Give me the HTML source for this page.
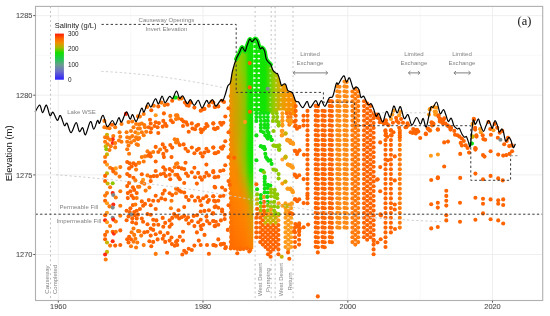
<!DOCTYPE html><html><head><meta charset="utf-8"><style>html,body{margin:0;padding:0;background:#fff;width:550px;height:316px;overflow:hidden}svg{display:block}text{font-family:"Liberation Sans",sans-serif}</style></head><body>
<svg width="550" height="316" viewBox="0 0 550 316">
<defs><linearGradient id="cb" x1="0" y1="1" x2="0" y2="0"><stop offset="0" stop-color="#2a1fff"/><stop offset="0.18" stop-color="#6c6cc8"/><stop offset="0.32" stop-color="#6a9c90"/><stop offset="0.45" stop-color="#20c850"/><stop offset="0.58" stop-color="#10e000"/><stop offset="0.70" stop-color="#a8b800"/><stop offset="0.80" stop-color="#f09000"/><stop offset="0.90" stop-color="#ff6000"/><stop offset="1" stop-color="#ff1a00"/></linearGradient><linearGradient id="bg0" x1="229.5" x2="253.5" y1="0" y2="0" gradientUnits="userSpaceOnUse"><stop offset="0.000" stop-color="#d8b400"/><stop offset="0.146" stop-color="#c0c000"/><stop offset="0.312" stop-color="#a0c800"/><stop offset="0.479" stop-color="#88d000"/><stop offset="0.646" stop-color="#60d800"/><stop offset="0.771" stop-color="#20e000"/><stop offset="0.854" stop-color="#10e400"/><stop offset="1.000" stop-color="#10e400"/></linearGradient><linearGradient id="bg1" x1="229.5" x2="253.5" y1="0" y2="0" gradientUnits="userSpaceOnUse"><stop offset="0.000" stop-color="#d8b400"/><stop offset="0.146" stop-color="#c0c000"/><stop offset="0.312" stop-color="#a0c800"/><stop offset="0.479" stop-color="#88d000"/><stop offset="0.646" stop-color="#60d800"/><stop offset="0.771" stop-color="#20e000"/><stop offset="0.854" stop-color="#10e400"/><stop offset="1.000" stop-color="#10e400"/></linearGradient><linearGradient id="bg2" x1="229.5" x2="253.5" y1="0" y2="0" gradientUnits="userSpaceOnUse"><stop offset="0.000" stop-color="#d9b300"/><stop offset="0.146" stop-color="#c1bf00"/><stop offset="0.312" stop-color="#a1c800"/><stop offset="0.479" stop-color="#89d000"/><stop offset="0.646" stop-color="#62d800"/><stop offset="0.771" stop-color="#21e000"/><stop offset="0.854" stop-color="#10e400"/><stop offset="1.000" stop-color="#10e400"/></linearGradient><linearGradient id="bg3" x1="229.5" x2="253.5" y1="0" y2="0" gradientUnits="userSpaceOnUse"><stop offset="0.000" stop-color="#dab100"/><stop offset="0.146" stop-color="#c2be00"/><stop offset="0.312" stop-color="#a2c700"/><stop offset="0.479" stop-color="#8acf00"/><stop offset="0.646" stop-color="#63d700"/><stop offset="0.771" stop-color="#22e000"/><stop offset="0.854" stop-color="#10e400"/><stop offset="1.000" stop-color="#10e400"/></linearGradient><linearGradient id="bg4" x1="229.5" x2="253.5" y1="0" y2="0" gradientUnits="userSpaceOnUse"><stop offset="0.000" stop-color="#dbb000"/><stop offset="0.146" stop-color="#c3bd00"/><stop offset="0.312" stop-color="#a3c700"/><stop offset="0.479" stop-color="#8bcf00"/><stop offset="0.646" stop-color="#65d700"/><stop offset="0.771" stop-color="#23e000"/><stop offset="0.854" stop-color="#10e400"/><stop offset="1.000" stop-color="#10e400"/></linearGradient><linearGradient id="bg5" x1="229.5" x2="253.5" y1="0" y2="0" gradientUnits="userSpaceOnUse"><stop offset="0.000" stop-color="#dbaf00"/><stop offset="0.146" stop-color="#c3bd00"/><stop offset="0.312" stop-color="#a3c600"/><stop offset="0.479" stop-color="#8bce00"/><stop offset="0.646" stop-color="#67d600"/><stop offset="0.771" stop-color="#23e000"/><stop offset="0.854" stop-color="#10e400"/><stop offset="1.000" stop-color="#10e400"/></linearGradient><linearGradient id="bg6" x1="229.5" x2="253.5" y1="0" y2="0" gradientUnits="userSpaceOnUse"><stop offset="0.000" stop-color="#dcae00"/><stop offset="0.146" stop-color="#c4bc00"/><stop offset="0.312" stop-color="#a4c600"/><stop offset="0.479" stop-color="#8cce00"/><stop offset="0.646" stop-color="#68d600"/><stop offset="0.771" stop-color="#24e000"/><stop offset="0.854" stop-color="#10e400"/><stop offset="1.000" stop-color="#10e400"/></linearGradient><linearGradient id="bg7" x1="229.5" x2="253.5" y1="0" y2="0" gradientUnits="userSpaceOnUse"><stop offset="0.000" stop-color="#ddad00"/><stop offset="0.146" stop-color="#c5bb00"/><stop offset="0.312" stop-color="#a5c600"/><stop offset="0.479" stop-color="#8dce00"/><stop offset="0.646" stop-color="#6ad600"/><stop offset="0.771" stop-color="#25e000"/><stop offset="0.854" stop-color="#10e400"/><stop offset="1.000" stop-color="#10e400"/></linearGradient><linearGradient id="bg8" x1="229.5" x2="253.5" y1="0" y2="0" gradientUnits="userSpaceOnUse"><stop offset="0.000" stop-color="#deab00"/><stop offset="0.146" stop-color="#c6ba00"/><stop offset="0.312" stop-color="#a6c500"/><stop offset="0.479" stop-color="#8ecd00"/><stop offset="0.646" stop-color="#6bd500"/><stop offset="0.771" stop-color="#26e000"/><stop offset="0.854" stop-color="#10e400"/><stop offset="1.000" stop-color="#10e400"/></linearGradient><linearGradient id="bg9" x1="229.5" x2="253.5" y1="0" y2="0" gradientUnits="userSpaceOnUse"><stop offset="0.000" stop-color="#dfaa00"/><stop offset="0.146" stop-color="#c7b900"/><stop offset="0.312" stop-color="#a7c500"/><stop offset="0.479" stop-color="#8fcd00"/><stop offset="0.646" stop-color="#6dd500"/><stop offset="0.771" stop-color="#27e000"/><stop offset="0.854" stop-color="#10e400"/><stop offset="1.000" stop-color="#10e400"/></linearGradient><linearGradient id="bg10" x1="229.5" x2="253.5" y1="0" y2="0" gradientUnits="userSpaceOnUse"><stop offset="0.000" stop-color="#dfa900"/><stop offset="0.146" stop-color="#c7b900"/><stop offset="0.312" stop-color="#a7c400"/><stop offset="0.479" stop-color="#8fcc00"/><stop offset="0.646" stop-color="#6fd400"/><stop offset="0.771" stop-color="#27e000"/><stop offset="0.854" stop-color="#10e400"/><stop offset="1.000" stop-color="#10e400"/></linearGradient><linearGradient id="bg11" x1="229.5" x2="253.5" y1="0" y2="0" gradientUnits="userSpaceOnUse"><stop offset="0.000" stop-color="#e0a800"/><stop offset="0.146" stop-color="#c8b700"/><stop offset="0.312" stop-color="#a9c300"/><stop offset="0.479" stop-color="#91cc00"/><stop offset="0.646" stop-color="#71d400"/><stop offset="0.771" stop-color="#28e000"/><stop offset="0.854" stop-color="#10e400"/><stop offset="1.000" stop-color="#10e400"/></linearGradient><linearGradient id="bg12" x1="229.5" x2="253.5" y1="0" y2="0" gradientUnits="userSpaceOnUse"><stop offset="0.000" stop-color="#e1a500"/><stop offset="0.146" stop-color="#cbb400"/><stop offset="0.312" stop-color="#aebf00"/><stop offset="0.479" stop-color="#95c800"/><stop offset="0.646" stop-color="#74d200"/><stop offset="0.771" stop-color="#29df00"/><stop offset="0.854" stop-color="#10e400"/><stop offset="1.000" stop-color="#10e400"/></linearGradient><linearGradient id="bg13" x1="229.5" x2="253.5" y1="0" y2="0" gradientUnits="userSpaceOnUse"><stop offset="0.000" stop-color="#e3a300"/><stop offset="0.146" stop-color="#cdb000"/><stop offset="0.312" stop-color="#b2bb00"/><stop offset="0.479" stop-color="#99c600"/><stop offset="0.646" stop-color="#78d000"/><stop offset="0.771" stop-color="#2bdf00"/><stop offset="0.854" stop-color="#10e400"/><stop offset="1.000" stop-color="#10e400"/></linearGradient><linearGradient id="bg14" x1="229.5" x2="253.5" y1="0" y2="0" gradientUnits="userSpaceOnUse"><stop offset="0.000" stop-color="#e4a000"/><stop offset="0.146" stop-color="#d0ad00"/><stop offset="0.312" stop-color="#b7b700"/><stop offset="0.479" stop-color="#9dc200"/><stop offset="0.646" stop-color="#7bce00"/><stop offset="0.771" stop-color="#2cde00"/><stop offset="0.854" stop-color="#10e400"/><stop offset="1.000" stop-color="#10e400"/></linearGradient><linearGradient id="bg15" x1="229.5" x2="253.5" y1="0" y2="0" gradientUnits="userSpaceOnUse"><stop offset="0.000" stop-color="#e59e00"/><stop offset="0.146" stop-color="#d2a900"/><stop offset="0.312" stop-color="#bcb200"/><stop offset="0.479" stop-color="#a2c000"/><stop offset="0.646" stop-color="#7fcc00"/><stop offset="0.771" stop-color="#2dde00"/><stop offset="0.854" stop-color="#10e400"/><stop offset="1.000" stop-color="#10e400"/></linearGradient><linearGradient id="bg16" x1="229.5" x2="253.5" y1="0" y2="0" gradientUnits="userSpaceOnUse"><stop offset="0.000" stop-color="#e69c00"/><stop offset="0.146" stop-color="#d4a500"/><stop offset="0.312" stop-color="#c1ae00"/><stop offset="0.479" stop-color="#a6bc00"/><stop offset="0.646" stop-color="#83cb00"/><stop offset="0.771" stop-color="#2edd00"/><stop offset="0.854" stop-color="#10e400"/><stop offset="1.000" stop-color="#10e400"/></linearGradient><linearGradient id="bg17" x1="229.5" x2="253.5" y1="0" y2="0" gradientUnits="userSpaceOnUse"><stop offset="0.000" stop-color="#e79900"/><stop offset="0.146" stop-color="#d7a200"/><stop offset="0.312" stop-color="#c6aa00"/><stop offset="0.479" stop-color="#aaba00"/><stop offset="0.646" stop-color="#86c900"/><stop offset="0.771" stop-color="#2fdc00"/><stop offset="0.854" stop-color="#10e400"/><stop offset="1.000" stop-color="#10e400"/></linearGradient><linearGradient id="bg18" x1="229.5" x2="253.5" y1="0" y2="0" gradientUnits="userSpaceOnUse"><stop offset="0.000" stop-color="#e89800"/><stop offset="0.146" stop-color="#d8a000"/><stop offset="0.312" stop-color="#c8a800"/><stop offset="0.479" stop-color="#acb800"/><stop offset="0.646" stop-color="#88c800"/><stop offset="0.771" stop-color="#30dc00"/><stop offset="0.854" stop-color="#10e400"/><stop offset="1.000" stop-color="#10e400"/></linearGradient><linearGradient id="bg19" x1="229.5" x2="253.5" y1="0" y2="0" gradientUnits="userSpaceOnUse"><stop offset="0.000" stop-color="#e99700"/><stop offset="0.146" stop-color="#d99f00"/><stop offset="0.312" stop-color="#c8a700"/><stop offset="0.479" stop-color="#adb700"/><stop offset="0.646" stop-color="#88c700"/><stop offset="0.771" stop-color="#30dc00"/><stop offset="0.854" stop-color="#10e400"/><stop offset="1.000" stop-color="#10e400"/></linearGradient><linearGradient id="bg20" x1="229.5" x2="253.5" y1="0" y2="0" gradientUnits="userSpaceOnUse"><stop offset="0.000" stop-color="#ea9600"/><stop offset="0.146" stop-color="#d99f00"/><stop offset="0.312" stop-color="#c8a700"/><stop offset="0.479" stop-color="#adb700"/><stop offset="0.646" stop-color="#88c700"/><stop offset="0.771" stop-color="#30dc00"/><stop offset="0.854" stop-color="#10e400"/><stop offset="1.000" stop-color="#10e400"/></linearGradient><linearGradient id="bg21" x1="229.5" x2="253.5" y1="0" y2="0" gradientUnits="userSpaceOnUse"><stop offset="0.000" stop-color="#ea9600"/><stop offset="0.146" stop-color="#d99f00"/><stop offset="0.312" stop-color="#c8a700"/><stop offset="0.479" stop-color="#adb700"/><stop offset="0.646" stop-color="#88c700"/><stop offset="0.771" stop-color="#30dc00"/><stop offset="0.854" stop-color="#10e400"/><stop offset="1.000" stop-color="#10e400"/></linearGradient><linearGradient id="bg22" x1="229.5" x2="253.5" y1="0" y2="0" gradientUnits="userSpaceOnUse"><stop offset="0.000" stop-color="#eb9500"/><stop offset="0.146" stop-color="#da9e00"/><stop offset="0.312" stop-color="#c8a600"/><stop offset="0.479" stop-color="#aeb600"/><stop offset="0.646" stop-color="#88c600"/><stop offset="0.771" stop-color="#30dc00"/><stop offset="0.854" stop-color="#10e400"/><stop offset="1.000" stop-color="#10e400"/></linearGradient><linearGradient id="bg23" x1="229.5" x2="253.5" y1="0" y2="0" gradientUnits="userSpaceOnUse"><stop offset="0.000" stop-color="#eb9500"/><stop offset="0.146" stop-color="#da9e00"/><stop offset="0.312" stop-color="#c8a600"/><stop offset="0.479" stop-color="#aeb600"/><stop offset="0.646" stop-color="#88c600"/><stop offset="0.771" stop-color="#30dc00"/><stop offset="0.854" stop-color="#10e400"/><stop offset="1.000" stop-color="#10e400"/></linearGradient><linearGradient id="bg24" x1="229.5" x2="253.5" y1="0" y2="0" gradientUnits="userSpaceOnUse"><stop offset="0.000" stop-color="#ec9400"/><stop offset="0.146" stop-color="#db9d00"/><stop offset="0.312" stop-color="#c8a500"/><stop offset="0.479" stop-color="#afb500"/><stop offset="0.646" stop-color="#88c500"/><stop offset="0.771" stop-color="#30dc00"/><stop offset="0.854" stop-color="#10e400"/><stop offset="1.000" stop-color="#10e400"/></linearGradient><linearGradient id="bg25" x1="229.5" x2="253.5" y1="0" y2="0" gradientUnits="userSpaceOnUse"><stop offset="0.000" stop-color="#ec9400"/><stop offset="0.146" stop-color="#db9d00"/><stop offset="0.312" stop-color="#c8a500"/><stop offset="0.479" stop-color="#afb500"/><stop offset="0.646" stop-color="#88c500"/><stop offset="0.771" stop-color="#30dc00"/><stop offset="0.854" stop-color="#10e400"/><stop offset="1.000" stop-color="#10e400"/></linearGradient><linearGradient id="bg26" x1="229.5" x2="253.5" y1="0" y2="0" gradientUnits="userSpaceOnUse"><stop offset="0.000" stop-color="#ed9300"/><stop offset="0.146" stop-color="#db9d00"/><stop offset="0.312" stop-color="#c8a500"/><stop offset="0.479" stop-color="#afb500"/><stop offset="0.646" stop-color="#88c500"/><stop offset="0.771" stop-color="#30dc00"/><stop offset="0.854" stop-color="#10e400"/><stop offset="1.000" stop-color="#10e400"/></linearGradient><linearGradient id="bg27" x1="229.5" x2="253.5" y1="0" y2="0" gradientUnits="userSpaceOnUse"><stop offset="0.000" stop-color="#ee9200"/><stop offset="0.146" stop-color="#dc9c00"/><stop offset="0.312" stop-color="#c8a400"/><stop offset="0.479" stop-color="#b0b400"/><stop offset="0.646" stop-color="#88c400"/><stop offset="0.771" stop-color="#30dc00"/><stop offset="0.854" stop-color="#10e400"/><stop offset="1.000" stop-color="#10e400"/></linearGradient><linearGradient id="bg28" x1="229.5" x2="253.5" y1="0" y2="0" gradientUnits="userSpaceOnUse"><stop offset="0.000" stop-color="#ee9200"/><stop offset="0.146" stop-color="#dd9b00"/><stop offset="0.312" stop-color="#c9a400"/><stop offset="0.479" stop-color="#b0b400"/><stop offset="0.646" stop-color="#88c400"/><stop offset="0.771" stop-color="#30dc00"/><stop offset="0.854" stop-color="#10e400"/><stop offset="1.000" stop-color="#10e400"/></linearGradient><linearGradient id="bg29" x1="229.5" x2="253.5" y1="0" y2="0" gradientUnits="userSpaceOnUse"><stop offset="0.000" stop-color="#ef9100"/><stop offset="0.146" stop-color="#df9a00"/><stop offset="0.312" stop-color="#cba300"/><stop offset="0.479" stop-color="#b0b500"/><stop offset="0.646" stop-color="#87c500"/><stop offset="0.771" stop-color="#30dc00"/><stop offset="0.854" stop-color="#10e400"/><stop offset="1.000" stop-color="#10e400"/></linearGradient><linearGradient id="bg30" x1="229.5" x2="253.5" y1="0" y2="0" gradientUnits="userSpaceOnUse"><stop offset="0.000" stop-color="#f09000"/><stop offset="0.146" stop-color="#e09900"/><stop offset="0.312" stop-color="#cca300"/><stop offset="0.479" stop-color="#b0b500"/><stop offset="0.646" stop-color="#87c500"/><stop offset="0.771" stop-color="#30dc00"/><stop offset="0.854" stop-color="#10e400"/><stop offset="1.000" stop-color="#10e400"/></linearGradient><linearGradient id="bg31" x1="229.5" x2="253.5" y1="0" y2="0" gradientUnits="userSpaceOnUse"><stop offset="0.000" stop-color="#f18f00"/><stop offset="0.146" stop-color="#e29700"/><stop offset="0.312" stop-color="#cea300"/><stop offset="0.479" stop-color="#b0b500"/><stop offset="0.646" stop-color="#87c500"/><stop offset="0.771" stop-color="#30dc00"/><stop offset="0.854" stop-color="#10e400"/><stop offset="1.000" stop-color="#10e400"/></linearGradient><linearGradient id="bg32" x1="229.5" x2="253.5" y1="0" y2="0" gradientUnits="userSpaceOnUse"><stop offset="0.000" stop-color="#f28e00"/><stop offset="0.146" stop-color="#e49600"/><stop offset="0.312" stop-color="#d0a200"/><stop offset="0.479" stop-color="#b0b600"/><stop offset="0.646" stop-color="#86c600"/><stop offset="0.771" stop-color="#30dc00"/><stop offset="0.854" stop-color="#10e400"/><stop offset="1.000" stop-color="#10e400"/></linearGradient><linearGradient id="bg33" x1="229.5" x2="253.5" y1="0" y2="0" gradientUnits="userSpaceOnUse"><stop offset="0.000" stop-color="#f38d00"/><stop offset="0.146" stop-color="#e59400"/><stop offset="0.312" stop-color="#d1a200"/><stop offset="0.479" stop-color="#b0b600"/><stop offset="0.646" stop-color="#86c600"/><stop offset="0.771" stop-color="#30dc00"/><stop offset="0.854" stop-color="#10e400"/><stop offset="1.000" stop-color="#10e400"/></linearGradient><linearGradient id="bg34" x1="229.5" x2="253.5" y1="0" y2="0" gradientUnits="userSpaceOnUse"><stop offset="0.000" stop-color="#f48c00"/><stop offset="0.146" stop-color="#e79300"/><stop offset="0.312" stop-color="#d3a200"/><stop offset="0.479" stop-color="#b0b600"/><stop offset="0.646" stop-color="#86c600"/><stop offset="0.771" stop-color="#30dc00"/><stop offset="0.854" stop-color="#10e400"/><stop offset="1.000" stop-color="#10e400"/></linearGradient><linearGradient id="bg35" x1="229.5" x2="253.5" y1="0" y2="0" gradientUnits="userSpaceOnUse"><stop offset="0.000" stop-color="#f48c00"/><stop offset="0.146" stop-color="#e99200"/><stop offset="0.312" stop-color="#d5a100"/><stop offset="0.479" stop-color="#b0b700"/><stop offset="0.646" stop-color="#85c700"/><stop offset="0.771" stop-color="#30dc00"/><stop offset="0.854" stop-color="#10e400"/><stop offset="1.000" stop-color="#10e400"/></linearGradient><linearGradient id="bg36" x1="229.5" x2="253.5" y1="0" y2="0" gradientUnits="userSpaceOnUse"><stop offset="0.000" stop-color="#f58b00"/><stop offset="0.146" stop-color="#eb9000"/><stop offset="0.312" stop-color="#d7a100"/><stop offset="0.479" stop-color="#b0b700"/><stop offset="0.646" stop-color="#85c700"/><stop offset="0.771" stop-color="#30dc00"/><stop offset="0.854" stop-color="#10e400"/><stop offset="1.000" stop-color="#10e400"/></linearGradient><linearGradient id="bg37" x1="229.5" x2="253.5" y1="0" y2="0" gradientUnits="userSpaceOnUse"><stop offset="0.000" stop-color="#f68a00"/><stop offset="0.146" stop-color="#ec8f00"/><stop offset="0.312" stop-color="#d8a100"/><stop offset="0.479" stop-color="#b0b700"/><stop offset="0.646" stop-color="#85c700"/><stop offset="0.771" stop-color="#30dc00"/><stop offset="0.854" stop-color="#10e400"/><stop offset="1.000" stop-color="#10e400"/></linearGradient><linearGradient id="bg38" x1="229.5" x2="253.5" y1="0" y2="0" gradientUnits="userSpaceOnUse"><stop offset="0.000" stop-color="#f78900"/><stop offset="0.146" stop-color="#ee8e00"/><stop offset="0.312" stop-color="#daa000"/><stop offset="0.479" stop-color="#b0b800"/><stop offset="0.646" stop-color="#84c800"/><stop offset="0.771" stop-color="#30dc00"/><stop offset="0.854" stop-color="#10e400"/><stop offset="1.000" stop-color="#10e400"/></linearGradient><linearGradient id="bg39" x1="229.5" x2="253.5" y1="0" y2="0" gradientUnits="userSpaceOnUse"><stop offset="0.000" stop-color="#f88800"/><stop offset="0.146" stop-color="#f08c00"/><stop offset="0.312" stop-color="#dca000"/><stop offset="0.479" stop-color="#b0b800"/><stop offset="0.646" stop-color="#84c800"/><stop offset="0.771" stop-color="#30dc00"/><stop offset="0.854" stop-color="#10e400"/><stop offset="1.000" stop-color="#10e400"/></linearGradient><linearGradient id="bg40" x1="229.5" x2="253.5" y1="0" y2="0" gradientUnits="userSpaceOnUse"><stop offset="0.000" stop-color="#f98800"/><stop offset="0.146" stop-color="#f28b00"/><stop offset="0.312" stop-color="#df9d00"/><stop offset="0.479" stop-color="#b4b600"/><stop offset="0.646" stop-color="#87c700"/><stop offset="0.771" stop-color="#35db00"/><stop offset="0.854" stop-color="#12e300"/><stop offset="1.000" stop-color="#12e300"/></linearGradient><linearGradient id="bg41" x1="229.5" x2="253.5" y1="0" y2="0" gradientUnits="userSpaceOnUse"><stop offset="0.000" stop-color="#fa8800"/><stop offset="0.146" stop-color="#f48b00"/><stop offset="0.312" stop-color="#e29a00"/><stop offset="0.479" stop-color="#b8b300"/><stop offset="0.646" stop-color="#8ac700"/><stop offset="0.771" stop-color="#3ad900"/><stop offset="0.854" stop-color="#15e300"/><stop offset="1.000" stop-color="#15e300"/></linearGradient><linearGradient id="bg42" x1="229.5" x2="253.5" y1="0" y2="0" gradientUnits="userSpaceOnUse"><stop offset="0.000" stop-color="#fc8800"/><stop offset="0.146" stop-color="#f68a00"/><stop offset="0.312" stop-color="#e69600"/><stop offset="0.479" stop-color="#bcb000"/><stop offset="0.646" stop-color="#8ec600"/><stop offset="0.771" stop-color="#40d800"/><stop offset="0.854" stop-color="#18e200"/><stop offset="1.000" stop-color="#18e200"/></linearGradient><linearGradient id="bg43" x1="229.5" x2="253.5" y1="0" y2="0" gradientUnits="userSpaceOnUse"><stop offset="0.000" stop-color="#fd8800"/><stop offset="0.146" stop-color="#f88900"/><stop offset="0.312" stop-color="#ea9200"/><stop offset="0.479" stop-color="#c0ad00"/><stop offset="0.646" stop-color="#92c500"/><stop offset="0.771" stop-color="#46d700"/><stop offset="0.854" stop-color="#1be100"/><stop offset="1.000" stop-color="#1be100"/></linearGradient><linearGradient id="bg44" x1="229.5" x2="253.5" y1="0" y2="0" gradientUnits="userSpaceOnUse"><stop offset="0.000" stop-color="#fe8800"/><stop offset="0.146" stop-color="#fa8900"/><stop offset="0.312" stop-color="#ed8f00"/><stop offset="0.479" stop-color="#c4aa00"/><stop offset="0.646" stop-color="#95c500"/><stop offset="0.771" stop-color="#4bd500"/><stop offset="0.854" stop-color="#1ee100"/><stop offset="1.000" stop-color="#1ee100"/></linearGradient><linearGradient id="bg45" x1="229.5" x2="253.5" y1="0" y2="0" gradientUnits="userSpaceOnUse"><stop offset="0.000" stop-color="#ff8800"/><stop offset="0.146" stop-color="#fc8800"/><stop offset="0.312" stop-color="#f08c00"/><stop offset="0.479" stop-color="#c9a700"/><stop offset="0.646" stop-color="#9ac300"/><stop offset="0.771" stop-color="#52d300"/><stop offset="0.854" stop-color="#22df00"/><stop offset="1.000" stop-color="#22e000"/></linearGradient><linearGradient id="bg46" x1="229.5" x2="253.5" y1="0" y2="0" gradientUnits="userSpaceOnUse"><stop offset="0.000" stop-color="#ff8600"/><stop offset="0.146" stop-color="#fd8700"/><stop offset="0.312" stop-color="#f28b00"/><stop offset="0.479" stop-color="#d0a300"/><stop offset="0.646" stop-color="#a4bd00"/><stop offset="0.771" stop-color="#60cf00"/><stop offset="0.854" stop-color="#30dc00"/><stop offset="1.000" stop-color="#2cdd00"/></linearGradient><linearGradient id="bg47" x1="229.5" x2="253.5" y1="0" y2="0" gradientUnits="userSpaceOnUse"><stop offset="0.000" stop-color="#ff8500"/><stop offset="0.146" stop-color="#fd8700"/><stop offset="0.312" stop-color="#f48b00"/><stop offset="0.479" stop-color="#d69e00"/><stop offset="0.646" stop-color="#afb700"/><stop offset="0.771" stop-color="#6dca00"/><stop offset="0.854" stop-color="#3dd900"/><stop offset="1.000" stop-color="#37da00"/></linearGradient><linearGradient id="bg48" x1="229.5" x2="253.5" y1="0" y2="0" gradientUnits="userSpaceOnUse"><stop offset="0.000" stop-color="#ff8400"/><stop offset="0.146" stop-color="#fe8600"/><stop offset="0.312" stop-color="#f68a00"/><stop offset="0.479" stop-color="#dd9900"/><stop offset="0.646" stop-color="#bab100"/><stop offset="0.771" stop-color="#7ac500"/><stop offset="0.854" stop-color="#4ad500"/><stop offset="1.000" stop-color="#42d800"/></linearGradient><linearGradient id="bg49" x1="229.5" x2="253.5" y1="0" y2="0" gradientUnits="userSpaceOnUse"><stop offset="0.000" stop-color="#ff8200"/><stop offset="0.146" stop-color="#fe8500"/><stop offset="0.312" stop-color="#f88900"/><stop offset="0.479" stop-color="#e49500"/><stop offset="0.646" stop-color="#c4ab00"/><stop offset="0.771" stop-color="#88c100"/><stop offset="0.854" stop-color="#58d200"/><stop offset="1.000" stop-color="#4cd500"/></linearGradient><linearGradient id="bg50" x1="229.5" x2="253.5" y1="0" y2="0" gradientUnits="userSpaceOnUse"><stop offset="0.000" stop-color="#ff8100"/><stop offset="0.146" stop-color="#ff8500"/><stop offset="0.312" stop-color="#fa8900"/><stop offset="0.479" stop-color="#ea9000"/><stop offset="0.646" stop-color="#cfa500"/><stop offset="0.771" stop-color="#95bc00"/><stop offset="0.854" stop-color="#65cf00"/><stop offset="1.000" stop-color="#57d200"/></linearGradient><linearGradient id="bg51" x1="229.5" x2="253.5" y1="0" y2="0" gradientUnits="userSpaceOnUse"><stop offset="0.000" stop-color="#ff8000"/><stop offset="0.146" stop-color="#ff8400"/><stop offset="0.312" stop-color="#fc8800"/><stop offset="0.479" stop-color="#f08c00"/><stop offset="0.646" stop-color="#d99f00"/><stop offset="0.771" stop-color="#a2b700"/><stop offset="0.854" stop-color="#73cb00"/><stop offset="1.000" stop-color="#62cf00"/></linearGradient><linearGradient id="bg52" x1="229.5" x2="253.5" y1="0" y2="0" gradientUnits="userSpaceOnUse"><stop offset="0.000" stop-color="#ff7e00"/><stop offset="0.146" stop-color="#ff8200"/><stop offset="0.312" stop-color="#fd8600"/><stop offset="0.479" stop-color="#f38a00"/><stop offset="0.646" stop-color="#df9b00"/><stop offset="0.771" stop-color="#afb100"/><stop offset="0.854" stop-color="#83c500"/><stop offset="1.000" stop-color="#71c900"/></linearGradient><linearGradient id="bg53" x1="229.5" x2="253.5" y1="0" y2="0" gradientUnits="userSpaceOnUse"><stop offset="0.000" stop-color="#ff7d00"/><stop offset="0.146" stop-color="#ff8100"/><stop offset="0.312" stop-color="#fd8500"/><stop offset="0.479" stop-color="#f58900"/><stop offset="0.646" stop-color="#e49700"/><stop offset="0.771" stop-color="#bcaa00"/><stop offset="0.854" stop-color="#93be00"/><stop offset="1.000" stop-color="#7fc400"/></linearGradient><linearGradient id="bg54" x1="229.5" x2="253.5" y1="0" y2="0" gradientUnits="userSpaceOnUse"><stop offset="0.000" stop-color="#ff7b00"/><stop offset="0.146" stop-color="#ff7f00"/><stop offset="0.312" stop-color="#fe8300"/><stop offset="0.479" stop-color="#f88700"/><stop offset="0.646" stop-color="#ea9300"/><stop offset="0.771" stop-color="#c9a400"/><stop offset="0.854" stop-color="#a3b800"/><stop offset="1.000" stop-color="#8ebe00"/></linearGradient><linearGradient id="bg55" x1="229.5" x2="253.5" y1="0" y2="0" gradientUnits="userSpaceOnUse"><stop offset="0.000" stop-color="#ff7900"/><stop offset="0.146" stop-color="#ff7d00"/><stop offset="0.312" stop-color="#fe8100"/><stop offset="0.479" stop-color="#fa8500"/><stop offset="0.646" stop-color="#ef8f00"/><stop offset="0.771" stop-color="#d59d00"/><stop offset="0.854" stop-color="#b3b100"/><stop offset="1.000" stop-color="#9cb900"/></linearGradient><linearGradient id="bg56" x1="229.5" x2="253.5" y1="0" y2="0" gradientUnits="userSpaceOnUse"><stop offset="0.000" stop-color="#ff7800"/><stop offset="0.146" stop-color="#ff7c00"/><stop offset="0.312" stop-color="#ff8000"/><stop offset="0.479" stop-color="#fc8400"/><stop offset="0.646" stop-color="#f48c00"/><stop offset="0.771" stop-color="#e19800"/><stop offset="0.854" stop-color="#c1ab00"/><stop offset="1.000" stop-color="#aab300"/></linearGradient><linearGradient id="bg57" x1="229.5" x2="253.5" y1="0" y2="0" gradientUnits="userSpaceOnUse"><stop offset="0.000" stop-color="#ff7700"/><stop offset="0.146" stop-color="#ff7b00"/><stop offset="0.312" stop-color="#ff7f00"/><stop offset="0.479" stop-color="#fd8300"/><stop offset="0.646" stop-color="#f68a00"/><stop offset="0.771" stop-color="#e59500"/><stop offset="0.854" stop-color="#c9a600"/><stop offset="1.000" stop-color="#b3af00"/></linearGradient><linearGradient id="bg58" x1="229.5" x2="253.5" y1="0" y2="0" gradientUnits="userSpaceOnUse"><stop offset="0.000" stop-color="#ff7600"/><stop offset="0.146" stop-color="#ff7a00"/><stop offset="0.312" stop-color="#ff7e00"/><stop offset="0.479" stop-color="#fd8200"/><stop offset="0.646" stop-color="#f78900"/><stop offset="0.771" stop-color="#e99300"/><stop offset="0.854" stop-color="#d1a200"/><stop offset="1.000" stop-color="#bdab00"/></linearGradient><linearGradient id="bg59" x1="229.5" x2="253.5" y1="0" y2="0" gradientUnits="userSpaceOnUse"><stop offset="0.000" stop-color="#ff7500"/><stop offset="0.146" stop-color="#ff7900"/><stop offset="0.312" stop-color="#ff7d00"/><stop offset="0.479" stop-color="#fe8100"/><stop offset="0.646" stop-color="#f98700"/><stop offset="0.771" stop-color="#ed9000"/><stop offset="0.854" stop-color="#d99d00"/><stop offset="1.000" stop-color="#c6a700"/></linearGradient><linearGradient id="bg60" x1="229.5" x2="253.5" y1="0" y2="0" gradientUnits="userSpaceOnUse"><stop offset="0.000" stop-color="#ff7500"/><stop offset="0.146" stop-color="#ff7900"/><stop offset="0.312" stop-color="#ff7d00"/><stop offset="0.479" stop-color="#fe8100"/><stop offset="0.646" stop-color="#fb8500"/><stop offset="0.771" stop-color="#f18e00"/><stop offset="0.854" stop-color="#e19800"/><stop offset="1.000" stop-color="#d0a300"/></linearGradient><linearGradient id="bg61" x1="229.5" x2="253.5" y1="0" y2="0" gradientUnits="userSpaceOnUse"><stop offset="0.000" stop-color="#ff7400"/><stop offset="0.146" stop-color="#ff7800"/><stop offset="0.312" stop-color="#ff7c00"/><stop offset="0.479" stop-color="#ff8000"/><stop offset="0.646" stop-color="#fc8400"/><stop offset="0.771" stop-color="#f48c00"/><stop offset="0.854" stop-color="#e89400"/><stop offset="1.000" stop-color="#d99f00"/></linearGradient><linearGradient id="bg62" x1="229.5" x2="253.5" y1="0" y2="0" gradientUnits="userSpaceOnUse"><stop offset="0.000" stop-color="#ff7300"/><stop offset="0.146" stop-color="#ff7700"/><stop offset="0.312" stop-color="#ff7b00"/><stop offset="0.479" stop-color="#ff7e00"/><stop offset="0.646" stop-color="#fc8200"/><stop offset="0.771" stop-color="#f58a00"/><stop offset="0.854" stop-color="#eb9100"/><stop offset="1.000" stop-color="#dd9c00"/></linearGradient><linearGradient id="bg63" x1="229.5" x2="253.5" y1="0" y2="0" gradientUnits="userSpaceOnUse"><stop offset="0.000" stop-color="#ff7200"/><stop offset="0.146" stop-color="#ff7500"/><stop offset="0.312" stop-color="#ff7900"/><stop offset="0.479" stop-color="#ff7d00"/><stop offset="0.646" stop-color="#fd8100"/><stop offset="0.771" stop-color="#f68800"/><stop offset="0.854" stop-color="#ed8f00"/><stop offset="1.000" stop-color="#e09900"/></linearGradient><linearGradient id="bg64" x1="229.5" x2="253.5" y1="0" y2="0" gradientUnits="userSpaceOnUse"><stop offset="0.000" stop-color="#ff7100"/><stop offset="0.146" stop-color="#ff7400"/><stop offset="0.312" stop-color="#ff7800"/><stop offset="0.479" stop-color="#ff7b00"/><stop offset="0.646" stop-color="#fd7f00"/><stop offset="0.771" stop-color="#f78600"/><stop offset="0.854" stop-color="#ef8c00"/><stop offset="1.000" stop-color="#e49600"/></linearGradient><linearGradient id="bg65" x1="229.5" x2="253.5" y1="0" y2="0" gradientUnits="userSpaceOnUse"><stop offset="0.000" stop-color="#ff7100"/><stop offset="0.146" stop-color="#ff7300"/><stop offset="0.312" stop-color="#ff7700"/><stop offset="0.479" stop-color="#ff7900"/><stop offset="0.646" stop-color="#fd7d00"/><stop offset="0.771" stop-color="#f98400"/><stop offset="0.854" stop-color="#f28a00"/><stop offset="1.000" stop-color="#e89300"/></linearGradient><linearGradient id="bg66" x1="229.5" x2="253.5" y1="0" y2="0" gradientUnits="userSpaceOnUse"><stop offset="0.000" stop-color="#ff7000"/><stop offset="0.146" stop-color="#ff7200"/><stop offset="0.312" stop-color="#ff7600"/><stop offset="0.479" stop-color="#ff7800"/><stop offset="0.646" stop-color="#fe7c00"/><stop offset="0.771" stop-color="#fa8200"/><stop offset="0.854" stop-color="#f48800"/><stop offset="1.000" stop-color="#ec8f00"/></linearGradient><linearGradient id="bg67" x1="229.5" x2="253.5" y1="0" y2="0" gradientUnits="userSpaceOnUse"><stop offset="0.000" stop-color="#ff6f00"/><stop offset="0.146" stop-color="#ff7100"/><stop offset="0.312" stop-color="#ff7500"/><stop offset="0.479" stop-color="#ff7600"/><stop offset="0.646" stop-color="#fe7a00"/><stop offset="0.771" stop-color="#fb8000"/><stop offset="0.854" stop-color="#f68500"/><stop offset="1.000" stop-color="#f08c00"/></linearGradient><linearGradient id="bg68" x1="229.5" x2="253.5" y1="0" y2="0" gradientUnits="userSpaceOnUse"><stop offset="0.000" stop-color="#ff6e00"/><stop offset="0.146" stop-color="#ff6f00"/><stop offset="0.312" stop-color="#ff7300"/><stop offset="0.479" stop-color="#ff7500"/><stop offset="0.646" stop-color="#fe7900"/><stop offset="0.771" stop-color="#fc7e00"/><stop offset="0.854" stop-color="#f88300"/><stop offset="1.000" stop-color="#f48900"/></linearGradient><linearGradient id="bg69" x1="229.5" x2="253.5" y1="0" y2="0" gradientUnits="userSpaceOnUse"><stop offset="0.000" stop-color="#ff6d00"/><stop offset="0.146" stop-color="#ff6e00"/><stop offset="0.312" stop-color="#ff7200"/><stop offset="0.479" stop-color="#ff7300"/><stop offset="0.646" stop-color="#fe7700"/><stop offset="0.771" stop-color="#fd7c00"/><stop offset="0.854" stop-color="#fb8000"/><stop offset="1.000" stop-color="#f88600"/></linearGradient><linearGradient id="bg70" x1="229.5" x2="253.5" y1="0" y2="0" gradientUnits="userSpaceOnUse"><stop offset="0.000" stop-color="#ff6d00"/><stop offset="0.146" stop-color="#ff6d00"/><stop offset="0.312" stop-color="#ff7100"/><stop offset="0.479" stop-color="#ff7100"/><stop offset="0.646" stop-color="#ff7500"/><stop offset="0.771" stop-color="#fe7a00"/><stop offset="0.854" stop-color="#fd7e00"/><stop offset="1.000" stop-color="#fc8300"/></linearGradient><linearGradient id="bg71" x1="229.5" x2="253.5" y1="0" y2="0" gradientUnits="userSpaceOnUse"><stop offset="0.000" stop-color="#ff6c00"/><stop offset="0.146" stop-color="#ff6c00"/><stop offset="0.312" stop-color="#ff7000"/><stop offset="0.479" stop-color="#ff7000"/><stop offset="0.646" stop-color="#ff7400"/><stop offset="0.771" stop-color="#ff7800"/><stop offset="0.854" stop-color="#ff7c00"/><stop offset="1.000" stop-color="#ff8000"/></linearGradient><clipPath id="clipB"><polygon points="229.6,83.7 230.4,82.7 232.5,71.0 236.2,59.0 239.4,52.7 242.2,47.0 245.1,51.4 247.0,45.7 249.8,39.1 252.0,41.9 253.5,40.3 253.5,249.0 229.6,249.0"/></clipPath><linearGradient id="cgr" x1="253" x2="296.2" y1="0" y2="0" gradientUnits="userSpaceOnUse"><stop offset="0" stop-color="#10e400"/><stop offset="0.28" stop-color="#10e400"/><stop offset="0.46" stop-color="#90cc00"/><stop offset="0.56" stop-color="#b8bc00"/><stop offset="0.66" stop-color="#e6a200"/><stop offset="0.8" stop-color="#f89400"/><stop offset="1" stop-color="#ff8a00"/></linearGradient><clipPath id="pc"><rect x="35.5" y="6.4" width="507.20000000000005" height="294.1"/></clipPath></defs>
<line x1="130.7" y1="6.4" x2="130.7" y2="300.5" stroke="#f5f5f5" stroke-width="0.6"/><line x1="275.4" y1="6.4" x2="275.4" y2="300.5" stroke="#f5f5f5" stroke-width="0.6"/><line x1="420.2" y1="6.4" x2="420.2" y2="300.5" stroke="#f5f5f5" stroke-width="0.6"/><line x1="35.5" y1="214.7" x2="542.7" y2="214.7" stroke="#f5f5f5" stroke-width="0.6"/><line x1="35.5" y1="135.1" x2="542.7" y2="135.1" stroke="#f5f5f5" stroke-width="0.6"/><line x1="35.5" y1="55.4" x2="542.7" y2="55.4" stroke="#f5f5f5" stroke-width="0.6"/><line x1="58.3" y1="6.4" x2="58.3" y2="300.5" stroke="#ededed" stroke-width="0.9"/><line x1="203" y1="6.4" x2="203" y2="300.5" stroke="#ededed" stroke-width="0.9"/><line x1="347.8" y1="6.4" x2="347.8" y2="300.5" stroke="#ededed" stroke-width="0.9"/><line x1="492.5" y1="6.4" x2="492.5" y2="300.5" stroke="#ededed" stroke-width="0.9"/><line x1="35.5" y1="254.5" x2="542.7" y2="254.5" stroke="#ededed" stroke-width="0.9"/><line x1="35.5" y1="174.9" x2="542.7" y2="174.9" stroke="#ededed" stroke-width="0.9"/><line x1="35.5" y1="95.2" x2="542.7" y2="95.2" stroke="#ededed" stroke-width="0.9"/><line x1="35.5" y1="15.6" x2="542.7" y2="15.6" stroke="#ededed" stroke-width="0.9"/>
<line x1="50.5" y1="6.4" x2="50.5" y2="300.5" stroke="#b8b8b8" stroke-width="0.9" stroke-dasharray="1.8 2.8"/>
<line x1="255.1" y1="6.4" x2="255.1" y2="300.5" stroke="#b8b8b8" stroke-width="0.9" stroke-dasharray="1.8 2.8"/>
<line x1="271.2" y1="6.4" x2="271.2" y2="300.5" stroke="#b8b8b8" stroke-width="0.9" stroke-dasharray="1.8 2.8"/>
<line x1="275.1" y1="6.4" x2="275.1" y2="300.5" stroke="#b8b8b8" stroke-width="0.9" stroke-dasharray="1.8 2.8"/>
<line x1="293.0" y1="6.4" x2="293.0" y2="300.5" stroke="#b8b8b8" stroke-width="0.9" stroke-dasharray="1.8 2.8"/>
<path d="M101.4 71.4 Q160 74 224 87.8" fill="none" stroke="#c8c8c8" stroke-width="0.9" stroke-dasharray="2.2 2.4"/>
<g clip-path="url(#pc)"><g clip-path="url(#clipB)"><rect x="229.5" y="36.0" width="24.0" height="3.3" fill="url(#bg0)"/><rect x="229.5" y="39.0" width="24.0" height="3.3" fill="url(#bg1)"/><rect x="229.5" y="42.0" width="24.0" height="3.3" fill="url(#bg2)"/><rect x="229.5" y="45.0" width="24.0" height="3.3" fill="url(#bg3)"/><rect x="229.5" y="48.0" width="24.0" height="3.3" fill="url(#bg4)"/><rect x="229.5" y="51.0" width="24.0" height="3.3" fill="url(#bg5)"/><rect x="229.5" y="54.0" width="24.0" height="3.3" fill="url(#bg6)"/><rect x="229.5" y="57.0" width="24.0" height="3.3" fill="url(#bg7)"/><rect x="229.5" y="60.0" width="24.0" height="3.3" fill="url(#bg8)"/><rect x="229.5" y="63.0" width="24.0" height="3.3" fill="url(#bg9)"/><rect x="229.5" y="66.0" width="24.0" height="3.3" fill="url(#bg10)"/><rect x="229.5" y="69.0" width="24.0" height="3.3" fill="url(#bg11)"/><rect x="229.5" y="72.0" width="24.0" height="3.3" fill="url(#bg12)"/><rect x="229.5" y="75.0" width="24.0" height="3.3" fill="url(#bg13)"/><rect x="229.5" y="78.0" width="24.0" height="3.3" fill="url(#bg14)"/><rect x="229.5" y="81.0" width="24.0" height="3.3" fill="url(#bg15)"/><rect x="229.5" y="84.0" width="24.0" height="3.3" fill="url(#bg16)"/><rect x="229.5" y="87.0" width="24.0" height="3.3" fill="url(#bg17)"/><rect x="229.5" y="90.0" width="24.0" height="3.3" fill="url(#bg18)"/><rect x="229.5" y="93.0" width="24.0" height="3.3" fill="url(#bg19)"/><rect x="229.5" y="96.0" width="24.0" height="3.3" fill="url(#bg20)"/><rect x="229.5" y="99.0" width="24.0" height="3.3" fill="url(#bg21)"/><rect x="229.5" y="102.0" width="24.0" height="3.3" fill="url(#bg22)"/><rect x="229.5" y="105.0" width="24.0" height="3.3" fill="url(#bg23)"/><rect x="229.5" y="108.0" width="24.0" height="3.3" fill="url(#bg24)"/><rect x="229.5" y="111.0" width="24.0" height="3.3" fill="url(#bg25)"/><rect x="229.5" y="114.0" width="24.0" height="3.3" fill="url(#bg26)"/><rect x="229.5" y="117.0" width="24.0" height="3.3" fill="url(#bg27)"/><rect x="229.5" y="120.0" width="24.0" height="3.3" fill="url(#bg28)"/><rect x="229.5" y="123.0" width="24.0" height="3.3" fill="url(#bg29)"/><rect x="229.5" y="126.0" width="24.0" height="3.3" fill="url(#bg30)"/><rect x="229.5" y="129.0" width="24.0" height="3.3" fill="url(#bg31)"/><rect x="229.5" y="132.0" width="24.0" height="3.3" fill="url(#bg32)"/><rect x="229.5" y="135.0" width="24.0" height="3.3" fill="url(#bg33)"/><rect x="229.5" y="138.0" width="24.0" height="3.3" fill="url(#bg34)"/><rect x="229.5" y="141.0" width="24.0" height="3.3" fill="url(#bg35)"/><rect x="229.5" y="144.0" width="24.0" height="3.3" fill="url(#bg36)"/><rect x="229.5" y="147.0" width="24.0" height="3.3" fill="url(#bg37)"/><rect x="229.5" y="150.0" width="24.0" height="3.3" fill="url(#bg38)"/><rect x="229.5" y="153.0" width="24.0" height="3.3" fill="url(#bg39)"/><rect x="229.5" y="156.0" width="24.0" height="3.3" fill="url(#bg40)"/><rect x="229.5" y="159.0" width="24.0" height="3.3" fill="url(#bg41)"/><rect x="229.5" y="162.0" width="24.0" height="3.3" fill="url(#bg42)"/><rect x="229.5" y="165.0" width="24.0" height="3.3" fill="url(#bg43)"/><rect x="229.5" y="168.0" width="24.0" height="3.3" fill="url(#bg44)"/><rect x="229.5" y="171.0" width="24.0" height="3.3" fill="url(#bg45)"/><rect x="229.5" y="174.0" width="24.0" height="3.3" fill="url(#bg46)"/><rect x="229.5" y="177.0" width="24.0" height="3.3" fill="url(#bg47)"/><rect x="229.5" y="180.0" width="24.0" height="3.3" fill="url(#bg48)"/><rect x="229.5" y="183.0" width="24.0" height="3.3" fill="url(#bg49)"/><rect x="229.5" y="186.0" width="24.0" height="3.3" fill="url(#bg50)"/><rect x="229.5" y="189.0" width="24.0" height="3.3" fill="url(#bg51)"/><rect x="229.5" y="192.0" width="24.0" height="3.3" fill="url(#bg52)"/><rect x="229.5" y="195.0" width="24.0" height="3.3" fill="url(#bg53)"/><rect x="229.5" y="198.0" width="24.0" height="3.3" fill="url(#bg54)"/><rect x="229.5" y="201.0" width="24.0" height="3.3" fill="url(#bg55)"/><rect x="229.5" y="204.0" width="24.0" height="3.3" fill="url(#bg56)"/><rect x="229.5" y="207.0" width="24.0" height="3.3" fill="url(#bg57)"/><rect x="229.5" y="210.0" width="24.0" height="3.3" fill="url(#bg58)"/><rect x="229.5" y="213.0" width="24.0" height="3.3" fill="url(#bg59)"/><rect x="229.5" y="216.0" width="24.0" height="3.3" fill="url(#bg60)"/><rect x="229.5" y="219.0" width="24.0" height="3.3" fill="url(#bg61)"/><rect x="229.5" y="222.0" width="24.0" height="3.3" fill="url(#bg62)"/><rect x="229.5" y="225.0" width="24.0" height="3.3" fill="url(#bg63)"/><rect x="229.5" y="228.0" width="24.0" height="3.3" fill="url(#bg64)"/><rect x="229.5" y="231.0" width="24.0" height="3.3" fill="url(#bg65)"/><rect x="229.5" y="234.0" width="24.0" height="3.3" fill="url(#bg66)"/><rect x="229.5" y="237.0" width="24.0" height="3.3" fill="url(#bg67)"/><rect x="229.5" y="240.0" width="24.0" height="3.3" fill="url(#bg68)"/><rect x="229.5" y="243.0" width="24.0" height="3.3" fill="url(#bg69)"/><rect x="229.5" y="246.0" width="24.0" height="3.3" fill="url(#bg70)"/><rect x="229.5" y="249.0" width="24.0" height="3.3" fill="url(#bg71)"/></g><polygon points="253.3,40.5 255.2,38.5 257.4,40.7 259.0,45.7 260.3,48.9 262.2,47.6 264.7,51.4 266.0,58.4 267.5,61.0 268.9,62.7 270.8,64.6 272.7,69.7 274.6,72.2 276.5,73.5 277.6,73.9 279.5,78.9 281.4,85.3 283.9,84.0 285.8,84.6 287.7,90.3 290.3,91.6 292.8,93.5 295.3,100.4 296.2,101.0 296.2,115.5 291.2,115.5 290.5,112.5 285.2,112.5 284.5,110.5 278.5,110.5 277.8,112.5 271.0,112.5 270.2,113.5 253.3,113.5" fill="url(#cgr)"/><circle cx="230.7" cy="248.6" r="1.95" fill="#ff6c00"/><circle cx="234.2" cy="248.4" r="1.95" fill="#ff6c00"/><circle cx="237.4" cy="249.0" r="1.95" fill="#ff6c00"/><circle cx="240.3" cy="249.3" r="1.95" fill="#ff6c00"/><circle cx="243.6" cy="249.1" r="1.95" fill="#ff6c00"/><circle cx="247.0" cy="248.5" r="1.95" fill="#ff6c00"/><circle cx="250.5" cy="249.9" r="1.95" fill="#ff6c00"/><circle cx="230.6" cy="96.0" r="1.9" fill="#e99700"/><circle cx="230.7" cy="100.9" r="1.9" fill="#ea9600"/><circle cx="230.9" cy="105.7" r="1.9" fill="#eb9500"/><circle cx="231.2" cy="110.6" r="1.9" fill="#ec9400"/><circle cx="230.9" cy="115.4" r="1.9" fill="#ed9300"/><circle cx="230.8" cy="120.3" r="1.9" fill="#ee9200"/><circle cx="231.2" cy="125.2" r="1.9" fill="#ef9100"/><circle cx="230.5" cy="130.0" r="1.9" fill="#f18f00"/><circle cx="231.1" cy="134.9" r="1.9" fill="#f28e00"/><circle cx="230.7" cy="139.7" r="1.9" fill="#f48c00"/><circle cx="230.6" cy="144.6" r="1.9" fill="#f58b00"/><circle cx="230.6" cy="149.5" r="1.9" fill="#f68a00"/><circle cx="230.7" cy="154.3" r="1.9" fill="#f88800"/><circle cx="231.1" cy="159.2" r="1.9" fill="#fa8800"/><circle cx="230.6" cy="164.0" r="1.9" fill="#fc8800"/><circle cx="230.9" cy="168.9" r="1.9" fill="#fe8800"/><circle cx="230.9" cy="173.8" r="1.9" fill="#ff8700"/><circle cx="230.8" cy="178.6" r="1.9" fill="#ff8500"/><circle cx="230.9" cy="183.5" r="1.9" fill="#ff8300"/><circle cx="230.5" cy="188.3" r="1.9" fill="#ff8100"/><circle cx="230.5" cy="193.2" r="1.9" fill="#ff7e00"/><circle cx="230.6" cy="198.1" r="1.9" fill="#ff7c00"/><circle cx="231.0" cy="202.9" r="1.9" fill="#ff7900"/><circle cx="230.8" cy="207.8" r="1.9" fill="#ff7700"/><circle cx="230.7" cy="212.6" r="1.9" fill="#ff7600"/><circle cx="230.9" cy="217.5" r="1.9" fill="#ff7500"/><circle cx="230.8" cy="222.4" r="1.9" fill="#ff7300"/><circle cx="230.7" cy="227.2" r="1.9" fill="#ff7200"/><circle cx="231.1" cy="232.1" r="1.9" fill="#ff7100"/><circle cx="231.0" cy="236.9" r="1.9" fill="#ff6f00"/><circle cx="230.7" cy="241.8" r="1.9" fill="#ff6e00"/><circle cx="230.9" cy="246.7" r="1.9" fill="#ff6d00"/><ellipse cx="254.4" cy="44.0" rx="1.35" ry="0.85" fill="#fff" fill-opacity="1"/><ellipse cx="254.4" cy="48.9" rx="1.35" ry="0.85" fill="#fff" fill-opacity="1"/><ellipse cx="254.4" cy="53.7" rx="1.35" ry="0.85" fill="#fff" fill-opacity="1"/><ellipse cx="254.4" cy="58.6" rx="1.35" ry="0.85" fill="#fff" fill-opacity="1"/><ellipse cx="254.4" cy="63.4" rx="1.35" ry="0.85" fill="#fff" fill-opacity="1"/><ellipse cx="254.4" cy="68.3" rx="1.35" ry="0.85" fill="#fff" fill-opacity="1"/><ellipse cx="254.4" cy="73.2" rx="1.35" ry="0.85" fill="#fff" fill-opacity="1"/><ellipse cx="254.4" cy="78.0" rx="1.35" ry="0.85" fill="#fff" fill-opacity="1"/><ellipse cx="254.4" cy="82.9" rx="1.35" ry="0.85" fill="#fff" fill-opacity="1"/><ellipse cx="254.4" cy="87.7" rx="1.35" ry="0.85" fill="#fff" fill-opacity="1"/><ellipse cx="254.4" cy="92.6" rx="1.35" ry="0.85" fill="#fff" fill-opacity="1"/><ellipse cx="254.4" cy="97.5" rx="1.35" ry="0.85" fill="#fff" fill-opacity="1"/><ellipse cx="254.4" cy="102.3" rx="1.35" ry="0.85" fill="#fff" fill-opacity="1"/><ellipse cx="254.4" cy="107.2" rx="1.35" ry="0.85" fill="#fff" fill-opacity="1"/><ellipse cx="254.4" cy="112.0" rx="1.35" ry="0.85" fill="#fff" fill-opacity="1"/><ellipse cx="254.4" cy="116.9" rx="1.35" ry="0.85" fill="#fff" fill-opacity="1"/><ellipse cx="258.8" cy="48.9" rx="1.35" ry="0.85" fill="#fff" fill-opacity="1"/><ellipse cx="258.8" cy="53.7" rx="1.35" ry="0.85" fill="#fff" fill-opacity="1"/><ellipse cx="258.8" cy="58.6" rx="1.35" ry="0.85" fill="#fff" fill-opacity="1"/><ellipse cx="258.8" cy="63.4" rx="1.35" ry="0.85" fill="#fff" fill-opacity="1"/><ellipse cx="258.8" cy="68.3" rx="1.35" ry="0.85" fill="#fff" fill-opacity="1"/><ellipse cx="258.8" cy="73.2" rx="1.35" ry="0.85" fill="#fff" fill-opacity="1"/><ellipse cx="258.8" cy="78.0" rx="1.35" ry="0.85" fill="#fff" fill-opacity="1"/><ellipse cx="258.8" cy="82.9" rx="1.35" ry="0.85" fill="#fff" fill-opacity="1"/><ellipse cx="258.8" cy="87.7" rx="1.35" ry="0.85" fill="#fff" fill-opacity="1"/><ellipse cx="258.8" cy="92.6" rx="1.35" ry="0.85" fill="#fff" fill-opacity="1"/><ellipse cx="258.8" cy="97.5" rx="1.35" ry="0.85" fill="#fff" fill-opacity="1"/><ellipse cx="258.8" cy="102.3" rx="1.35" ry="0.85" fill="#fff" fill-opacity="1"/><ellipse cx="258.8" cy="107.2" rx="1.35" ry="0.85" fill="#fff" fill-opacity="1"/><ellipse cx="258.8" cy="112.0" rx="1.35" ry="0.85" fill="#fff" fill-opacity="1"/><ellipse cx="258.8" cy="116.9" rx="1.35" ry="0.85" fill="#fff" fill-opacity="1"/><ellipse cx="270.3" cy="68.3" rx="1.1" ry="0.75" fill="#fff" fill-opacity="0.5"/><ellipse cx="270.3" cy="73.2" rx="1.1" ry="0.75" fill="#fff" fill-opacity="0.5"/><ellipse cx="270.3" cy="78.0" rx="1.1" ry="0.75" fill="#fff" fill-opacity="0.5"/><ellipse cx="270.3" cy="82.9" rx="1.1" ry="0.75" fill="#fff" fill-opacity="0.5"/><ellipse cx="270.3" cy="87.7" rx="1.1" ry="0.75" fill="#fff" fill-opacity="0.5"/><ellipse cx="270.3" cy="92.6" rx="1.1" ry="0.75" fill="#fff" fill-opacity="0.5"/><ellipse cx="270.3" cy="97.5" rx="1.1" ry="0.75" fill="#fff" fill-opacity="0.5"/><ellipse cx="270.3" cy="102.3" rx="1.1" ry="0.75" fill="#fff" fill-opacity="0.5"/><ellipse cx="270.3" cy="107.2" rx="1.1" ry="0.75" fill="#fff" fill-opacity="0.5"/><ellipse cx="276.0" cy="78.0" rx="1.1" ry="0.75" fill="#fff" fill-opacity="0.5"/><ellipse cx="276.0" cy="82.9" rx="1.1" ry="0.75" fill="#fff" fill-opacity="0.5"/><ellipse cx="276.0" cy="87.7" rx="1.1" ry="0.75" fill="#fff" fill-opacity="0.5"/><ellipse cx="276.0" cy="92.6" rx="1.1" ry="0.75" fill="#fff" fill-opacity="0.5"/><ellipse cx="276.0" cy="97.5" rx="1.1" ry="0.75" fill="#fff" fill-opacity="0.5"/><ellipse cx="276.0" cy="102.3" rx="1.1" ry="0.75" fill="#fff" fill-opacity="0.5"/><ellipse cx="276.0" cy="107.2" rx="1.1" ry="0.75" fill="#fff" fill-opacity="0.5"/><ellipse cx="280.8" cy="87.7" rx="1.1" ry="0.75" fill="#fff" fill-opacity="0.6"/><ellipse cx="280.8" cy="92.6" rx="1.1" ry="0.75" fill="#fff" fill-opacity="0.6"/><ellipse cx="280.8" cy="97.5" rx="1.1" ry="0.75" fill="#fff" fill-opacity="0.6"/><ellipse cx="280.8" cy="102.3" rx="1.1" ry="0.75" fill="#fff" fill-opacity="0.6"/><ellipse cx="280.8" cy="107.2" rx="1.1" ry="0.75" fill="#fff" fill-opacity="0.6"/><ellipse cx="286.5" cy="92.6" rx="1.1" ry="0.75" fill="#fff" fill-opacity="0.6"/><ellipse cx="286.5" cy="97.5" rx="1.1" ry="0.75" fill="#fff" fill-opacity="0.6"/><ellipse cx="286.5" cy="102.3" rx="1.1" ry="0.75" fill="#fff" fill-opacity="0.6"/><ellipse cx="286.5" cy="107.2" rx="1.1" ry="0.75" fill="#fff" fill-opacity="0.6"/><ellipse cx="291.0" cy="97.5" rx="1.1" ry="0.75" fill="#fff" fill-opacity="0.5"/><ellipse cx="291.0" cy="102.3" rx="1.1" ry="0.75" fill="#fff" fill-opacity="0.5"/><ellipse cx="291.0" cy="107.2" rx="1.1" ry="0.75" fill="#fff" fill-opacity="0.5"/><ellipse cx="291.0" cy="112.0" rx="1.1" ry="0.75" fill="#fff" fill-opacity="0.5"/><circle cx="256.4" cy="217.8" r="2.05" fill="#ff6400"/><circle cx="256.4" cy="222.7" r="2.05" fill="#ff6400"/><circle cx="256.4" cy="227.6" r="2.05" fill="#ff6400"/><circle cx="256.4" cy="232.4" r="2.05" fill="#ff6400"/><circle cx="256.4" cy="237.3" r="2.05" fill="#ff6400"/><circle cx="260.2" cy="213.0" r="2.05" fill="#ff6400"/><circle cx="260.2" cy="217.8" r="2.05" fill="#ff6400"/><circle cx="260.2" cy="222.7" r="2.05" fill="#ff6400"/><circle cx="260.2" cy="227.6" r="2.05" fill="#ff6400"/><circle cx="260.2" cy="232.4" r="2.05" fill="#ff6400"/><circle cx="260.2" cy="237.3" r="2.05" fill="#ff6400"/><circle cx="260.2" cy="242.1" r="2.05" fill="#ff6400"/><circle cx="262.8" cy="215.4" r="2.05" fill="#ff6400"/><circle cx="262.8" cy="220.3" r="2.05" fill="#ff6400"/><circle cx="262.8" cy="225.1" r="2.05" fill="#ff6400"/><circle cx="262.8" cy="230.0" r="2.05" fill="#ff6400"/><circle cx="262.8" cy="234.9" r="2.05" fill="#ff6400"/><circle cx="262.8" cy="239.7" r="2.05" fill="#ff6400"/><circle cx="262.8" cy="244.6" r="2.05" fill="#ff6400"/><circle cx="265.4" cy="213.0" r="2.05" fill="#c8b400"/><circle cx="265.4" cy="217.8" r="2.05" fill="#c8b400"/><circle cx="265.4" cy="222.7" r="2.05" fill="#c8b400"/><circle cx="265.4" cy="227.6" r="2.05" fill="#ff6400"/><circle cx="265.4" cy="232.4" r="2.05" fill="#ff6400"/><circle cx="265.4" cy="237.3" r="2.05" fill="#ff6400"/><circle cx="265.4" cy="242.1" r="2.05" fill="#ff6400"/><circle cx="265.4" cy="247.0" r="2.05" fill="#ff6400"/><circle cx="268.0" cy="215.4" r="2.05" fill="#c8b400"/><circle cx="268.0" cy="220.3" r="2.05" fill="#c8b400"/><circle cx="268.0" cy="225.1" r="2.05" fill="#ff6400"/><circle cx="268.0" cy="230.0" r="2.05" fill="#ff6400"/><circle cx="268.0" cy="234.9" r="2.05" fill="#ff6400"/><circle cx="268.0" cy="239.7" r="2.05" fill="#ff6400"/><circle cx="268.0" cy="244.6" r="2.05" fill="#ff6400"/><circle cx="268.0" cy="249.4" r="2.05" fill="#ff6400"/><circle cx="268.0" cy="254.3" r="2.05" fill="#ff6400"/><circle cx="270.6" cy="213.0" r="2.05" fill="#c8b400"/><circle cx="270.6" cy="217.8" r="2.05" fill="#c8b400"/><circle cx="270.6" cy="222.7" r="2.05" fill="#c8b400"/><circle cx="270.6" cy="227.6" r="2.05" fill="#ff6400"/><circle cx="270.6" cy="232.4" r="2.05" fill="#ff6400"/><circle cx="270.6" cy="237.3" r="2.05" fill="#ff6400"/><circle cx="270.6" cy="242.1" r="2.05" fill="#ff6400"/><circle cx="270.6" cy="247.0" r="2.05" fill="#ff6400"/><circle cx="270.6" cy="251.9" r="2.05" fill="#ff6400"/><circle cx="270.6" cy="256.7" r="2.05" fill="#ff6400"/><circle cx="273.2" cy="215.4" r="2.05" fill="#c8b400"/><circle cx="273.2" cy="220.3" r="2.05" fill="#c8b400"/><circle cx="273.2" cy="225.1" r="2.05" fill="#ff6400"/><circle cx="273.2" cy="230.0" r="2.05" fill="#ff6400"/><circle cx="273.2" cy="234.9" r="2.05" fill="#ff6400"/><circle cx="273.2" cy="239.7" r="2.05" fill="#ff6400"/><circle cx="273.2" cy="244.6" r="2.05" fill="#ff6400"/><circle cx="273.2" cy="249.4" r="2.05" fill="#ff6400"/><circle cx="275.8" cy="213.0" r="2.05" fill="#c8b400"/><circle cx="275.8" cy="217.8" r="2.05" fill="#c8b400"/><circle cx="275.8" cy="222.7" r="2.05" fill="#c8b400"/><circle cx="275.8" cy="227.6" r="2.05" fill="#ff6400"/><circle cx="275.8" cy="232.4" r="2.05" fill="#ff6400"/><circle cx="275.8" cy="237.3" r="2.05" fill="#ff6400"/><circle cx="275.8" cy="242.1" r="2.05" fill="#ff6400"/><circle cx="275.8" cy="247.0" r="2.05" fill="#ff6400"/><circle cx="278.4" cy="215.4" r="2.05" fill="#ff9a1a"/><circle cx="278.4" cy="220.3" r="2.05" fill="#ff9a1a"/><circle cx="278.4" cy="225.1" r="2.05" fill="#ff6400"/><circle cx="278.4" cy="230.0" r="2.05" fill="#ff6400"/><circle cx="278.4" cy="234.9" r="2.05" fill="#ff6400"/><circle cx="278.4" cy="239.7" r="2.05" fill="#ff6400"/><circle cx="278.4" cy="244.6" r="2.05" fill="#ff6400"/><circle cx="278.4" cy="249.4" r="2.05" fill="#ff6400"/><circle cx="278.4" cy="254.3" r="2.05" fill="#ff6400"/><circle cx="285.5" cy="203.3" r="2.05" fill="#ff9a1a"/><circle cx="285.5" cy="208.1" r="2.05" fill="#ff9a1a"/><circle cx="285.5" cy="213.0" r="2.05" fill="#ff9a1a"/><circle cx="285.5" cy="217.8" r="2.05" fill="#ff9a1a"/><circle cx="285.5" cy="222.7" r="2.05" fill="#ff9a1a"/><circle cx="285.5" cy="227.6" r="2.05" fill="#ff9a1a"/><circle cx="285.5" cy="232.4" r="2.05" fill="#ff9a1a"/><circle cx="285.5" cy="237.3" r="2.05" fill="#ff9a1a"/><circle cx="285.5" cy="242.1" r="2.05" fill="#ff9a1a"/><circle cx="285.5" cy="247.0" r="2.05" fill="#ff9a1a"/><circle cx="288.3" cy="205.7" r="2.05" fill="#ff9a1a"/><circle cx="288.3" cy="210.6" r="2.05" fill="#ff9a1a"/><circle cx="288.3" cy="215.4" r="2.05" fill="#ff9a1a"/><circle cx="288.3" cy="220.3" r="2.05" fill="#ff9a1a"/><circle cx="288.3" cy="225.1" r="2.05" fill="#ff9a1a"/><circle cx="288.3" cy="230.0" r="2.05" fill="#ff9a1a"/><circle cx="288.3" cy="234.9" r="2.05" fill="#ff9a1a"/><circle cx="288.3" cy="239.7" r="2.05" fill="#ff9a1a"/><circle cx="288.3" cy="244.6" r="2.05" fill="#ff9a1a"/><circle cx="288.3" cy="249.4" r="2.05" fill="#ff9a1a"/><circle cx="291.1" cy="208.1" r="2.05" fill="#ff9a1a"/><circle cx="291.1" cy="213.0" r="2.05" fill="#ff9a1a"/><circle cx="291.1" cy="217.8" r="2.05" fill="#ff9a1a"/><circle cx="291.1" cy="222.7" r="2.05" fill="#ff9a1a"/><circle cx="291.1" cy="227.6" r="2.05" fill="#ff9a1a"/><circle cx="291.1" cy="232.4" r="2.05" fill="#ff9a1a"/><circle cx="291.1" cy="237.3" r="2.05" fill="#ff9a1a"/><circle cx="291.1" cy="242.1" r="2.05" fill="#ff9a1a"/><circle cx="291.1" cy="247.0" r="2.05" fill="#ff9a1a"/><circle cx="295.0" cy="227.6" r="2.05" fill="#ff6400"/><circle cx="295.0" cy="232.4" r="2.05" fill="#ff6400"/><circle cx="295.0" cy="237.3" r="2.05" fill="#ff6400"/><circle cx="295.0" cy="242.1" r="2.05" fill="#ff6400"/><circle cx="295.0" cy="247.0" r="2.05" fill="#ff6400"/><circle cx="299.1" cy="225.1" r="2.05" fill="#ff6400"/><circle cx="299.1" cy="230.0" r="2.05" fill="#ff6400"/><circle cx="299.1" cy="234.9" r="2.05" fill="#ff6400"/><circle cx="299.1" cy="239.7" r="2.05" fill="#ff6400"/><circle cx="299.1" cy="244.6" r="2.05" fill="#ff6400"/><circle cx="295.7" cy="106.1" r="2.05" fill="#ff6400"/><circle cx="295.7" cy="110.9" r="2.05" fill="#ff6400"/><circle cx="295.7" cy="115.8" r="2.05" fill="#ff6400"/><circle cx="295.7" cy="120.6" r="2.05" fill="#ff6400"/><circle cx="295.7" cy="125.5" r="2.05" fill="#ff6400"/><circle cx="303.5" cy="115.8" r="2.05" fill="#ff6400"/><circle cx="303.5" cy="120.6" r="2.05" fill="#ff6400"/><circle cx="303.5" cy="125.5" r="2.05" fill="#ff6400"/><circle cx="307.5" cy="110.9" r="2.05" fill="#ff6400"/><circle cx="307.5" cy="115.8" r="2.05" fill="#ff6400"/><circle cx="307.5" cy="120.6" r="2.05" fill="#ff6400"/><circle cx="307.5" cy="125.5" r="2.05" fill="#ff6400"/><circle cx="307.5" cy="130.4" r="2.05" fill="#ff6400"/><circle cx="307.5" cy="135.2" r="2.05" fill="#ff6400"/><circle cx="307.5" cy="140.1" r="2.05" fill="#ff6400"/><circle cx="307.5" cy="144.9" r="2.05" fill="#ff6400"/><circle cx="307.5" cy="149.8" r="2.05" fill="#ff6400"/><circle cx="307.5" cy="154.7" r="2.05" fill="#ff6400"/><circle cx="307.5" cy="159.5" r="2.05" fill="#ff6400"/><circle cx="307.5" cy="164.4" r="2.05" fill="#ff6400"/><circle cx="307.5" cy="169.2" r="2.05" fill="#ff6400"/><circle cx="307.5" cy="174.1" r="2.05" fill="#ff6400"/><circle cx="307.5" cy="179.0" r="2.05" fill="#ff6400"/><circle cx="307.5" cy="183.8" r="2.05" fill="#ff6400"/><circle cx="307.5" cy="188.7" r="2.05" fill="#ff6400"/><circle cx="307.5" cy="193.5" r="2.05" fill="#ff6400"/><circle cx="307.5" cy="198.4" r="2.05" fill="#ff6400"/><circle cx="307.5" cy="203.3" r="2.05" fill="#ff6400"/><circle cx="315.7" cy="105.9" r="2.05" fill="#ff6400"/><circle cx="317.9" cy="106.3" r="2.05" fill="#ff6400"/><circle cx="315.7" cy="110.7" r="2.05" fill="#ff6400"/><circle cx="317.9" cy="111.1" r="2.05" fill="#ff6400"/><circle cx="315.7" cy="115.6" r="2.05" fill="#ff6400"/><circle cx="317.9" cy="116.0" r="2.05" fill="#ff6400"/><circle cx="315.7" cy="120.4" r="2.05" fill="#ff6400"/><circle cx="317.9" cy="120.8" r="2.05" fill="#ff6400"/><circle cx="315.7" cy="125.3" r="2.05" fill="#ff6400"/><circle cx="317.9" cy="125.7" r="2.05" fill="#ff6400"/><circle cx="315.7" cy="130.2" r="2.05" fill="#ff6400"/><circle cx="317.9" cy="130.6" r="2.05" fill="#ff6400"/><circle cx="315.7" cy="135.0" r="2.05" fill="#ff6400"/><circle cx="317.9" cy="135.4" r="2.05" fill="#ff6400"/><circle cx="315.7" cy="139.9" r="2.05" fill="#ff6400"/><circle cx="317.9" cy="140.3" r="2.05" fill="#ff6400"/><circle cx="315.7" cy="144.7" r="2.05" fill="#ff6400"/><circle cx="317.9" cy="145.1" r="2.05" fill="#ff6400"/><circle cx="315.7" cy="149.6" r="2.05" fill="#ff6400"/><circle cx="317.9" cy="150.0" r="2.05" fill="#ff6400"/><circle cx="315.7" cy="154.5" r="2.05" fill="#ff6400"/><circle cx="317.9" cy="154.9" r="2.05" fill="#ff6400"/><circle cx="315.7" cy="159.3" r="2.05" fill="#ff6400"/><circle cx="317.9" cy="159.7" r="2.05" fill="#ff6400"/><circle cx="315.7" cy="164.2" r="2.05" fill="#ff6400"/><circle cx="317.9" cy="164.6" r="2.05" fill="#ff6400"/><circle cx="315.7" cy="169.0" r="2.05" fill="#ff6400"/><circle cx="317.9" cy="169.4" r="2.05" fill="#ff6400"/><circle cx="315.7" cy="173.9" r="2.05" fill="#ff6400"/><circle cx="317.9" cy="174.3" r="2.05" fill="#ff6400"/><circle cx="315.7" cy="178.8" r="2.05" fill="#ff6400"/><circle cx="317.9" cy="179.2" r="2.05" fill="#ff6400"/><circle cx="315.7" cy="183.6" r="2.05" fill="#ff6400"/><circle cx="317.9" cy="184.0" r="2.05" fill="#ff6400"/><circle cx="315.7" cy="188.5" r="2.05" fill="#ff6400"/><circle cx="317.9" cy="188.9" r="2.05" fill="#ff6400"/><circle cx="315.7" cy="193.3" r="2.05" fill="#ff6400"/><circle cx="317.9" cy="193.7" r="2.05" fill="#ff6400"/><circle cx="315.7" cy="198.2" r="2.05" fill="#ff6400"/><circle cx="317.9" cy="198.6" r="2.05" fill="#ff6400"/><circle cx="315.7" cy="203.1" r="2.05" fill="#ff6400"/><circle cx="317.9" cy="203.5" r="2.05" fill="#ff6400"/><circle cx="315.7" cy="207.9" r="2.05" fill="#ff6400"/><circle cx="317.9" cy="208.3" r="2.05" fill="#ff6400"/><circle cx="315.7" cy="212.8" r="2.05" fill="#ff6400"/><circle cx="317.9" cy="213.2" r="2.05" fill="#ff6400"/><circle cx="315.7" cy="217.6" r="2.05" fill="#ff6400"/><circle cx="317.9" cy="218.0" r="2.05" fill="#ff6400"/><circle cx="315.7" cy="222.5" r="2.05" fill="#ff6400"/><circle cx="317.9" cy="222.9" r="2.05" fill="#ff6400"/><circle cx="315.7" cy="227.4" r="2.05" fill="#ff6400"/><circle cx="317.9" cy="227.8" r="2.05" fill="#ff6400"/><circle cx="315.7" cy="232.2" r="2.05" fill="#ff6400"/><circle cx="317.9" cy="232.6" r="2.05" fill="#ff6400"/><circle cx="315.7" cy="237.1" r="2.05" fill="#ff6400"/><circle cx="317.9" cy="237.5" r="2.05" fill="#ff6400"/><circle cx="315.7" cy="241.9" r="2.05" fill="#ff6400"/><circle cx="317.9" cy="242.3" r="2.05" fill="#ff6400"/><circle cx="315.7" cy="246.8" r="2.05" fill="#ff6400"/><circle cx="317.9" cy="247.2" r="2.05" fill="#ff6400"/><circle cx="322.5" cy="110.7" r="2.05" fill="#ff6400"/><circle cx="324.7" cy="111.1" r="2.05" fill="#ff6400"/><circle cx="322.5" cy="115.6" r="2.05" fill="#ff6400"/><circle cx="324.7" cy="116.0" r="2.05" fill="#ff6400"/><circle cx="322.5" cy="120.4" r="2.05" fill="#ff6400"/><circle cx="324.7" cy="120.8" r="2.05" fill="#ff6400"/><circle cx="322.5" cy="125.3" r="2.05" fill="#ff6400"/><circle cx="324.7" cy="125.7" r="2.05" fill="#ff6400"/><circle cx="322.5" cy="130.2" r="2.05" fill="#ff6400"/><circle cx="324.7" cy="130.6" r="2.05" fill="#ff6400"/><circle cx="322.5" cy="135.0" r="2.05" fill="#ff6400"/><circle cx="324.7" cy="135.4" r="2.05" fill="#ff6400"/><circle cx="322.5" cy="139.9" r="2.05" fill="#ff6400"/><circle cx="324.7" cy="140.3" r="2.05" fill="#ff6400"/><circle cx="322.5" cy="144.7" r="2.05" fill="#ff6400"/><circle cx="324.7" cy="145.1" r="2.05" fill="#ff6400"/><circle cx="322.5" cy="149.6" r="2.05" fill="#ff6400"/><circle cx="324.7" cy="150.0" r="2.05" fill="#ff6400"/><circle cx="322.5" cy="154.5" r="2.05" fill="#ff6400"/><circle cx="324.7" cy="154.9" r="2.05" fill="#ff6400"/><circle cx="322.5" cy="159.3" r="2.05" fill="#ff6400"/><circle cx="324.7" cy="159.7" r="2.05" fill="#ff6400"/><circle cx="322.5" cy="164.2" r="2.05" fill="#ff6400"/><circle cx="324.7" cy="164.6" r="2.05" fill="#ff6400"/><circle cx="322.5" cy="169.0" r="2.05" fill="#ff6400"/><circle cx="324.7" cy="169.4" r="2.05" fill="#ff6400"/><circle cx="322.5" cy="173.9" r="2.05" fill="#ff6400"/><circle cx="324.7" cy="174.3" r="2.05" fill="#ff6400"/><circle cx="322.5" cy="178.8" r="2.05" fill="#ff6400"/><circle cx="324.7" cy="179.2" r="2.05" fill="#ff6400"/><circle cx="322.5" cy="183.6" r="2.05" fill="#ff6400"/><circle cx="324.7" cy="184.0" r="2.05" fill="#ff6400"/><circle cx="322.5" cy="188.5" r="2.05" fill="#ff6400"/><circle cx="324.7" cy="188.9" r="2.05" fill="#ff6400"/><circle cx="322.5" cy="193.3" r="2.05" fill="#ff6400"/><circle cx="324.7" cy="193.7" r="2.05" fill="#ff6400"/><circle cx="322.5" cy="198.2" r="2.05" fill="#ff6400"/><circle cx="324.7" cy="198.6" r="2.05" fill="#ff6400"/><circle cx="322.5" cy="203.1" r="2.05" fill="#ff6400"/><circle cx="324.7" cy="203.5" r="2.05" fill="#ff6400"/><circle cx="322.5" cy="207.9" r="2.05" fill="#ff6400"/><circle cx="324.7" cy="208.3" r="2.05" fill="#ff6400"/><circle cx="322.5" cy="212.8" r="2.05" fill="#ff6400"/><circle cx="324.7" cy="213.2" r="2.05" fill="#ff6400"/><circle cx="322.5" cy="217.6" r="2.05" fill="#ff6400"/><circle cx="324.7" cy="218.0" r="2.05" fill="#ff6400"/><circle cx="322.5" cy="222.5" r="2.05" fill="#ff6400"/><circle cx="324.7" cy="222.9" r="2.05" fill="#ff6400"/><circle cx="322.5" cy="227.4" r="2.05" fill="#ff6400"/><circle cx="324.7" cy="227.8" r="2.05" fill="#ff6400"/><circle cx="322.5" cy="232.2" r="2.05" fill="#ff6400"/><circle cx="324.7" cy="232.6" r="2.05" fill="#ff6400"/><circle cx="322.5" cy="237.1" r="2.05" fill="#ff6400"/><circle cx="324.7" cy="237.5" r="2.05" fill="#ff6400"/><circle cx="322.5" cy="241.9" r="2.05" fill="#ff6400"/><circle cx="324.7" cy="242.3" r="2.05" fill="#ff6400"/><circle cx="322.5" cy="246.8" r="2.05" fill="#ff6400"/><circle cx="324.7" cy="247.2" r="2.05" fill="#ff6400"/><circle cx="329.7" cy="101.0" r="2.05" fill="#ff6400"/><circle cx="331.9" cy="101.4" r="2.05" fill="#ff6400"/><circle cx="329.7" cy="105.9" r="2.05" fill="#ff6400"/><circle cx="331.9" cy="106.3" r="2.05" fill="#ff6400"/><circle cx="329.7" cy="110.7" r="2.05" fill="#ff6400"/><circle cx="331.9" cy="111.1" r="2.05" fill="#ff6400"/><circle cx="329.7" cy="115.6" r="2.05" fill="#ff6400"/><circle cx="331.9" cy="116.0" r="2.05" fill="#ff6400"/><circle cx="329.7" cy="120.4" r="2.05" fill="#ff6400"/><circle cx="331.9" cy="120.8" r="2.05" fill="#ff6400"/><circle cx="329.7" cy="125.3" r="2.05" fill="#ff6400"/><circle cx="331.9" cy="125.7" r="2.05" fill="#ff6400"/><circle cx="329.7" cy="130.2" r="2.05" fill="#ff6400"/><circle cx="331.9" cy="130.6" r="2.05" fill="#ff6400"/><circle cx="329.7" cy="135.0" r="2.05" fill="#ff6400"/><circle cx="331.9" cy="135.4" r="2.05" fill="#ff6400"/><circle cx="329.7" cy="139.9" r="2.05" fill="#ff6400"/><circle cx="331.9" cy="140.3" r="2.05" fill="#ff6400"/><circle cx="329.7" cy="144.7" r="2.05" fill="#ff6400"/><circle cx="331.9" cy="145.1" r="2.05" fill="#ff6400"/><circle cx="329.7" cy="149.6" r="2.05" fill="#ff6400"/><circle cx="331.9" cy="150.0" r="2.05" fill="#ff6400"/><circle cx="329.7" cy="154.5" r="2.05" fill="#ff6400"/><circle cx="331.9" cy="154.9" r="2.05" fill="#ff6400"/><circle cx="329.7" cy="159.3" r="2.05" fill="#ff6400"/><circle cx="331.9" cy="159.7" r="2.05" fill="#ff6400"/><circle cx="329.7" cy="164.2" r="2.05" fill="#ff6400"/><circle cx="331.9" cy="164.6" r="2.05" fill="#ff6400"/><circle cx="329.7" cy="169.0" r="2.05" fill="#ff6400"/><circle cx="331.9" cy="169.4" r="2.05" fill="#ff6400"/><circle cx="329.7" cy="173.9" r="2.05" fill="#ff6400"/><circle cx="331.9" cy="174.3" r="2.05" fill="#ff6400"/><circle cx="329.7" cy="178.8" r="2.05" fill="#ff6400"/><circle cx="331.9" cy="179.2" r="2.05" fill="#ff6400"/><circle cx="329.7" cy="183.6" r="2.05" fill="#ff6400"/><circle cx="331.9" cy="184.0" r="2.05" fill="#ff6400"/><circle cx="329.7" cy="188.5" r="2.05" fill="#ff6400"/><circle cx="331.9" cy="188.9" r="2.05" fill="#ff6400"/><circle cx="329.7" cy="193.3" r="2.05" fill="#ff6400"/><circle cx="331.9" cy="193.7" r="2.05" fill="#ff6400"/><circle cx="329.7" cy="198.2" r="2.05" fill="#ff6400"/><circle cx="331.9" cy="198.6" r="2.05" fill="#ff6400"/><circle cx="329.7" cy="203.1" r="2.05" fill="#ff6400"/><circle cx="331.9" cy="203.5" r="2.05" fill="#ff6400"/><circle cx="329.7" cy="207.9" r="2.05" fill="#ff6400"/><circle cx="331.9" cy="208.3" r="2.05" fill="#ff6400"/><circle cx="329.7" cy="212.8" r="2.05" fill="#ff6400"/><circle cx="331.9" cy="213.2" r="2.05" fill="#ff6400"/><circle cx="329.7" cy="217.6" r="2.05" fill="#ff6400"/><circle cx="331.9" cy="218.0" r="2.05" fill="#ff6400"/><circle cx="329.7" cy="222.5" r="2.05" fill="#ff6400"/><circle cx="331.9" cy="222.9" r="2.05" fill="#ff6400"/><circle cx="329.7" cy="227.4" r="2.05" fill="#ff6400"/><circle cx="331.9" cy="227.8" r="2.05" fill="#ff6400"/><circle cx="329.7" cy="232.2" r="2.05" fill="#ff6400"/><circle cx="331.9" cy="232.6" r="2.05" fill="#ff6400"/><circle cx="329.7" cy="237.1" r="2.05" fill="#ff6400"/><circle cx="331.9" cy="237.5" r="2.05" fill="#ff6400"/><circle cx="329.7" cy="241.9" r="2.05" fill="#ff6400"/><circle cx="331.9" cy="242.3" r="2.05" fill="#ff6400"/><circle cx="337.3" cy="86.4" r="2.05" fill="#ff8a16"/><circle cx="339.5" cy="86.8" r="2.05" fill="#ff8a16"/><circle cx="337.3" cy="91.3" r="2.05" fill="#ff8a16"/><circle cx="339.5" cy="91.7" r="2.05" fill="#ff8a16"/><circle cx="337.3" cy="96.1" r="2.05" fill="#ff8a16"/><circle cx="339.5" cy="96.5" r="2.05" fill="#ff8a16"/><circle cx="337.3" cy="101.0" r="2.05" fill="#ff8a16"/><circle cx="339.5" cy="101.4" r="2.05" fill="#ff8a16"/><circle cx="337.3" cy="105.9" r="2.05" fill="#ff8a16"/><circle cx="339.5" cy="106.3" r="2.05" fill="#ff8a16"/><circle cx="337.3" cy="110.7" r="2.05" fill="#ff8a16"/><circle cx="339.5" cy="111.1" r="2.05" fill="#ff8a16"/><circle cx="337.3" cy="115.6" r="2.05" fill="#ff8a16"/><circle cx="339.5" cy="116.0" r="2.05" fill="#ff8a16"/><circle cx="337.3" cy="120.4" r="2.05" fill="#ff8a16"/><circle cx="339.5" cy="120.8" r="2.05" fill="#ff8a16"/><circle cx="337.3" cy="125.3" r="2.05" fill="#ff8a16"/><circle cx="339.5" cy="125.7" r="2.05" fill="#ff8a16"/><circle cx="337.3" cy="130.2" r="2.05" fill="#ff8a16"/><circle cx="339.5" cy="130.6" r="2.05" fill="#ff8a16"/><circle cx="337.3" cy="135.0" r="2.05" fill="#ff8a16"/><circle cx="339.5" cy="135.4" r="2.05" fill="#ff8a16"/><circle cx="337.3" cy="139.9" r="2.05" fill="#ff8a16"/><circle cx="339.5" cy="140.3" r="2.05" fill="#ff8a16"/><circle cx="337.3" cy="144.7" r="2.05" fill="#ff8a16"/><circle cx="339.5" cy="145.1" r="2.05" fill="#ff8a16"/><circle cx="337.3" cy="149.6" r="2.05" fill="#ff8a16"/><circle cx="339.5" cy="150.0" r="2.05" fill="#ff8a16"/><circle cx="337.3" cy="154.5" r="2.05" fill="#ff8a16"/><circle cx="339.5" cy="154.9" r="2.05" fill="#ff8a16"/><circle cx="337.3" cy="159.3" r="2.05" fill="#ff8a16"/><circle cx="339.5" cy="159.7" r="2.05" fill="#ff8a16"/><circle cx="337.3" cy="164.2" r="2.05" fill="#ff8a16"/><circle cx="339.5" cy="164.6" r="2.05" fill="#ff8a16"/><circle cx="337.3" cy="169.0" r="2.05" fill="#ff8a16"/><circle cx="339.5" cy="169.4" r="2.05" fill="#ff8a16"/><circle cx="337.3" cy="173.9" r="2.05" fill="#ff8a16"/><circle cx="339.5" cy="174.3" r="2.05" fill="#ff8a16"/><circle cx="337.3" cy="178.8" r="2.05" fill="#ff8a16"/><circle cx="339.5" cy="179.2" r="2.05" fill="#ff8a16"/><circle cx="337.3" cy="183.6" r="2.05" fill="#ff8a16"/><circle cx="339.5" cy="184.0" r="2.05" fill="#ff8a16"/><circle cx="337.3" cy="188.5" r="2.05" fill="#ff8a16"/><circle cx="339.5" cy="188.9" r="2.05" fill="#ff8a16"/><circle cx="337.3" cy="193.3" r="2.05" fill="#ff8a16"/><circle cx="339.5" cy="193.7" r="2.05" fill="#ff8a16"/><circle cx="337.3" cy="198.2" r="2.05" fill="#ff8a16"/><circle cx="339.5" cy="198.6" r="2.05" fill="#ff8a16"/><circle cx="337.3" cy="203.1" r="2.05" fill="#ff8a16"/><circle cx="339.5" cy="203.5" r="2.05" fill="#ff8a16"/><circle cx="337.3" cy="207.9" r="2.05" fill="#ff8a16"/><circle cx="339.5" cy="208.3" r="2.05" fill="#ff8a16"/><circle cx="337.3" cy="212.8" r="2.05" fill="#ff8a16"/><circle cx="339.5" cy="213.2" r="2.05" fill="#ff8a16"/><circle cx="337.3" cy="217.6" r="2.05" fill="#ff8a16"/><circle cx="339.5" cy="218.0" r="2.05" fill="#ff8a16"/><circle cx="337.3" cy="222.5" r="2.05" fill="#ff8a16"/><circle cx="339.5" cy="222.9" r="2.05" fill="#ff8a16"/><circle cx="337.3" cy="227.4" r="2.05" fill="#ff8a16"/><circle cx="339.5" cy="227.8" r="2.05" fill="#ff8a16"/><circle cx="344.5" cy="81.6" r="2.05" fill="#ff8a16"/><circle cx="346.7" cy="82.0" r="2.05" fill="#ff8a16"/><circle cx="344.5" cy="86.4" r="2.05" fill="#ff8a16"/><circle cx="346.7" cy="86.8" r="2.05" fill="#ff8a16"/><circle cx="344.5" cy="91.3" r="2.05" fill="#ff8a16"/><circle cx="346.7" cy="91.7" r="2.05" fill="#ff8a16"/><circle cx="344.5" cy="96.1" r="2.05" fill="#ff8a16"/><circle cx="346.7" cy="96.5" r="2.05" fill="#ff8a16"/><circle cx="344.5" cy="101.0" r="2.05" fill="#ff8a16"/><circle cx="346.7" cy="101.4" r="2.05" fill="#ff8a16"/><circle cx="344.5" cy="105.9" r="2.05" fill="#ff8a16"/><circle cx="346.7" cy="106.3" r="2.05" fill="#ff8a16"/><circle cx="344.5" cy="110.7" r="2.05" fill="#ff8a16"/><circle cx="346.7" cy="111.1" r="2.05" fill="#ff8a16"/><circle cx="344.5" cy="115.6" r="2.05" fill="#ff8a16"/><circle cx="346.7" cy="116.0" r="2.05" fill="#ff8a16"/><circle cx="344.5" cy="120.4" r="2.05" fill="#ff8a16"/><circle cx="346.7" cy="120.8" r="2.05" fill="#ff8a16"/><circle cx="344.5" cy="125.3" r="2.05" fill="#ff8a16"/><circle cx="346.7" cy="125.7" r="2.05" fill="#ff8a16"/><circle cx="344.5" cy="130.2" r="2.05" fill="#ff8a16"/><circle cx="346.7" cy="130.6" r="2.05" fill="#ff8a16"/><circle cx="344.5" cy="135.0" r="2.05" fill="#ff8a16"/><circle cx="346.7" cy="135.4" r="2.05" fill="#ff8a16"/><circle cx="344.5" cy="139.9" r="2.05" fill="#ff8a16"/><circle cx="346.7" cy="140.3" r="2.05" fill="#ff8a16"/><circle cx="344.5" cy="144.7" r="2.05" fill="#ff8a16"/><circle cx="346.7" cy="145.1" r="2.05" fill="#ff8a16"/><circle cx="344.5" cy="149.6" r="2.05" fill="#ff8a16"/><circle cx="346.7" cy="150.0" r="2.05" fill="#ff8a16"/><circle cx="344.5" cy="154.5" r="2.05" fill="#ff8a16"/><circle cx="346.7" cy="154.9" r="2.05" fill="#ff8a16"/><circle cx="344.5" cy="159.3" r="2.05" fill="#ff8a16"/><circle cx="346.7" cy="159.7" r="2.05" fill="#ff8a16"/><circle cx="344.5" cy="164.2" r="2.05" fill="#ff8a16"/><circle cx="346.7" cy="164.6" r="2.05" fill="#ff8a16"/><circle cx="344.5" cy="169.0" r="2.05" fill="#ff8a16"/><circle cx="346.7" cy="169.4" r="2.05" fill="#ff8a16"/><circle cx="344.5" cy="173.9" r="2.05" fill="#ff8a16"/><circle cx="346.7" cy="174.3" r="2.05" fill="#ff8a16"/><circle cx="344.5" cy="178.8" r="2.05" fill="#ff8a16"/><circle cx="346.7" cy="179.2" r="2.05" fill="#ff8a16"/><circle cx="344.5" cy="183.6" r="2.05" fill="#ff8a16"/><circle cx="346.7" cy="184.0" r="2.05" fill="#ff8a16"/><circle cx="344.5" cy="188.5" r="2.05" fill="#ff8a16"/><circle cx="346.7" cy="188.9" r="2.05" fill="#ff8a16"/><circle cx="344.5" cy="193.3" r="2.05" fill="#ff8a16"/><circle cx="346.7" cy="193.7" r="2.05" fill="#ff8a16"/><circle cx="344.5" cy="198.2" r="2.05" fill="#ff8a16"/><circle cx="346.7" cy="198.6" r="2.05" fill="#ff8a16"/><circle cx="344.5" cy="203.1" r="2.05" fill="#ff8a16"/><circle cx="346.7" cy="203.5" r="2.05" fill="#ff8a16"/><circle cx="344.5" cy="207.9" r="2.05" fill="#ff8a16"/><circle cx="346.7" cy="208.3" r="2.05" fill="#ff8a16"/><circle cx="344.5" cy="212.8" r="2.05" fill="#ff8a16"/><circle cx="346.7" cy="213.2" r="2.05" fill="#ff8a16"/><circle cx="344.5" cy="217.6" r="2.05" fill="#ff8a16"/><circle cx="346.7" cy="218.0" r="2.05" fill="#ff8a16"/><circle cx="344.5" cy="222.5" r="2.05" fill="#ff8a16"/><circle cx="346.7" cy="222.9" r="2.05" fill="#ff8a16"/><circle cx="344.5" cy="227.4" r="2.05" fill="#ff8a16"/><circle cx="346.7" cy="227.8" r="2.05" fill="#ff8a16"/><circle cx="352.4" cy="91.5" r="2.05" fill="#ff7a0a"/><circle cx="352.4" cy="96.3" r="2.05" fill="#ff7a0a"/><circle cx="352.4" cy="101.2" r="2.05" fill="#ff7a0a"/><circle cx="352.4" cy="106.1" r="2.05" fill="#ff7a0a"/><circle cx="352.4" cy="110.9" r="2.05" fill="#ff7a0a"/><circle cx="352.4" cy="115.8" r="2.05" fill="#ff7a0a"/><circle cx="352.4" cy="120.6" r="2.05" fill="#ff7a0a"/><circle cx="352.4" cy="125.5" r="2.05" fill="#ff7a0a"/><circle cx="352.4" cy="130.4" r="2.05" fill="#ff7a0a"/><circle cx="352.4" cy="135.2" r="2.05" fill="#ff7a0a"/><circle cx="352.4" cy="140.1" r="2.05" fill="#ff7a0a"/><circle cx="352.4" cy="144.9" r="2.05" fill="#ff7a0a"/><circle cx="352.4" cy="149.8" r="2.05" fill="#ff7a0a"/><circle cx="352.4" cy="154.7" r="2.05" fill="#ff7a0a"/><circle cx="352.4" cy="159.5" r="2.05" fill="#ff7a0a"/><circle cx="352.4" cy="164.4" r="2.05" fill="#ff7a0a"/><circle cx="352.4" cy="169.2" r="2.05" fill="#ff7a0a"/><circle cx="352.4" cy="174.1" r="2.05" fill="#ff7a0a"/><circle cx="352.4" cy="179.0" r="2.05" fill="#ff7a0a"/><circle cx="352.4" cy="183.8" r="2.05" fill="#ff7a0a"/><circle cx="352.4" cy="188.7" r="2.05" fill="#ff7a0a"/><circle cx="352.4" cy="193.5" r="2.05" fill="#ff7a0a"/><circle cx="352.4" cy="198.4" r="2.05" fill="#ff7a0a"/><circle cx="352.4" cy="203.3" r="2.05" fill="#ff7a0a"/><circle cx="352.4" cy="208.1" r="2.05" fill="#ff7a0a"/><circle cx="352.4" cy="213.0" r="2.05" fill="#ff7a0a"/><circle cx="352.4" cy="217.8" r="2.05" fill="#ff7a0a"/><circle cx="352.4" cy="222.7" r="2.05" fill="#ff7a0a"/><circle cx="352.4" cy="227.6" r="2.05" fill="#ff7a0a"/><circle cx="352.4" cy="232.4" r="2.05" fill="#ff7a0a"/><circle cx="352.4" cy="237.3" r="2.05" fill="#ff7a0a"/><circle cx="352.4" cy="242.1" r="2.05" fill="#ff7a0a"/><circle cx="355.3" cy="89.1" r="2.05" fill="#ff7a0a"/><circle cx="355.3" cy="93.9" r="2.05" fill="#ff7a0a"/><circle cx="355.3" cy="98.8" r="2.05" fill="#ff7a0a"/><circle cx="355.3" cy="103.6" r="2.05" fill="#ff7a0a"/><circle cx="355.3" cy="108.5" r="2.05" fill="#ff7a0a"/><circle cx="355.3" cy="113.4" r="2.05" fill="#ff7a0a"/><circle cx="355.3" cy="118.2" r="2.05" fill="#ff7a0a"/><circle cx="355.3" cy="123.1" r="2.05" fill="#ff7a0a"/><circle cx="355.3" cy="127.9" r="2.05" fill="#ff7a0a"/><circle cx="355.3" cy="132.8" r="2.05" fill="#ff7a0a"/><circle cx="355.3" cy="137.7" r="2.05" fill="#ff7a0a"/><circle cx="355.3" cy="142.5" r="2.05" fill="#ff7a0a"/><circle cx="355.3" cy="147.4" r="2.05" fill="#ff7a0a"/><circle cx="355.3" cy="152.2" r="2.05" fill="#ff7a0a"/><circle cx="355.3" cy="157.1" r="2.05" fill="#ff7a0a"/><circle cx="355.3" cy="162.0" r="2.05" fill="#ff7a0a"/><circle cx="355.3" cy="166.8" r="2.05" fill="#ff7a0a"/><circle cx="355.3" cy="171.7" r="2.05" fill="#ff7a0a"/><circle cx="355.3" cy="176.5" r="2.05" fill="#ff7a0a"/><circle cx="355.3" cy="181.4" r="2.05" fill="#ff7a0a"/><circle cx="355.3" cy="186.3" r="2.05" fill="#ff7a0a"/><circle cx="355.3" cy="191.1" r="2.05" fill="#ff7a0a"/><circle cx="355.3" cy="196.0" r="2.05" fill="#ff7a0a"/><circle cx="355.3" cy="200.8" r="2.05" fill="#ff7a0a"/><circle cx="355.3" cy="205.7" r="2.05" fill="#ff7a0a"/><circle cx="355.3" cy="210.6" r="2.05" fill="#ff7a0a"/><circle cx="355.3" cy="215.4" r="2.05" fill="#ff7a0a"/><circle cx="355.3" cy="220.3" r="2.05" fill="#ff7a0a"/><circle cx="355.3" cy="225.1" r="2.05" fill="#ff7a0a"/><circle cx="355.3" cy="230.0" r="2.05" fill="#ff7a0a"/><circle cx="355.3" cy="234.9" r="2.05" fill="#ff7a0a"/><circle cx="355.3" cy="239.7" r="2.05" fill="#ff7a0a"/><circle cx="355.3" cy="244.6" r="2.05" fill="#ff7a0a"/><circle cx="358.2" cy="91.5" r="2.05" fill="#ff7a0a"/><circle cx="358.2" cy="96.3" r="2.05" fill="#ff7a0a"/><circle cx="358.2" cy="101.2" r="2.05" fill="#ff7a0a"/><circle cx="358.2" cy="106.1" r="2.05" fill="#ff7a0a"/><circle cx="358.2" cy="110.9" r="2.05" fill="#ff7a0a"/><circle cx="358.2" cy="115.8" r="2.05" fill="#ff7a0a"/><circle cx="358.2" cy="120.6" r="2.05" fill="#ff7a0a"/><circle cx="358.2" cy="125.5" r="2.05" fill="#ff7a0a"/><circle cx="358.2" cy="130.4" r="2.05" fill="#ff7a0a"/><circle cx="358.2" cy="135.2" r="2.05" fill="#ff7a0a"/><circle cx="358.2" cy="140.1" r="2.05" fill="#ff7a0a"/><circle cx="358.2" cy="144.9" r="2.05" fill="#ff7a0a"/><circle cx="358.2" cy="149.8" r="2.05" fill="#ff7a0a"/><circle cx="358.2" cy="154.7" r="2.05" fill="#ff7a0a"/><circle cx="358.2" cy="159.5" r="2.05" fill="#ff7a0a"/><circle cx="358.2" cy="164.4" r="2.05" fill="#ff7a0a"/><circle cx="358.2" cy="169.2" r="2.05" fill="#ff7a0a"/><circle cx="358.2" cy="174.1" r="2.05" fill="#ff7a0a"/><circle cx="358.2" cy="179.0" r="2.05" fill="#ff7a0a"/><circle cx="358.2" cy="183.8" r="2.05" fill="#ff7a0a"/><circle cx="358.2" cy="188.7" r="2.05" fill="#ff7a0a"/><circle cx="358.2" cy="193.5" r="2.05" fill="#ff7a0a"/><circle cx="358.2" cy="198.4" r="2.05" fill="#ff7a0a"/><circle cx="358.2" cy="203.3" r="2.05" fill="#ff7a0a"/><circle cx="358.2" cy="208.1" r="2.05" fill="#ff7a0a"/><circle cx="358.2" cy="213.0" r="2.05" fill="#ff7a0a"/><circle cx="358.2" cy="217.8" r="2.05" fill="#ff7a0a"/><circle cx="358.2" cy="222.7" r="2.05" fill="#ff7a0a"/><circle cx="358.2" cy="227.6" r="2.05" fill="#ff7a0a"/><circle cx="358.2" cy="232.4" r="2.05" fill="#ff7a0a"/><circle cx="358.2" cy="237.3" r="2.05" fill="#ff7a0a"/><circle cx="358.2" cy="242.1" r="2.05" fill="#ff7a0a"/><circle cx="364.0" cy="101.2" r="2.05" fill="#ff6400"/><circle cx="364.0" cy="106.1" r="2.05" fill="#ff6400"/><circle cx="364.0" cy="110.9" r="2.05" fill="#ff6400"/><circle cx="364.0" cy="115.8" r="2.05" fill="#ff6400"/><circle cx="364.0" cy="120.6" r="2.05" fill="#ff6400"/><circle cx="364.0" cy="125.5" r="2.05" fill="#ff6400"/><circle cx="364.0" cy="130.4" r="2.05" fill="#ff6400"/><circle cx="364.0" cy="135.2" r="2.05" fill="#ff6400"/><circle cx="364.0" cy="140.1" r="2.05" fill="#ff6400"/><circle cx="364.0" cy="144.9" r="2.05" fill="#ff6400"/><circle cx="364.0" cy="149.8" r="2.05" fill="#ff6400"/><circle cx="364.0" cy="154.7" r="2.05" fill="#ff6400"/><circle cx="364.0" cy="159.5" r="2.05" fill="#ff6400"/><circle cx="364.0" cy="164.4" r="2.05" fill="#ff6400"/><circle cx="364.0" cy="169.2" r="2.05" fill="#ff6400"/><circle cx="364.0" cy="174.1" r="2.05" fill="#ff6400"/><circle cx="364.0" cy="179.0" r="2.05" fill="#ff6400"/><circle cx="364.0" cy="183.8" r="2.05" fill="#ff6400"/><circle cx="364.0" cy="188.7" r="2.05" fill="#ff6400"/><circle cx="364.0" cy="193.5" r="2.05" fill="#ff6400"/><circle cx="364.0" cy="198.4" r="2.05" fill="#ff6400"/><circle cx="364.0" cy="203.3" r="2.05" fill="#ff6400"/><circle cx="364.0" cy="208.1" r="2.05" fill="#ff6400"/><circle cx="364.0" cy="213.0" r="2.05" fill="#ff6400"/><circle cx="364.0" cy="217.8" r="2.05" fill="#ff6400"/><circle cx="364.0" cy="222.7" r="2.05" fill="#ff6400"/><circle cx="364.0" cy="227.6" r="2.05" fill="#ff6400"/><circle cx="364.0" cy="232.4" r="2.05" fill="#ff6400"/><circle cx="364.0" cy="237.3" r="2.05" fill="#ff6400"/><circle cx="367.2" cy="103.6" r="2.05" fill="#ff6400"/><circle cx="367.2" cy="108.5" r="2.05" fill="#ff6400"/><circle cx="367.2" cy="113.4" r="2.05" fill="#ff6400"/><circle cx="367.2" cy="118.2" r="2.05" fill="#ff6400"/><circle cx="367.2" cy="123.1" r="2.05" fill="#ff6400"/><circle cx="367.2" cy="127.9" r="2.05" fill="#ff6400"/><circle cx="367.2" cy="132.8" r="2.05" fill="#ff6400"/><circle cx="367.2" cy="137.7" r="2.05" fill="#ff6400"/><circle cx="367.2" cy="142.5" r="2.05" fill="#ff6400"/><circle cx="367.2" cy="147.4" r="2.05" fill="#ff6400"/><circle cx="367.2" cy="152.2" r="2.05" fill="#ff6400"/><circle cx="367.2" cy="157.1" r="2.05" fill="#ff6400"/><circle cx="367.2" cy="162.0" r="2.05" fill="#ff6400"/><circle cx="367.2" cy="166.8" r="2.05" fill="#ff6400"/><circle cx="367.2" cy="171.7" r="2.05" fill="#ff6400"/><circle cx="367.2" cy="176.5" r="2.05" fill="#ff6400"/><circle cx="367.2" cy="181.4" r="2.05" fill="#ff6400"/><circle cx="367.2" cy="186.3" r="2.05" fill="#ff6400"/><circle cx="367.2" cy="191.1" r="2.05" fill="#ff6400"/><circle cx="367.2" cy="196.0" r="2.05" fill="#ff6400"/><circle cx="367.2" cy="200.8" r="2.05" fill="#ff6400"/><circle cx="367.2" cy="205.7" r="2.05" fill="#ff6400"/><circle cx="367.2" cy="210.6" r="2.05" fill="#ff6400"/><circle cx="367.2" cy="215.4" r="2.05" fill="#ff6400"/><circle cx="367.2" cy="220.3" r="2.05" fill="#ff6400"/><circle cx="367.2" cy="225.1" r="2.05" fill="#ff6400"/><circle cx="367.2" cy="230.0" r="2.05" fill="#ff6400"/><circle cx="367.2" cy="234.9" r="2.05" fill="#ff6400"/><circle cx="367.2" cy="239.7" r="2.05" fill="#ff6400"/><circle cx="370.4" cy="106.1" r="2.05" fill="#ff6400"/><circle cx="370.4" cy="110.9" r="2.05" fill="#ff6400"/><circle cx="370.4" cy="115.8" r="2.05" fill="#ff6400"/><circle cx="370.4" cy="120.6" r="2.05" fill="#ff6400"/><circle cx="370.4" cy="125.5" r="2.05" fill="#ff6400"/><circle cx="370.4" cy="130.4" r="2.05" fill="#ff6400"/><circle cx="370.4" cy="135.2" r="2.05" fill="#ff6400"/><circle cx="370.4" cy="140.1" r="2.05" fill="#ff6400"/><circle cx="370.4" cy="144.9" r="2.05" fill="#ff6400"/><circle cx="370.4" cy="149.8" r="2.05" fill="#ff6400"/><circle cx="370.4" cy="154.7" r="2.05" fill="#ff6400"/><circle cx="370.4" cy="159.5" r="2.05" fill="#ff6400"/><circle cx="370.4" cy="164.4" r="2.05" fill="#ff6400"/><circle cx="370.4" cy="169.2" r="2.05" fill="#ff6400"/><circle cx="370.4" cy="174.1" r="2.05" fill="#ff6400"/><circle cx="370.4" cy="179.0" r="2.05" fill="#ff6400"/><circle cx="370.4" cy="183.8" r="2.05" fill="#ff6400"/><circle cx="370.4" cy="188.7" r="2.05" fill="#ff6400"/><circle cx="370.4" cy="193.5" r="2.05" fill="#ff6400"/><circle cx="370.4" cy="198.4" r="2.05" fill="#ff6400"/><circle cx="370.4" cy="203.3" r="2.05" fill="#ff6400"/><circle cx="370.4" cy="208.1" r="2.05" fill="#ff6400"/><circle cx="370.4" cy="213.0" r="2.05" fill="#ff6400"/><circle cx="370.4" cy="217.8" r="2.05" fill="#ff6400"/><circle cx="370.4" cy="222.7" r="2.05" fill="#ff6400"/><circle cx="370.4" cy="227.6" r="2.05" fill="#ff6400"/><circle cx="370.4" cy="232.4" r="2.05" fill="#ff6400"/><circle cx="370.4" cy="237.3" r="2.05" fill="#ff6400"/><circle cx="373.6" cy="113.4" r="2.05" fill="#ff6400"/><circle cx="373.6" cy="118.2" r="2.05" fill="#ff6400"/><circle cx="373.6" cy="123.1" r="2.05" fill="#ff6400"/><circle cx="373.6" cy="127.9" r="2.05" fill="#ff6400"/><circle cx="373.6" cy="132.8" r="2.05" fill="#ff6400"/><circle cx="373.6" cy="137.7" r="2.05" fill="#ff6400"/><circle cx="373.6" cy="142.5" r="2.05" fill="#ff6400"/><circle cx="373.6" cy="147.4" r="2.05" fill="#ff6400"/><circle cx="373.6" cy="152.2" r="2.05" fill="#ff6400"/><circle cx="373.6" cy="157.1" r="2.05" fill="#ff6400"/><circle cx="373.6" cy="162.0" r="2.05" fill="#ff6400"/><circle cx="373.6" cy="166.8" r="2.05" fill="#ff6400"/><circle cx="373.6" cy="171.7" r="2.05" fill="#ff6400"/><circle cx="373.6" cy="176.5" r="2.05" fill="#ff6400"/><circle cx="373.6" cy="181.4" r="2.05" fill="#ff6400"/><circle cx="373.6" cy="186.3" r="2.05" fill="#ff6400"/><circle cx="373.6" cy="191.1" r="2.05" fill="#ff6400"/><circle cx="373.6" cy="196.0" r="2.05" fill="#ff6400"/><circle cx="373.6" cy="200.8" r="2.05" fill="#ff6400"/><circle cx="373.6" cy="205.7" r="2.05" fill="#ff6400"/><circle cx="373.6" cy="210.6" r="2.05" fill="#ff6400"/><circle cx="373.6" cy="215.4" r="2.05" fill="#ff6400"/><circle cx="373.6" cy="220.3" r="2.05" fill="#ff6400"/><circle cx="373.6" cy="225.1" r="2.05" fill="#ff6400"/><circle cx="373.6" cy="230.0" r="2.05" fill="#ff6400"/><circle cx="373.6" cy="234.9" r="2.05" fill="#ff6400"/><circle cx="373.6" cy="239.7" r="2.05" fill="#ff6400"/><circle cx="373.6" cy="244.6" r="2.05" fill="#ff6400"/><circle cx="373.6" cy="249.4" r="2.05" fill="#ff6400"/><circle cx="373.6" cy="254.3" r="2.05" fill="#ff6400"/><circle cx="385.5" cy="130.4" r="2.05" fill="#ff6400"/><circle cx="385.5" cy="135.2" r="2.05" fill="#ff6400"/><circle cx="385.5" cy="140.1" r="2.05" fill="#ff6400"/><circle cx="385.5" cy="144.9" r="2.05" fill="#ff6400"/><circle cx="385.5" cy="149.8" r="2.05" fill="#ff6400"/><circle cx="385.5" cy="154.7" r="2.05" fill="#ff6400"/><circle cx="385.5" cy="159.5" r="2.05" fill="#ff6400"/><circle cx="385.5" cy="164.4" r="2.05" fill="#ff6400"/><circle cx="385.5" cy="169.2" r="2.05" fill="#ff6400"/><circle cx="385.5" cy="174.1" r="2.05" fill="#ff6400"/><circle cx="385.5" cy="179.0" r="2.05" fill="#ff6400"/><circle cx="385.5" cy="183.8" r="2.05" fill="#ff6400"/><circle cx="385.5" cy="188.7" r="2.05" fill="#ff6400"/><circle cx="385.5" cy="193.5" r="2.05" fill="#ff6400"/><circle cx="385.5" cy="198.4" r="2.05" fill="#ff6400"/><circle cx="385.5" cy="203.3" r="2.05" fill="#ff6400"/><circle cx="385.5" cy="208.1" r="2.05" fill="#ff6400"/><circle cx="385.5" cy="213.0" r="2.05" fill="#ff6400"/><circle cx="385.5" cy="217.8" r="2.05" fill="#ff6400"/><circle cx="385.5" cy="222.7" r="2.05" fill="#ff6400"/><circle cx="385.5" cy="227.6" r="2.05" fill="#ff6400"/><circle cx="385.5" cy="232.4" r="2.05" fill="#ff6400"/><circle cx="385.5" cy="237.3" r="2.05" fill="#ff6400"/><circle cx="385.5" cy="242.1" r="2.05" fill="#ff6400"/><circle cx="385.5" cy="247.0" r="2.05" fill="#ff6400"/><circle cx="390.9" cy="130.4" r="2.05" fill="#ff6400"/><circle cx="390.9" cy="135.2" r="2.05" fill="#ff6400"/><circle cx="390.9" cy="140.1" r="2.05" fill="#ff6400"/><circle cx="390.9" cy="144.9" r="2.05" fill="#ff6400"/><circle cx="390.9" cy="149.8" r="2.05" fill="#ff6400"/><circle cx="390.9" cy="154.7" r="2.05" fill="#ff6400"/><circle cx="390.9" cy="159.5" r="2.05" fill="#ff6400"/><circle cx="390.9" cy="164.4" r="2.05" fill="#ff6400"/><circle cx="390.9" cy="169.2" r="2.05" fill="#ff6400"/><circle cx="390.9" cy="174.1" r="2.05" fill="#ff6400"/><circle cx="390.9" cy="179.0" r="2.05" fill="#ff6400"/><circle cx="390.9" cy="183.8" r="2.05" fill="#ff6400"/><circle cx="390.9" cy="188.7" r="2.05" fill="#ff6400"/><circle cx="390.9" cy="193.5" r="2.05" fill="#ff6400"/><circle cx="390.9" cy="198.4" r="2.05" fill="#ff6400"/><circle cx="390.9" cy="203.3" r="2.05" fill="#ff6400"/><circle cx="390.9" cy="208.1" r="2.05" fill="#ff6400"/><circle cx="390.9" cy="213.0" r="2.05" fill="#ff6400"/><circle cx="390.9" cy="217.8" r="2.05" fill="#ff6400"/><circle cx="390.9" cy="222.7" r="2.05" fill="#ff6400"/><circle cx="390.9" cy="227.6" r="2.05" fill="#ff6400"/><circle cx="390.9" cy="232.4" r="2.05" fill="#ff6400"/><circle cx="399.8" cy="130.4" r="2.05" fill="#ff7a0a"/><circle cx="399.8" cy="135.2" r="2.05" fill="#ff7a0a"/><circle cx="399.8" cy="140.1" r="2.05" fill="#ff7a0a"/><circle cx="399.8" cy="144.9" r="2.05" fill="#ff7a0a"/><circle cx="399.8" cy="149.8" r="2.05" fill="#ff7a0a"/><circle cx="399.8" cy="154.7" r="2.05" fill="#ff7a0a"/><circle cx="399.8" cy="159.5" r="2.05" fill="#ff7a0a"/><circle cx="399.8" cy="164.4" r="2.05" fill="#ff7a0a"/><circle cx="399.8" cy="169.2" r="2.05" fill="#ff7a0a"/><circle cx="399.8" cy="174.1" r="2.05" fill="#ff7a0a"/><circle cx="399.8" cy="179.0" r="2.05" fill="#ff7a0a"/><circle cx="399.8" cy="183.8" r="2.05" fill="#ff7a0a"/><circle cx="399.8" cy="188.7" r="2.05" fill="#ff7a0a"/><circle cx="399.8" cy="193.5" r="2.05" fill="#ff7a0a"/><circle cx="399.8" cy="198.4" r="2.05" fill="#ff7a0a"/><circle cx="399.8" cy="203.3" r="2.05" fill="#ff7a0a"/><circle cx="399.8" cy="208.1" r="2.05" fill="#ff7a0a"/><circle cx="399.8" cy="213.0" r="2.05" fill="#ff7a0a"/><circle cx="399.8" cy="217.8" r="2.05" fill="#ff7a0a"/><circle cx="399.8" cy="222.7" r="2.05" fill="#ff7a0a"/><circle cx="399.8" cy="227.6" r="2.05" fill="#ff7a0a"/><circle cx="104.4" cy="120.9" r="2.05" fill="#ff7a0a"/><circle cx="104.4" cy="127.2" r="2.05" fill="#ff7a0a"/><circle cx="107.0" cy="127.8" r="2.05" fill="#ff7a0a"/><circle cx="109.5" cy="128.2" r="2.05" fill="#ff7a0a"/><circle cx="112.0" cy="124.7" r="2.05" fill="#ff6400"/><circle cx="115.2" cy="127.2" r="2.05" fill="#ff7a0a"/><circle cx="121.5" cy="124.0" r="2.05" fill="#ff7a0a"/><circle cx="125.9" cy="113.9" r="2.05" fill="#ff2a10"/><circle cx="128.5" cy="122.1" r="2.05" fill="#ff7a0a"/><circle cx="132.3" cy="121.5" r="2.05" fill="#ff7a0a"/><circle cx="136.1" cy="124.0" r="2.05" fill="#ff7a0a"/><circle cx="138.0" cy="116.4" r="2.05" fill="#ff7a0a"/><circle cx="138.0" cy="128.5" r="2.05" fill="#ff7a0a"/><circle cx="119.6" cy="132.3" r="2.05" fill="#ff7a0a"/><circle cx="126.6" cy="132.3" r="2.05" fill="#ff7a0a"/><circle cx="131.0" cy="131.0" r="2.05" fill="#ff7a0a"/><circle cx="133.5" cy="127.2" r="2.05" fill="#ff7a0a"/><circle cx="135.4" cy="132.3" r="2.05" fill="#ff7a0a"/><circle cx="138.0" cy="133.5" r="2.05" fill="#ff9a1a"/><circle cx="132.3" cy="136.1" r="2.05" fill="#ff7a0a"/><circle cx="129.7" cy="137.9" r="2.05" fill="#ff7a0a"/><circle cx="127.2" cy="137.3" r="2.05" fill="#ff7a0a"/><circle cx="136.1" cy="137.3" r="2.05" fill="#ff7a0a"/><circle cx="138.0" cy="139.2" r="2.05" fill="#ff7a0a"/><circle cx="120.3" cy="136.7" r="2.05" fill="#ff7a0a"/><circle cx="119.0" cy="140.5" r="2.05" fill="#ff7a0a"/><circle cx="121.5" cy="141.7" r="2.05" fill="#ff7a0a"/><circle cx="127.2" cy="141.7" r="2.05" fill="#ff7a0a"/><circle cx="131.0" cy="142.4" r="2.05" fill="#ff7a0a"/><circle cx="134.2" cy="140.5" r="2.05" fill="#ff7a0a"/><circle cx="136.7" cy="144.3" r="2.05" fill="#ff7a0a"/><circle cx="128.5" cy="145.5" r="2.05" fill="#ff7a0a"/><circle cx="127.2" cy="149.3" r="2.05" fill="#ff7a0a"/><circle cx="107.0" cy="134.8" r="2.05" fill="#c8b400"/><circle cx="105.1" cy="137.3" r="2.05" fill="#ff7a0a"/><circle cx="107.6" cy="137.9" r="2.05" fill="#ff7a0a"/><circle cx="113.3" cy="136.1" r="2.05" fill="#ff7a0a"/><circle cx="112.7" cy="139.2" r="2.05" fill="#ff2a10"/><circle cx="110.1" cy="139.8" r="2.05" fill="#ff7a0a"/><circle cx="105.1" cy="141.7" r="2.05" fill="#ff7a0a"/><circle cx="112.7" cy="143.0" r="2.05" fill="#ff2a10"/><circle cx="115.2" cy="143.0" r="2.05" fill="#ff7a0a"/><circle cx="107.6" cy="144.3" r="2.05" fill="#ff7a0a"/><circle cx="105.7" cy="146.2" r="2.05" fill="#c8b400"/><circle cx="110.8" cy="146.2" r="2.05" fill="#ff7a0a"/><circle cx="115.2" cy="147.4" r="2.05" fill="#ff7a0a"/><circle cx="106.3" cy="149.3" r="2.05" fill="#90c800"/><circle cx="109.5" cy="150.0" r="2.05" fill="#ff7a0a"/><circle cx="107.0" cy="154.4" r="2.05" fill="#c8b400"/><circle cx="105.1" cy="157.0" r="2.05" fill="#ff7a0a"/><circle cx="105.1" cy="162.0" r="2.05" fill="#ff6400"/><circle cx="107.0" cy="164.6" r="2.05" fill="#ff9a1a"/><circle cx="110.1" cy="167.7" r="2.05" fill="#ff7a0a"/><circle cx="112.7" cy="169.0" r="2.05" fill="#ff6400"/><circle cx="115.8" cy="168.4" r="2.05" fill="#ff9a1a"/><circle cx="120.3" cy="167.1" r="2.05" fill="#ff7a0a"/><circle cx="113.3" cy="171.5" r="2.05" fill="#ff6400"/><circle cx="115.8" cy="173.4" r="2.05" fill="#ff7a0a"/><circle cx="107.0" cy="173.4" r="2.05" fill="#c8b400"/><circle cx="105.1" cy="175.9" r="2.05" fill="#ff6400"/><circle cx="105.1" cy="181.0" r="2.05" fill="#ff6400"/><circle cx="107.6" cy="183.5" r="2.05" fill="#c8b400"/><circle cx="112.7" cy="183.2" r="2.05" fill="#90c800"/><circle cx="110.1" cy="187.3" r="2.05" fill="#ff7a0a"/><circle cx="119.6" cy="176.6" r="2.05" fill="#ff7a0a"/><circle cx="127.2" cy="162.0" r="2.05" fill="#ff6400"/><circle cx="129.7" cy="163.3" r="2.05" fill="#ff6400"/><circle cx="133.5" cy="163.3" r="2.05" fill="#ff6400"/><circle cx="135.7" cy="164.9" r="2.05" fill="#ff6400"/><circle cx="138.6" cy="162.7" r="2.05" fill="#ff7a0a"/><circle cx="129.1" cy="168.4" r="2.05" fill="#ff6400"/><circle cx="131.6" cy="166.5" r="2.05" fill="#ff6400"/><circle cx="136.1" cy="169.6" r="2.05" fill="#ff7a0a"/><circle cx="127.2" cy="174.1" r="2.05" fill="#ff6400"/><circle cx="129.7" cy="175.9" r="2.05" fill="#ff6400"/><circle cx="133.5" cy="177.8" r="2.05" fill="#ff6400"/><circle cx="135.4" cy="180.4" r="2.05" fill="#ff7a0a"/><circle cx="129.1" cy="182.9" r="2.05" fill="#ff6400"/><circle cx="127.2" cy="186.1" r="2.05" fill="#ff6400"/><circle cx="132.9" cy="187.3" r="2.05" fill="#ff6400"/><circle cx="138.0" cy="186.7" r="2.05" fill="#ff7a0a"/><circle cx="129.1" cy="153.8" r="2.05" fill="#ff7a0a"/><circle cx="120.3" cy="191.2" r="2.05" fill="#ff7a0a"/><circle cx="105.1" cy="195.6" r="2.05" fill="#ff7a0a"/><circle cx="107.0" cy="193.1" r="2.05" fill="#ff7a0a"/><circle cx="112.7" cy="193.1" r="2.05" fill="#ff2a10"/><circle cx="113.3" cy="195.0" r="2.05" fill="#808a8c"/><circle cx="115.8" cy="197.5" r="2.05" fill="#ff7a0a"/><circle cx="105.1" cy="200.7" r="2.05" fill="#ff6400"/><circle cx="107.0" cy="203.2" r="2.05" fill="#ff9a1a"/><circle cx="109.5" cy="206.4" r="2.05" fill="#ff7a0a"/><circle cx="113.3" cy="204.5" r="2.05" fill="#ff2a10"/><circle cx="112.7" cy="207.6" r="2.05" fill="#808a8c"/><circle cx="120.3" cy="205.7" r="2.05" fill="#ff7a0a"/><circle cx="107.0" cy="212.7" r="2.05" fill="#ff9a1a"/><circle cx="105.1" cy="215.2" r="2.05" fill="#ff6400"/><circle cx="105.1" cy="220.3" r="2.05" fill="#ff2a10"/><circle cx="107.0" cy="222.2" r="2.05" fill="#ff9a1a"/><circle cx="112.7" cy="217.7" r="2.05" fill="#808a8c"/><circle cx="113.3" cy="219.6" r="2.05" fill="#ff2a10"/><circle cx="115.8" cy="221.5" r="2.05" fill="#ff7a0a"/><circle cx="110.1" cy="226.0" r="2.05" fill="#ff7a0a"/><circle cx="120.3" cy="215.8" r="2.05" fill="#ff7a0a"/><circle cx="127.8" cy="193.1" r="2.05" fill="#ff6400"/><circle cx="130.4" cy="191.2" r="2.05" fill="#ff6400"/><circle cx="134.2" cy="189.9" r="2.05" fill="#ff6400"/><circle cx="136.7" cy="193.1" r="2.05" fill="#ff6400"/><circle cx="131.6" cy="195.6" r="2.05" fill="#ff6400"/><circle cx="127.8" cy="198.1" r="2.05" fill="#ff6400"/><circle cx="133.5" cy="198.1" r="2.05" fill="#ff6400"/><circle cx="136.7" cy="198.1" r="2.05" fill="#ff7a0a"/><circle cx="132.9" cy="205.1" r="2.05" fill="#ff6400"/><circle cx="135.4" cy="204.5" r="2.05" fill="#ff7a0a"/><circle cx="130.4" cy="208.3" r="2.05" fill="#ff6400"/><circle cx="126.6" cy="210.8" r="2.05" fill="#ff6400"/><circle cx="129.7" cy="212.1" r="2.05" fill="#ff6400"/><circle cx="134.2" cy="212.1" r="2.05" fill="#ff6400"/><circle cx="136.7" cy="210.8" r="2.05" fill="#ff6400"/><circle cx="131.0" cy="214.6" r="2.05" fill="#808a8c"/><circle cx="128.5" cy="216.5" r="2.05" fill="#ff6400"/><circle cx="134.8" cy="215.2" r="2.05" fill="#ff6400"/><circle cx="132.3" cy="218.4" r="2.05" fill="#ff6400"/><circle cx="136.7" cy="218.4" r="2.05" fill="#ff6400"/><circle cx="126.6" cy="220.3" r="2.05" fill="#ff6400"/><circle cx="132.3" cy="222.2" r="2.05" fill="#ff6400"/><circle cx="136.1" cy="223.4" r="2.05" fill="#ff6400"/><circle cx="138.0" cy="214.6" r="2.05" fill="#ff6400"/><circle cx="107.0" cy="231.7" r="2.05" fill="#ff7a0a"/><circle cx="105.1" cy="234.9" r="2.05" fill="#ff6400"/><circle cx="112.7" cy="231.7" r="2.05" fill="#ff6400"/><circle cx="113.9" cy="233.6" r="2.05" fill="#ff2a10"/><circle cx="115.8" cy="231.7" r="2.05" fill="#ff7a0a"/><circle cx="120.3" cy="230.4" r="2.05" fill="#ff6400"/><circle cx="105.1" cy="239.3" r="2.05" fill="#ff6400"/><circle cx="107.0" cy="242.5" r="2.05" fill="#c8b400"/><circle cx="112.7" cy="241.2" r="2.05" fill="#ff2a10"/><circle cx="110.1" cy="245.6" r="2.05" fill="#ff7a0a"/><circle cx="115.2" cy="245.6" r="2.05" fill="#ff6400"/><circle cx="120.3" cy="245.0" r="2.05" fill="#ff6400"/><circle cx="107.0" cy="251.9" r="2.05" fill="#c8b400"/><circle cx="105.1" cy="254.5" r="2.05" fill="#ff2a10"/><circle cx="105.7" cy="259.5" r="2.05" fill="#ff7a0a"/><circle cx="133.5" cy="228.5" r="2.05" fill="#ff7a0a"/><circle cx="131.6" cy="232.3" r="2.05" fill="#ff7a0a"/><circle cx="138.0" cy="231.1" r="2.05" fill="#ff7a0a"/><circle cx="134.2" cy="234.9" r="2.05" fill="#ff7a0a"/><circle cx="129.1" cy="236.8" r="2.05" fill="#ff6400"/><circle cx="127.2" cy="239.3" r="2.05" fill="#ff6400"/><circle cx="131.0" cy="239.3" r="2.05" fill="#ff6400"/><circle cx="135.4" cy="238.7" r="2.05" fill="#ff7a0a"/><circle cx="128.5" cy="242.5" r="2.05" fill="#ff6400"/><circle cx="133.5" cy="241.8" r="2.05" fill="#ff7a0a"/><circle cx="137.3" cy="242.5" r="2.05" fill="#ff7a0a"/><circle cx="131.0" cy="246.3" r="2.05" fill="#ff7a0a"/><circle cx="136.1" cy="247.5" r="2.05" fill="#ff7a0a"/><circle cx="139.9" cy="116.5" r="2.05" fill="#ff7a0a"/><circle cx="143.7" cy="114.0" r="2.05" fill="#ff7a0a"/><circle cx="147.1" cy="107.0" r="2.05" fill="#ff7a0a"/><circle cx="151.3" cy="110.2" r="2.05" fill="#ff6400"/><circle cx="153.8" cy="105.8" r="2.05" fill="#ff7a0a"/><circle cx="158.3" cy="106.4" r="2.05" fill="#ff6400"/><circle cx="161.4" cy="102.6" r="2.05" fill="#ff7a0a"/><circle cx="164.6" cy="105.1" r="2.05" fill="#ff7a0a"/><circle cx="167.7" cy="104.5" r="2.05" fill="#ff6400"/><circle cx="172.2" cy="100.7" r="2.05" fill="#ff6400"/><circle cx="174.7" cy="97.5" r="2.05" fill="#10e010"/><circle cx="155.7" cy="115.3" r="2.05" fill="#ff9a1a"/><circle cx="163.9" cy="113.4" r="2.05" fill="#ff6400"/><circle cx="170.3" cy="115.9" r="2.05" fill="#ff7a0a"/><circle cx="176.0" cy="115.3" r="2.05" fill="#ff7a0a"/><circle cx="150.0" cy="119.7" r="2.05" fill="#ff6400"/><circle cx="141.8" cy="123.5" r="2.05" fill="#ff7a0a"/><circle cx="139.3" cy="124.4" r="2.05" fill="#ff7a0a"/><circle cx="144.3" cy="125.0" r="2.05" fill="#ff7a0a"/><circle cx="150.7" cy="123.5" r="2.05" fill="#ff6400"/><circle cx="155.7" cy="122.2" r="2.05" fill="#ff6400"/><circle cx="158.9" cy="123.1" r="2.05" fill="#ff6400"/><circle cx="163.3" cy="120.9" r="2.05" fill="#ff6400"/><circle cx="165.2" cy="123.9" r="2.05" fill="#ff6400"/><circle cx="170.9" cy="120.3" r="2.05" fill="#ff6400"/><circle cx="172.8" cy="122.2" r="2.05" fill="#ff6400"/><circle cx="176.0" cy="119.1" r="2.05" fill="#ff7a0a"/><circle cx="139.9" cy="128.5" r="2.05" fill="#ff7a0a"/><circle cx="145.0" cy="127.3" r="2.05" fill="#ff7a0a"/><circle cx="148.8" cy="127.3" r="2.05" fill="#ff6400"/><circle cx="151.3" cy="128.5" r="2.05" fill="#ff6400"/><circle cx="154.5" cy="126.0" r="2.05" fill="#ff6400"/><circle cx="157.6" cy="127.3" r="2.05" fill="#ff6400"/><circle cx="162.7" cy="126.6" r="2.05" fill="#ff6400"/><circle cx="166.5" cy="126.0" r="2.05" fill="#ff6400"/><circle cx="141.8" cy="132.3" r="2.05" fill="#ff7a0a"/><circle cx="146.2" cy="131.7" r="2.05" fill="#ff7a0a"/><circle cx="150.7" cy="132.3" r="2.05" fill="#ff6400"/><circle cx="158.3" cy="133.0" r="2.05" fill="#ff6400"/><circle cx="139.3" cy="138.1" r="2.05" fill="#ff7a0a"/><circle cx="143.7" cy="135.3" r="2.05" fill="#ff7a0a"/><circle cx="138.0" cy="145.0" r="2.05" fill="#ff7a0a"/><circle cx="155.7" cy="146.9" r="2.05" fill="#ff6400"/><circle cx="162.7" cy="144.4" r="2.05" fill="#ff6400"/><circle cx="164.6" cy="147.6" r="2.05" fill="#ff6400"/><circle cx="170.3" cy="145.0" r="2.05" fill="#ff6400"/><circle cx="172.2" cy="147.6" r="2.05" fill="#ff6400"/><circle cx="176.0" cy="142.5" r="2.05" fill="#ff7a0a"/><circle cx="174.7" cy="139.3" r="2.05" fill="#ff7a0a"/><circle cx="147.5" cy="151.4" r="2.05" fill="#ff7a0a"/><circle cx="150.0" cy="153.3" r="2.05" fill="#ff6400"/><circle cx="153.2" cy="152.0" r="2.05" fill="#ff7a0a"/><circle cx="158.3" cy="152.0" r="2.05" fill="#ff6400"/><circle cx="160.2" cy="149.5" r="2.05" fill="#ff7a0a"/><circle cx="163.3" cy="153.9" r="2.05" fill="#ff6400"/><circle cx="166.5" cy="150.7" r="2.05" fill="#ff6400"/><circle cx="141.8" cy="157.1" r="2.05" fill="#ff7a0a"/><circle cx="145.0" cy="156.4" r="2.05" fill="#ff7a0a"/><circle cx="148.1" cy="155.8" r="2.05" fill="#ff6400"/><circle cx="150.7" cy="156.4" r="2.05" fill="#ff6400"/><circle cx="163.9" cy="157.1" r="2.05" fill="#ff6400"/><circle cx="171.5" cy="157.1" r="2.05" fill="#ff6400"/><circle cx="139.3" cy="162.7" r="2.05" fill="#ff7a0a"/><circle cx="143.7" cy="161.5" r="2.05" fill="#ff7a0a"/><circle cx="155.7" cy="161.5" r="2.05" fill="#ff6400"/><circle cx="163.3" cy="167.2" r="2.05" fill="#ff6400"/><circle cx="165.2" cy="169.7" r="2.05" fill="#ff6400"/><circle cx="155.7" cy="171.0" r="2.05" fill="#ff6400"/><circle cx="169.6" cy="169.1" r="2.05" fill="#ff6400"/><circle cx="172.2" cy="171.0" r="2.05" fill="#ff6400"/><circle cx="176.0" cy="164.0" r="2.05" fill="#ff7a0a"/><circle cx="174.7" cy="167.2" r="2.05" fill="#ff7a0a"/><circle cx="141.8" cy="174.2" r="2.05" fill="#ff6400"/><circle cx="147.5" cy="175.4" r="2.05" fill="#ff7a0a"/><circle cx="150.7" cy="176.7" r="2.05" fill="#ff6400"/><circle cx="153.8" cy="176.1" r="2.05" fill="#ff6400"/><circle cx="157.0" cy="176.1" r="2.05" fill="#ff6400"/><circle cx="160.8" cy="174.2" r="2.05" fill="#ff6400"/><circle cx="163.9" cy="173.5" r="2.05" fill="#ff6400"/><circle cx="165.8" cy="176.1" r="2.05" fill="#ff6400"/><circle cx="169.6" cy="174.8" r="2.05" fill="#ff6400"/><circle cx="175.3" cy="174.8" r="2.05" fill="#ff7a0a"/><circle cx="170.3" cy="179.2" r="2.05" fill="#ff6400"/><circle cx="143.1" cy="179.9" r="2.05" fill="#ff9a1a"/><circle cx="141.8" cy="182.4" r="2.05" fill="#ff7a0a"/><circle cx="144.3" cy="183.7" r="2.05" fill="#ff7a0a"/><circle cx="150.7" cy="181.1" r="2.05" fill="#ff6400"/><circle cx="139.3" cy="186.8" r="2.05" fill="#ff7a0a"/><circle cx="149.4" cy="187.5" r="2.05" fill="#ff7a0a"/><circle cx="145.6" cy="190.6" r="2.05" fill="#ff7a0a"/><circle cx="164.6" cy="190.6" r="2.05" fill="#ff6400"/><circle cx="162.7" cy="193.8" r="2.05" fill="#ff6400"/><circle cx="155.7" cy="195.7" r="2.05" fill="#ff6400"/><circle cx="169.6" cy="193.2" r="2.05" fill="#ff6400"/><circle cx="172.2" cy="195.1" r="2.05" fill="#ff6400"/><circle cx="176.0" cy="193.2" r="2.05" fill="#ff7a0a"/><circle cx="176.0" cy="188.7" r="2.05" fill="#ff7a0a"/><circle cx="161.4" cy="198.2" r="2.05" fill="#ff6400"/><circle cx="165.2" cy="199.5" r="2.05" fill="#ff6400"/><circle cx="171.5" cy="200.7" r="2.05" fill="#ff7a0a"/><circle cx="158.3" cy="200.7" r="2.05" fill="#ff6400"/><circle cx="153.2" cy="200.7" r="2.05" fill="#ff6400"/><circle cx="148.8" cy="200.1" r="2.05" fill="#ff6400"/><circle cx="141.8" cy="201.4" r="2.05" fill="#ff6400"/><circle cx="145.0" cy="203.9" r="2.05" fill="#ff6400"/><circle cx="143.1" cy="205.8" r="2.05" fill="#ff6400"/><circle cx="150.7" cy="205.2" r="2.05" fill="#ff6400"/><circle cx="155.7" cy="209.0" r="2.05" fill="#ff6400"/><circle cx="170.9" cy="208.3" r="2.05" fill="#ff7a0a"/><circle cx="139.9" cy="209.0" r="2.05" fill="#ff6400"/><circle cx="147.5" cy="214.1" r="2.05" fill="#ff6400"/><circle cx="150.7" cy="214.7" r="2.05" fill="#ff6400"/><circle cx="141.8" cy="218.5" r="2.05" fill="#ff6400"/><circle cx="143.1" cy="221.7" r="2.05" fill="#ff6400"/><circle cx="147.5" cy="224.2" r="2.05" fill="#ff6400"/><circle cx="153.2" cy="219.8" r="2.05" fill="#ff6400"/><circle cx="156.4" cy="220.4" r="2.05" fill="#ff6400"/><circle cx="158.3" cy="224.8" r="2.05" fill="#ff6400"/><circle cx="153.8" cy="224.8" r="2.05" fill="#ff6400"/><circle cx="162.7" cy="217.9" r="2.05" fill="#ff6400"/><circle cx="165.2" cy="222.9" r="2.05" fill="#ff6400"/><circle cx="169.6" cy="220.4" r="2.05" fill="#ff6400"/><circle cx="172.2" cy="217.9" r="2.05" fill="#ff6400"/><circle cx="174.1" cy="214.1" r="2.05" fill="#ff6400"/><circle cx="176.0" cy="216.6" r="2.05" fill="#ff7a0a"/><circle cx="171.5" cy="224.2" r="2.05" fill="#ff6400"/><circle cx="163.3" cy="226.7" r="2.05" fill="#ff6400"/><circle cx="169.6" cy="226.7" r="2.05" fill="#ff6400"/><circle cx="150.7" cy="228.6" r="2.05" fill="#ff6400"/><circle cx="153.2" cy="229.9" r="2.05" fill="#ff6400"/><circle cx="139.3" cy="231.2" r="2.05" fill="#ff7a0a"/><circle cx="144.3" cy="232.4" r="2.05" fill="#ff6400"/><circle cx="147.5" cy="231.8" r="2.05" fill="#ff6400"/><circle cx="150.7" cy="235.6" r="2.05" fill="#ff6400"/><circle cx="155.7" cy="234.3" r="2.05" fill="#ff6400"/><circle cx="160.2" cy="232.4" r="2.05" fill="#ff6400"/><circle cx="163.9" cy="235.6" r="2.05" fill="#ff6400"/><circle cx="167.7" cy="233.1" r="2.05" fill="#ff6400"/><circle cx="141.2" cy="235.6" r="2.05" fill="#ff7a0a"/><circle cx="157.6" cy="239.4" r="2.05" fill="#ff6400"/><circle cx="162.7" cy="238.7" r="2.05" fill="#ff6400"/><circle cx="165.2" cy="241.9" r="2.05" fill="#ff6400"/><circle cx="169.6" cy="240.6" r="2.05" fill="#ff6400"/><circle cx="171.5" cy="237.5" r="2.05" fill="#ff6400"/><circle cx="176.0" cy="241.9" r="2.05" fill="#ff6400"/><circle cx="149.4" cy="241.3" r="2.05" fill="#ff6400"/><circle cx="153.2" cy="241.9" r="2.05" fill="#ff6400"/><circle cx="143.7" cy="245.1" r="2.05" fill="#ff7a0a"/><circle cx="151.3" cy="246.3" r="2.05" fill="#ff6400"/><circle cx="174.7" cy="245.7" r="2.05" fill="#ff6400"/><circle cx="155.7" cy="253.9" r="2.05" fill="#ff7a0a"/><circle cx="167.1" cy="252.7" r="2.05" fill="#ff6400"/><circle cx="171.9" cy="244.1" r="2.05" fill="#ff6400"/><circle cx="176.0" cy="97.5" r="2.05" fill="#10e010"/><circle cx="179.2" cy="98.8" r="2.05" fill="#ff7a0a"/><circle cx="181.7" cy="98.4" r="2.05" fill="#ff7a0a"/><circle cx="184.9" cy="102.6" r="2.05" fill="#ff6400"/><circle cx="186.8" cy="105.1" r="2.05" fill="#ff6400"/><circle cx="188.7" cy="105.7" r="2.05" fill="#ff6400"/><circle cx="190.6" cy="102.6" r="2.05" fill="#ff6400"/><circle cx="194.4" cy="107.6" r="2.05" fill="#ff6400"/><circle cx="200.7" cy="110.8" r="2.05" fill="#ff6400"/><circle cx="202.6" cy="109.5" r="2.05" fill="#ff6400"/><circle cx="204.5" cy="108.9" r="2.05" fill="#ff6400"/><circle cx="208.9" cy="105.7" r="2.05" fill="#ff6400"/><circle cx="211.4" cy="101.9" r="2.05" fill="#ff7a0a"/><circle cx="214.6" cy="107.0" r="2.05" fill="#ff6400"/><circle cx="177.3" cy="115.2" r="2.05" fill="#ff7a0a"/><circle cx="178.5" cy="118.4" r="2.05" fill="#ff7a0a"/><circle cx="181.7" cy="119.6" r="2.05" fill="#ff6400"/><circle cx="183.6" cy="121.5" r="2.05" fill="#ff6400"/><circle cx="186.1" cy="122.2" r="2.05" fill="#ff6400"/><circle cx="187.4" cy="124.7" r="2.05" fill="#ff6400"/><circle cx="191.8" cy="123.4" r="2.05" fill="#ff6400"/><circle cx="196.3" cy="126.0" r="2.05" fill="#ff6400"/><circle cx="198.2" cy="124.7" r="2.05" fill="#ff6400"/><circle cx="206.4" cy="124.1" r="2.05" fill="#ff6400"/><circle cx="207.6" cy="126.0" r="2.05" fill="#ff6400"/><circle cx="213.3" cy="123.4" r="2.05" fill="#ff6400"/><circle cx="183.0" cy="126.0" r="2.05" fill="#ff6400"/><circle cx="192.5" cy="128.5" r="2.05" fill="#ff6400"/><circle cx="195.0" cy="129.2" r="2.05" fill="#ff6400"/><circle cx="200.7" cy="129.2" r="2.05" fill="#ff6400"/><circle cx="203.2" cy="129.8" r="2.05" fill="#ff6400"/><circle cx="205.1" cy="127.9" r="2.05" fill="#ff6400"/><circle cx="214.0" cy="128.5" r="2.05" fill="#ff6400"/><circle cx="188.7" cy="131.7" r="2.05" fill="#ff6400"/><circle cx="201.3" cy="132.3" r="2.05" fill="#ff6400"/><circle cx="177.3" cy="139.9" r="2.05" fill="#ff7a0a"/><circle cx="177.9" cy="142.5" r="2.05" fill="#ff7a0a"/><circle cx="179.8" cy="145.0" r="2.05" fill="#ff6400"/><circle cx="183.6" cy="144.4" r="2.05" fill="#ff6400"/><circle cx="185.5" cy="148.8" r="2.05" fill="#ff6400"/><circle cx="188.0" cy="151.3" r="2.05" fill="#ff6400"/><circle cx="191.8" cy="147.5" r="2.05" fill="#ff6400"/><circle cx="194.4" cy="153.2" r="2.05" fill="#ff6400"/><circle cx="196.9" cy="150.1" r="2.05" fill="#ff6400"/><circle cx="198.8" cy="148.8" r="2.05" fill="#ff6400"/><circle cx="200.7" cy="153.2" r="2.05" fill="#ff6400"/><circle cx="202.6" cy="156.4" r="2.05" fill="#ff6400"/><circle cx="204.5" cy="152.6" r="2.05" fill="#ff6400"/><circle cx="206.4" cy="148.8" r="2.05" fill="#ff6400"/><circle cx="208.3" cy="151.3" r="2.05" fill="#ff6400"/><circle cx="213.3" cy="147.5" r="2.05" fill="#ff6400"/><circle cx="214.6" cy="153.2" r="2.05" fill="#ff6400"/><circle cx="177.3" cy="163.3" r="2.05" fill="#ff7a0a"/><circle cx="185.5" cy="162.7" r="2.05" fill="#ff6400"/><circle cx="206.4" cy="164.6" r="2.05" fill="#ff6400"/><circle cx="178.5" cy="167.2" r="2.05" fill="#ff6400"/><circle cx="181.7" cy="168.4" r="2.05" fill="#ff6400"/><circle cx="184.2" cy="169.1" r="2.05" fill="#ff6400"/><circle cx="194.4" cy="167.8" r="2.05" fill="#ff6400"/><circle cx="191.8" cy="172.2" r="2.05" fill="#ff6400"/><circle cx="186.1" cy="173.5" r="2.05" fill="#ff6400"/><circle cx="188.0" cy="176.0" r="2.05" fill="#ff6400"/><circle cx="198.2" cy="172.9" r="2.05" fill="#ff6400"/><circle cx="195.0" cy="177.3" r="2.05" fill="#ff6400"/><circle cx="200.1" cy="177.3" r="2.05" fill="#ff6400"/><circle cx="201.9" cy="179.8" r="2.05" fill="#ff6400"/><circle cx="204.5" cy="176.7" r="2.05" fill="#ff6400"/><circle cx="206.4" cy="172.9" r="2.05" fill="#ff6400"/><circle cx="208.9" cy="175.4" r="2.05" fill="#ff6400"/><circle cx="213.3" cy="172.2" r="2.05" fill="#ff6400"/><circle cx="214.6" cy="177.3" r="2.05" fill="#ff6400"/><circle cx="177.3" cy="174.8" r="2.05" fill="#ff6400"/><circle cx="178.5" cy="177.3" r="2.05" fill="#ff6400"/><circle cx="179.8" cy="179.2" r="2.05" fill="#ff6400"/><circle cx="184.2" cy="183.0" r="2.05" fill="#ff6400"/><circle cx="196.9" cy="183.6" r="2.05" fill="#ff6400"/><circle cx="177.3" cy="188.7" r="2.05" fill="#ff6400"/><circle cx="179.2" cy="190.6" r="2.05" fill="#ff6400"/><circle cx="181.1" cy="191.8" r="2.05" fill="#ff6400"/><circle cx="184.2" cy="192.5" r="2.05" fill="#ff6400"/><circle cx="186.1" cy="196.9" r="2.05" fill="#ff6400"/><circle cx="188.7" cy="200.1" r="2.05" fill="#ff6400"/><circle cx="191.8" cy="196.3" r="2.05" fill="#ff6400"/><circle cx="195.0" cy="200.7" r="2.05" fill="#ff6400"/><circle cx="198.2" cy="197.5" r="2.05" fill="#ff6400"/><circle cx="200.1" cy="200.7" r="2.05" fill="#ff6400"/><circle cx="203.2" cy="198.2" r="2.05" fill="#ff6400"/><circle cx="206.4" cy="196.3" r="2.05" fill="#ff6400"/><circle cx="208.9" cy="200.1" r="2.05" fill="#ff6400"/><circle cx="207.6" cy="202.0" r="2.05" fill="#ff6400"/><circle cx="213.3" cy="196.3" r="2.05" fill="#ff6400"/><circle cx="214.6" cy="186.8" r="2.05" fill="#ff6400"/><circle cx="214.0" cy="200.7" r="2.05" fill="#ff6400"/><circle cx="184.2" cy="207.1" r="2.05" fill="#ff6400"/><circle cx="201.3" cy="205.2" r="2.05" fill="#ff6400"/><circle cx="214.6" cy="207.1" r="2.05" fill="#ff6400"/><circle cx="178.5" cy="210.2" r="2.05" fill="#ff6400"/><circle cx="200.7" cy="211.5" r="2.05" fill="#ff6400"/><circle cx="204.5" cy="210.9" r="2.05" fill="#ff6400"/><circle cx="208.9" cy="210.2" r="2.05" fill="#ff6400"/><circle cx="177.3" cy="215.9" r="2.05" fill="#ff6400"/><circle cx="179.2" cy="218.5" r="2.05" fill="#ff6400"/><circle cx="181.7" cy="217.2" r="2.05" fill="#ff6400"/><circle cx="184.2" cy="215.9" r="2.05" fill="#ff6400"/><circle cx="186.1" cy="219.7" r="2.05" fill="#ff6400"/><circle cx="188.0" cy="217.2" r="2.05" fill="#ff6400"/><circle cx="188.7" cy="223.5" r="2.05" fill="#ff6400"/><circle cx="191.8" cy="221.0" r="2.05" fill="#ff6400"/><circle cx="193.7" cy="215.9" r="2.05" fill="#ff6400"/><circle cx="196.9" cy="215.3" r="2.05" fill="#ff6400"/><circle cx="198.2" cy="222.3" r="2.05" fill="#ff6400"/><circle cx="200.7" cy="219.7" r="2.05" fill="#ff6400"/><circle cx="206.4" cy="216.6" r="2.05" fill="#ff6400"/><circle cx="207.0" cy="221.0" r="2.05" fill="#ff6400"/><circle cx="209.5" cy="223.5" r="2.05" fill="#ff6400"/><circle cx="212.7" cy="213.4" r="2.05" fill="#ff6400"/><circle cx="213.3" cy="221.0" r="2.05" fill="#ff6400"/><circle cx="214.6" cy="226.1" r="2.05" fill="#ff6400"/><circle cx="194.4" cy="226.1" r="2.05" fill="#ff6400"/><circle cx="200.7" cy="226.1" r="2.05" fill="#ff6400"/><circle cx="203.2" cy="224.8" r="2.05" fill="#ff6400"/><circle cx="201.3" cy="229.2" r="2.05" fill="#ff6400"/><circle cx="183.0" cy="231.7" r="2.05" fill="#ff6400"/><circle cx="196.9" cy="232.4" r="2.05" fill="#ff6400"/><circle cx="204.5" cy="234.9" r="2.05" fill="#ff6400"/><circle cx="179.8" cy="236.8" r="2.05" fill="#ff6400"/><circle cx="177.3" cy="240.6" r="2.05" fill="#ff6400"/><circle cx="183.0" cy="240.6" r="2.05" fill="#ff6400"/><circle cx="198.8" cy="240.6" r="2.05" fill="#ff6400"/><circle cx="177.3" cy="245.0" r="2.05" fill="#ff6400"/><circle cx="188.7" cy="248.8" r="2.05" fill="#ff6400"/><circle cx="191.8" cy="250.0" r="2.05" fill="#ff6400"/><circle cx="194.4" cy="245.6" r="2.05" fill="#ff6400"/><circle cx="200.7" cy="245.0" r="2.05" fill="#ff6400"/><circle cx="207.0" cy="245.0" r="2.05" fill="#ff6400"/><circle cx="214.0" cy="245.0" r="2.05" fill="#ff6400"/><circle cx="184.2" cy="250.7" r="2.05" fill="#ff6400"/><circle cx="186.1" cy="252.6" r="2.05" fill="#ff6400"/><circle cx="182.3" cy="254.5" r="2.05" fill="#ff6400"/><circle cx="208.9" cy="253.8" r="2.05" fill="#ff6400"/><circle cx="213.3" cy="102.6" r="2.05" fill="#ff6400"/><circle cx="215.2" cy="107.0" r="2.05" fill="#ff6400"/><circle cx="218.3" cy="106.4" r="2.05" fill="#ff6400"/><circle cx="222.1" cy="100.7" r="2.05" fill="#ff6400"/><circle cx="224.0" cy="102.0" r="2.05" fill="#ff6400"/><circle cx="228.5" cy="108.3" r="2.05" fill="#ff6400"/><circle cx="225.3" cy="116.5" r="2.05" fill="#ff6400"/><circle cx="213.3" cy="123.5" r="2.05" fill="#ff6400"/><circle cx="220.2" cy="122.8" r="2.05" fill="#ff6400"/><circle cx="223.4" cy="122.8" r="2.05" fill="#ff6400"/><circle cx="221.5" cy="124.7" r="2.05" fill="#ff6400"/><circle cx="217.7" cy="127.9" r="2.05" fill="#ff6400"/><circle cx="215.2" cy="129.2" r="2.05" fill="#ff6400"/><circle cx="228.5" cy="132.3" r="2.05" fill="#ff6400"/><circle cx="225.3" cy="141.2" r="2.05" fill="#ff6400"/><circle cx="213.3" cy="147.6" r="2.05" fill="#ff6400"/><circle cx="220.9" cy="147.6" r="2.05" fill="#ff6400"/><circle cx="223.4" cy="146.3" r="2.05" fill="#ff6400"/><circle cx="222.1" cy="148.8" r="2.05" fill="#ff6400"/><circle cx="215.8" cy="153.3" r="2.05" fill="#ff6400"/><circle cx="218.3" cy="152.0" r="2.05" fill="#ff6400"/><circle cx="228.5" cy="157.1" r="2.05" fill="#ff6400"/><circle cx="234.2" cy="157.7" r="2.05" fill="#ff6400"/><circle cx="225.3" cy="165.3" r="2.05" fill="#ff6400"/><circle cx="213.3" cy="171.0" r="2.05" fill="#ff6400"/><circle cx="220.2" cy="171.0" r="2.05" fill="#ff6400"/><circle cx="223.4" cy="170.3" r="2.05" fill="#ff6400"/><circle cx="215.2" cy="177.3" r="2.05" fill="#ff6400"/><circle cx="218.3" cy="176.7" r="2.05" fill="#ff6400"/><circle cx="228.5" cy="181.1" r="2.05" fill="#ff6400"/><circle cx="229.7" cy="184.9" r="2.05" fill="#ff6400"/><circle cx="215.2" cy="187.5" r="2.05" fill="#ff6400"/><circle cx="222.1" cy="187.5" r="2.05" fill="#ff6400"/><circle cx="225.3" cy="190.0" r="2.05" fill="#ff6400"/><circle cx="213.3" cy="196.3" r="2.05" fill="#ff6400"/><circle cx="220.2" cy="196.3" r="2.05" fill="#ff6400"/><circle cx="223.4" cy="195.7" r="2.05" fill="#ff6400"/><circle cx="215.2" cy="201.4" r="2.05" fill="#ff6400"/><circle cx="218.3" cy="200.7" r="2.05" fill="#ff6400"/><circle cx="215.8" cy="206.4" r="2.05" fill="#ff6400"/><circle cx="218.3" cy="207.7" r="2.05" fill="#ff6400"/><circle cx="228.5" cy="205.2" r="2.05" fill="#ff6400"/><circle cx="222.1" cy="209.6" r="2.05" fill="#ff6400"/><circle cx="213.3" cy="213.4" r="2.05" fill="#ff6400"/><circle cx="222.1" cy="211.5" r="2.05" fill="#ff6400"/><circle cx="224.7" cy="214.7" r="2.05" fill="#ff6400"/><circle cx="213.3" cy="221.0" r="2.05" fill="#ff6400"/><circle cx="215.8" cy="221.7" r="2.05" fill="#ff6400"/><circle cx="220.9" cy="220.4" r="2.05" fill="#ff6400"/><circle cx="224.7" cy="219.1" r="2.05" fill="#ff6400"/><circle cx="215.2" cy="226.1" r="2.05" fill="#ff6400"/><circle cx="218.3" cy="224.8" r="2.05" fill="#ff6400"/><circle cx="227.8" cy="229.9" r="2.05" fill="#ff6400"/><circle cx="218.3" cy="239.4" r="2.05" fill="#ff6400"/><circle cx="213.3" cy="245.1" r="2.05" fill="#ff6400"/><circle cx="220.9" cy="244.4" r="2.05" fill="#ff6400"/><circle cx="224.0" cy="243.8" r="2.05" fill="#ff6400"/><circle cx="225.9" cy="247.0" r="2.05" fill="#ff6400"/><circle cx="215.8" cy="245.7" r="2.05" fill="#ff6400"/><circle cx="220.9" cy="244.4" r="2.05" fill="#ff6400"/><circle cx="223.4" cy="243.8" r="2.05" fill="#ff6400"/><circle cx="225.3" cy="248.2" r="2.05" fill="#ff6400"/><circle cx="256.4" cy="113.3" r="2.05" fill="#10e010"/><circle cx="260.2" cy="113.3" r="2.05" fill="#10e010"/><circle cx="264.0" cy="113.3" r="2.05" fill="#10e010"/><circle cx="267.8" cy="113.3" r="2.05" fill="#10e010"/><circle cx="272.9" cy="113.3" r="2.05" fill="#90c800"/><circle cx="276.7" cy="113.3" r="2.05" fill="#90c800"/><circle cx="282.4" cy="113.3" r="2.05" fill="#ff9a1a"/><circle cx="286.8" cy="113.3" r="2.05" fill="#ff7a0a"/><circle cx="290.0" cy="113.3" r="2.05" fill="#ff7a0a"/><circle cx="256.4" cy="117.1" r="2.05" fill="#10e010"/><circle cx="260.2" cy="117.1" r="2.05" fill="#10e010"/><circle cx="264.0" cy="117.1" r="2.05" fill="#10e010"/><circle cx="267.8" cy="117.1" r="2.05" fill="#10e010"/><circle cx="273.5" cy="117.1" r="2.05" fill="#90c800"/><circle cx="277.3" cy="117.1" r="2.05" fill="#90c800"/><circle cx="282.4" cy="117.1" r="2.05" fill="#ff9a1a"/><circle cx="288.1" cy="117.1" r="2.05" fill="#ff7a0a"/><circle cx="290.6" cy="117.1" r="2.05" fill="#ff7a0a"/><circle cx="256.4" cy="120.9" r="2.05" fill="#10e010"/><circle cx="260.9" cy="120.9" r="2.05" fill="#10e010"/><circle cx="264.7" cy="120.9" r="2.05" fill="#10e010"/><circle cx="267.8" cy="120.9" r="2.05" fill="#10e010"/><circle cx="272.9" cy="120.9" r="2.05" fill="#90c800"/><circle cx="276.7" cy="120.9" r="2.05" fill="#90c800"/><circle cx="282.4" cy="120.9" r="2.05" fill="#ff9a1a"/><circle cx="288.7" cy="120.9" r="2.05" fill="#ff7a0a"/><circle cx="291.2" cy="120.9" r="2.05" fill="#ff7a0a"/><circle cx="260.9" cy="124.7" r="2.05" fill="#10e010"/><circle cx="264.7" cy="124.7" r="2.05" fill="#10e010"/><circle cx="267.8" cy="124.7" r="2.05" fill="#10e010"/><circle cx="278.6" cy="124.7" r="2.05" fill="#90c800"/><circle cx="282.4" cy="124.7" r="2.05" fill="#ff9a1a"/><circle cx="289.3" cy="124.7" r="2.05" fill="#ff7a0a"/><circle cx="260.9" cy="127.8" r="2.05" fill="#10e010"/><circle cx="264.7" cy="127.8" r="2.05" fill="#10e010"/><circle cx="267.8" cy="127.8" r="2.05" fill="#10e010"/><circle cx="260.9" cy="131.0" r="2.05" fill="#10e010"/><circle cx="267.2" cy="131.0" r="2.05" fill="#10e010"/><circle cx="273.5" cy="131.0" r="2.05" fill="#90c800"/><circle cx="281.7" cy="131.0" r="2.05" fill="#ff9a1a"/><circle cx="263.4" cy="132.3" r="2.05" fill="#10e010"/><circle cx="268.5" cy="132.9" r="2.05" fill="#10e010"/><circle cx="256.4" cy="135.4" r="2.05" fill="#10e010"/><circle cx="265.3" cy="135.4" r="2.05" fill="#10e010"/><circle cx="268.5" cy="135.4" r="2.05" fill="#10e010"/><circle cx="281.7" cy="135.4" r="2.05" fill="#ff9a1a"/><circle cx="285.5" cy="133.8" r="2.05" fill="#c8b400"/><circle cx="267.2" cy="137.3" r="2.05" fill="#10e010"/><circle cx="270.4" cy="136.7" r="2.05" fill="#10e010"/><circle cx="271.6" cy="139.8" r="2.05" fill="#10e010"/><circle cx="287.4" cy="139.8" r="2.05" fill="#ff7a0a"/><circle cx="290.0" cy="140.5" r="2.05" fill="#ff7a0a"/><circle cx="290.6" cy="143.0" r="2.05" fill="#ff7a0a"/><circle cx="260.9" cy="146.2" r="2.05" fill="#10e010"/><circle cx="264.0" cy="146.8" r="2.05" fill="#10e010"/><circle cx="274.2" cy="145.5" r="2.05" fill="#90c800"/><circle cx="277.3" cy="145.9" r="2.05" fill="#90c800"/><circle cx="264.7" cy="149.3" r="2.05" fill="#10e010"/><circle cx="279.2" cy="149.3" r="2.05" fill="#90c800"/><circle cx="267.8" cy="138.6" r="2.05" fill="#10e010"/><circle cx="271.6" cy="139.9" r="2.05" fill="#10e010"/><circle cx="260.9" cy="146.2" r="2.05" fill="#10e010"/><circle cx="262.8" cy="147.5" r="2.05" fill="#10e010"/><circle cx="264.7" cy="148.8" r="2.05" fill="#10e010"/><circle cx="265.3" cy="153.8" r="2.05" fill="#10e010"/><circle cx="265.9" cy="157.0" r="2.05" fill="#10e010"/><circle cx="267.2" cy="158.9" r="2.05" fill="#10e010"/><circle cx="268.5" cy="160.8" r="2.05" fill="#10e010"/><circle cx="270.4" cy="160.2" r="2.05" fill="#10e010"/><circle cx="271.6" cy="163.9" r="2.05" fill="#10e010"/><circle cx="256.4" cy="160.2" r="2.05" fill="#10e010"/><circle cx="260.9" cy="170.3" r="2.05" fill="#10e010"/><circle cx="262.8" cy="170.9" r="2.05" fill="#10e010"/><circle cx="264.7" cy="176.6" r="2.05" fill="#10e010"/><circle cx="273.5" cy="145.6" r="2.05" fill="#90c800"/><circle cx="276.1" cy="146.2" r="2.05" fill="#90c800"/><circle cx="279.2" cy="150.0" r="2.05" fill="#90c800"/><circle cx="264.0" cy="172.2" r="2.05" fill="#90c800"/><circle cx="273.5" cy="169.6" r="2.05" fill="#90c800"/><circle cx="276.1" cy="170.3" r="2.05" fill="#90c800"/><circle cx="278.6" cy="174.1" r="2.05" fill="#90c800"/><circle cx="282.4" cy="159.5" r="2.05" fill="#ffa030"/><circle cx="285.5" cy="157.6" r="2.05" fill="#c8b400"/><circle cx="288.1" cy="164.6" r="2.05" fill="#ff9a1a"/><circle cx="290.0" cy="165.8" r="2.05" fill="#ff9a1a"/><circle cx="291.9" cy="167.1" r="2.05" fill="#ff9a1a"/><circle cx="287.4" cy="140.5" r="2.05" fill="#ff9a1a"/><circle cx="290.0" cy="141.8" r="2.05" fill="#ff9a1a"/><circle cx="292.5" cy="143.1" r="2.05" fill="#ff9a1a"/><circle cx="295.0" cy="150.7" r="2.05" fill="#ff6400"/><circle cx="295.0" cy="175.3" r="2.05" fill="#ff6400"/><circle cx="264.7" cy="178.5" r="2.05" fill="#10e010"/><circle cx="278.6" cy="178.5" r="2.05" fill="#90c800"/><circle cx="264.7" cy="181.7" r="2.05" fill="#10e010"/><circle cx="282.4" cy="183.6" r="2.05" fill="#ff9a1a"/><circle cx="285.5" cy="181.7" r="2.05" fill="#ff9a1a"/><circle cx="256.4" cy="184.2" r="2.05" fill="#ff6400"/><circle cx="264.7" cy="184.9" r="2.05" fill="#10e010"/><circle cx="267.8" cy="184.9" r="2.05" fill="#10e010"/><circle cx="270.4" cy="185.5" r="2.05" fill="#10e010"/><circle cx="257.1" cy="189.3" r="2.05" fill="#10e010"/><circle cx="264.7" cy="188.7" r="2.05" fill="#10e010"/><circle cx="267.8" cy="188.0" r="2.05" fill="#10e010"/><circle cx="271.0" cy="189.3" r="2.05" fill="#90c800"/><circle cx="274.8" cy="189.9" r="2.05" fill="#90c800"/><circle cx="287.4" cy="188.7" r="2.05" fill="#ff9a1a"/><circle cx="290.0" cy="189.3" r="2.05" fill="#ff9a1a"/><circle cx="292.5" cy="191.8" r="2.05" fill="#ff9a1a"/><circle cx="257.1" cy="194.4" r="2.05" fill="#90c800"/><circle cx="260.9" cy="195.0" r="2.05" fill="#10e010"/><circle cx="264.7" cy="192.5" r="2.05" fill="#10e010"/><circle cx="267.8" cy="192.5" r="2.05" fill="#10e010"/><circle cx="271.0" cy="192.5" r="2.05" fill="#90c800"/><circle cx="274.2" cy="193.1" r="2.05" fill="#90c800"/><circle cx="277.3" cy="194.4" r="2.05" fill="#90c800"/><circle cx="257.1" cy="199.4" r="2.05" fill="#c8b400"/><circle cx="260.9" cy="198.2" r="2.05" fill="#10e010"/><circle cx="264.0" cy="196.9" r="2.05" fill="#ff9a1a"/><circle cx="267.2" cy="196.9" r="2.05" fill="#10e010"/><circle cx="271.0" cy="196.3" r="2.05" fill="#90c800"/><circle cx="274.8" cy="196.9" r="2.05" fill="#90c800"/><circle cx="277.3" cy="198.2" r="2.05" fill="#90c800"/><circle cx="295.0" cy="199.4" r="2.05" fill="#ff6400"/><circle cx="257.1" cy="203.8" r="2.05" fill="#c8b400"/><circle cx="260.9" cy="202.6" r="2.05" fill="#10e010"/><circle cx="264.0" cy="201.9" r="2.05" fill="#ff6400"/><circle cx="267.8" cy="201.9" r="2.05" fill="#10e010"/><circle cx="271.0" cy="202.6" r="2.05" fill="#90c800"/><circle cx="274.2" cy="201.9" r="2.05" fill="#90c800"/><circle cx="278.6" cy="203.2" r="2.05" fill="#ff9a1a"/><circle cx="282.4" cy="205.7" r="2.05" fill="#ff9a1a"/><circle cx="285.5" cy="206.4" r="2.05" fill="#ff9a1a"/><circle cx="289.3" cy="204.5" r="2.05" fill="#ff9a1a"/><circle cx="291.9" cy="203.2" r="2.05" fill="#ff9a1a"/><circle cx="257.1" cy="208.9" r="2.05" fill="#ff6400"/><circle cx="260.9" cy="206.4" r="2.05" fill="#90c800"/><circle cx="264.0" cy="206.4" r="2.05" fill="#ff6400"/><circle cx="267.8" cy="205.7" r="2.05" fill="#90c800"/><circle cx="271.0" cy="207.0" r="2.05" fill="#90c800"/><circle cx="274.2" cy="206.4" r="2.05" fill="#90c800"/><circle cx="277.9" cy="207.0" r="2.05" fill="#90c800"/><circle cx="260.9" cy="210.2" r="2.05" fill="#90c800"/><circle cx="264.0" cy="210.8" r="2.05" fill="#ff6400"/><circle cx="267.8" cy="210.2" r="2.05" fill="#90c800"/><circle cx="271.0" cy="209.5" r="2.05" fill="#ff9a1a"/><circle cx="274.2" cy="210.8" r="2.05" fill="#90c800"/><circle cx="286.2" cy="210.8" r="2.05" fill="#ff9a1a"/><circle cx="257.1" cy="214.0" r="2.05" fill="#ff6400"/><circle cx="260.9" cy="214.0" r="2.05" fill="#ff9a1a"/><circle cx="264.0" cy="214.0" r="2.05" fill="#ff6400"/><circle cx="267.8" cy="214.0" r="2.05" fill="#ff9a1a"/><circle cx="271.0" cy="214.0" r="2.05" fill="#ff9a1a"/><circle cx="274.8" cy="214.0" r="2.05" fill="#90c800"/><circle cx="278.6" cy="214.0" r="2.05" fill="#90c800"/><circle cx="286.2" cy="214.0" r="2.05" fill="#ff9a1a"/><circle cx="290.0" cy="213.3" r="2.05" fill="#ff6400"/><circle cx="292.5" cy="214.0" r="2.05" fill="#ff6400"/><circle cx="282.4" cy="120.5" r="2.05" fill="#ff9a1a"/><circle cx="282.4" cy="125.6" r="2.05" fill="#ff9a1a"/><circle cx="282.4" cy="130.7" r="2.05" fill="#ff9a1a"/><circle cx="282.4" cy="135.1" r="2.05" fill="#ff9a1a"/><circle cx="285.6" cy="133.2" r="2.05" fill="#c8b400"/><circle cx="278.6" cy="122.4" r="2.05" fill="#90c800"/><circle cx="278.6" cy="125.6" r="2.05" fill="#90c800"/><circle cx="279.3" cy="145.2" r="2.05" fill="#90c800"/><circle cx="279.3" cy="149.0" r="2.05" fill="#90c800"/><circle cx="285.6" cy="156.6" r="2.05" fill="#c8b400"/><circle cx="287.5" cy="120.5" r="2.05" fill="#ff9a1a"/><circle cx="290.0" cy="119.9" r="2.05" fill="#ff9a1a"/><circle cx="291.9" cy="121.2" r="2.05" fill="#ff9a1a"/><circle cx="290.7" cy="123.1" r="2.05" fill="#ff9a1a"/><circle cx="294.5" cy="121.8" r="2.05" fill="#ff6400"/><circle cx="295.1" cy="126.2" r="2.05" fill="#ff6400"/><circle cx="297.0" cy="128.8" r="2.05" fill="#ff6400"/><circle cx="299.5" cy="126.9" r="2.05" fill="#ff6400"/><circle cx="287.5" cy="140.2" r="2.05" fill="#ff9a1a"/><circle cx="290.0" cy="141.4" r="2.05" fill="#ff9a1a"/><circle cx="292.6" cy="142.7" r="2.05" fill="#ff9a1a"/><circle cx="293.2" cy="143.9" r="2.05" fill="#ff9a1a"/><circle cx="295.1" cy="150.9" r="2.05" fill="#ff6400"/><circle cx="297.6" cy="152.2" r="2.05" fill="#ff6400"/><circle cx="299.5" cy="150.3" r="2.05" fill="#ff6400"/><circle cx="297.0" cy="154.1" r="2.05" fill="#ff6400"/><circle cx="303.9" cy="154.7" r="2.05" fill="#ff6400"/><circle cx="285.3" cy="157.5" r="2.05" fill="#c8b400"/><circle cx="287.8" cy="164.5" r="2.05" fill="#ff9a1a"/><circle cx="290.3" cy="165.1" r="2.05" fill="#ff9a1a"/><circle cx="292.2" cy="166.4" r="2.05" fill="#ff9a1a"/><circle cx="292.9" cy="167.7" r="2.05" fill="#ff9a1a"/><circle cx="294.8" cy="174.6" r="2.05" fill="#ff6400"/><circle cx="296.7" cy="177.2" r="2.05" fill="#ff6400"/><circle cx="299.2" cy="175.3" r="2.05" fill="#ff6400"/><circle cx="303.6" cy="179.1" r="2.05" fill="#ff6400"/><circle cx="285.3" cy="181.6" r="2.05" fill="#c8b400"/><circle cx="287.8" cy="188.5" r="2.05" fill="#ff9a1a"/><circle cx="290.3" cy="188.5" r="2.05" fill="#ff9a1a"/><circle cx="292.2" cy="190.4" r="2.05" fill="#ff9a1a"/><circle cx="292.9" cy="192.3" r="2.05" fill="#ff9a1a"/><circle cx="295.4" cy="199.3" r="2.05" fill="#ff6400"/><circle cx="299.2" cy="199.3" r="2.05" fill="#ff6400"/><circle cx="297.3" cy="201.2" r="2.05" fill="#ff6400"/><circle cx="303.6" cy="203.1" r="2.05" fill="#ff6400"/><circle cx="307.4" cy="195.5" r="2.05" fill="#ff6400"/><circle cx="289.7" cy="205.0" r="2.05" fill="#ff9a1a"/><circle cx="291.6" cy="203.8" r="2.05" fill="#ff9a1a"/><circle cx="285.3" cy="205.7" r="2.05" fill="#c8b400"/><circle cx="287.2" cy="206.3" r="2.05" fill="#c8b400"/><circle cx="295.4" cy="224.0" r="2.05" fill="#ff6400"/><circle cx="299.2" cy="223.4" r="2.05" fill="#ff6400"/><circle cx="297.3" cy="226.5" r="2.05" fill="#ff6400"/><circle cx="299.8" cy="228.4" r="2.05" fill="#ff6400"/><circle cx="303.6" cy="227.2" r="2.05" fill="#ff6400"/><circle cx="308.1" cy="224.6" r="2.05" fill="#ff6400"/><circle cx="294.1" cy="231.0" r="2.05" fill="#ff6400"/><circle cx="299.2" cy="231.6" r="2.05" fill="#ff6400"/><circle cx="249.7" cy="63.1" r="2.05" fill="#ff6400"/><circle cx="249.7" cy="87.4" r="2.05" fill="#ff6400"/><circle cx="249.9" cy="111.8" r="2.05" fill="#ff6400"/><circle cx="244.9" cy="121.9" r="2.05" fill="#ff9a1a"/><circle cx="267.7" cy="88.7" r="2.05" fill="#808a8c"/><circle cx="374.5" cy="115.8" r="2.05" fill="#ff6400"/><circle cx="377.1" cy="114.6" r="2.05" fill="#ff6400"/><circle cx="377.7" cy="117.7" r="2.05" fill="#ff6400"/><circle cx="379.6" cy="119.0" r="2.05" fill="#ff6400"/><circle cx="382.1" cy="122.2" r="2.05" fill="#ff6400"/><circle cx="384.0" cy="123.4" r="2.05" fill="#ff6400"/><circle cx="379.8" cy="122.2" r="2.05" fill="#ff6400"/><circle cx="385.9" cy="120.3" r="2.05" fill="#ff6400"/><circle cx="386.6" cy="123.4" r="2.05" fill="#ff6400"/><circle cx="388.5" cy="125.3" r="2.05" fill="#ff6400"/><circle cx="391.0" cy="119.0" r="2.05" fill="#ff9a1a"/><circle cx="392.3" cy="114.6" r="2.05" fill="#ff9a1a"/><circle cx="393.8" cy="110.8" r="2.05" fill="#ff9a1a"/><circle cx="392.9" cy="122.8" r="2.05" fill="#ff6400"/><circle cx="396.1" cy="117.7" r="2.05" fill="#ff6400"/><circle cx="396.7" cy="120.9" r="2.05" fill="#ff6400"/><circle cx="398.6" cy="122.8" r="2.05" fill="#ff6400"/><circle cx="399.2" cy="115.2" r="2.05" fill="#ff9a1a"/><circle cx="400.5" cy="112.0" r="2.05" fill="#ff9a1a"/><circle cx="401.1" cy="119.0" r="2.05" fill="#ff6400"/><circle cx="403.0" cy="122.8" r="2.05" fill="#ff6400"/><circle cx="405.5" cy="127.2" r="2.05" fill="#ff6400"/><circle cx="408.1" cy="125.3" r="2.05" fill="#ff6400"/><circle cx="385.3" cy="131.0" r="2.05" fill="#ff6400"/><circle cx="385.9" cy="133.5" r="2.05" fill="#ff6400"/><circle cx="387.2" cy="136.7" r="2.05" fill="#ff6400"/><circle cx="391.0" cy="130.4" r="2.05" fill="#ff6400"/><circle cx="393.5" cy="132.3" r="2.05" fill="#ff6400"/><circle cx="391.6" cy="135.4" r="2.05" fill="#ff6400"/><circle cx="399.2" cy="127.8" r="2.05" fill="#ff6400"/><circle cx="399.8" cy="132.9" r="2.05" fill="#ff6400"/><circle cx="399.8" cy="137.3" r="2.05" fill="#ff6400"/><circle cx="410.6" cy="132.3" r="2.05" fill="#ff6400"/><circle cx="380.2" cy="142.4" r="2.05" fill="#ff6400"/><circle cx="394.8" cy="156.4" r="2.05" fill="#ff6400"/><circle cx="387.8" cy="160.2" r="2.05" fill="#ff6400"/><circle cx="380.2" cy="167.1" r="2.05" fill="#ff6400"/><circle cx="377.0" cy="179.8" r="2.05" fill="#ff6400"/><circle cx="380.2" cy="191.2" r="2.05" fill="#ff6400"/><circle cx="394.8" cy="180.4" r="2.05" fill="#ff6400"/><circle cx="394.8" cy="204.5" r="2.05" fill="#ff6400"/><circle cx="394.8" cy="209.5" r="2.05" fill="#ff6400"/><circle cx="377.5" cy="242.5" r="2.05" fill="#ff6400"/><circle cx="380.7" cy="239.3" r="2.05" fill="#ff6400"/><circle cx="395.0" cy="229.0" r="2.05" fill="#ff6400"/><circle cx="373.7" cy="240.9" r="2.05" fill="#ff6400"/><circle cx="380.4" cy="214.3" r="2.05" fill="#ff6400"/><circle cx="377.7" cy="179.3" r="2.05" fill="#ff6400"/><circle cx="407.5" cy="123.4" r="2.05" fill="#ff6400"/><circle cx="406.3" cy="127.2" r="2.05" fill="#ff6400"/><circle cx="413.2" cy="129.1" r="2.05" fill="#ff6400"/><circle cx="415.1" cy="130.4" r="2.05" fill="#ff6400"/><circle cx="417.0" cy="129.7" r="2.05" fill="#ff6400"/><circle cx="418.3" cy="131.6" r="2.05" fill="#ff6400"/><circle cx="412.6" cy="132.9" r="2.05" fill="#ff6400"/><circle cx="415.8" cy="133.5" r="2.05" fill="#ff6400"/><circle cx="420.2" cy="138.0" r="2.05" fill="#ff6400"/><circle cx="425.9" cy="134.2" r="2.05" fill="#ff6400"/><circle cx="428.4" cy="129.1" r="2.05" fill="#ff6400"/><circle cx="430.3" cy="130.4" r="2.05" fill="#ff9a1a"/><circle cx="429.7" cy="109.5" r="2.05" fill="#ff9a1a"/><circle cx="434.1" cy="107.0" r="2.05" fill="#ff9a1a"/><circle cx="436.0" cy="112.0" r="2.05" fill="#ff9a1a"/><circle cx="435.4" cy="114.6" r="2.05" fill="#ff9a1a"/><circle cx="438.5" cy="116.5" r="2.05" fill="#ff6400"/><circle cx="440.4" cy="119.0" r="2.05" fill="#ff6400"/><circle cx="439.8" cy="121.5" r="2.05" fill="#ff6400"/><circle cx="443.0" cy="120.3" r="2.05" fill="#ff6400"/><circle cx="443.0" cy="123.4" r="2.05" fill="#ff6400"/><circle cx="432.2" cy="122.8" r="2.05" fill="#ff9a1a"/><circle cx="433.5" cy="124.7" r="2.05" fill="#ff9a1a"/><circle cx="437.9" cy="129.7" r="2.05" fill="#ff6400"/><circle cx="430.9" cy="155.7" r="2.05" fill="#ff9a1a"/><circle cx="437.9" cy="154.5" r="2.05" fill="#ff9a1a"/><circle cx="444.2" cy="142.4" r="2.05" fill="#ff6400"/><circle cx="444.2" cy="166.5" r="2.05" fill="#ff6400"/><circle cx="437.9" cy="177.2" r="2.05" fill="#ff6400"/><circle cx="431.2" cy="180.0" r="2.05" fill="#ff6400"/><circle cx="437.8" cy="178.3" r="2.05" fill="#ff6400"/><circle cx="446.3" cy="190.8" r="2.05" fill="#ff6400"/><circle cx="446.3" cy="195.9" r="2.05" fill="#ff6400"/><circle cx="446.3" cy="200.8" r="2.05" fill="#ff6400"/><circle cx="446.3" cy="205.6" r="2.05" fill="#ff6400"/><circle cx="431.2" cy="204.2" r="2.05" fill="#ff6400"/><circle cx="437.8" cy="202.8" r="2.05" fill="#ff6400"/><circle cx="437.8" cy="207.6" r="2.05" fill="#ff6400"/><circle cx="446.3" cy="215.3" r="2.05" fill="#ff6400"/><circle cx="446.3" cy="220.4" r="2.05" fill="#ff6400"/><circle cx="431.2" cy="228.4" r="2.05" fill="#ff6400"/><circle cx="437.8" cy="227.0" r="2.05" fill="#ff6400"/><circle cx="460.0" cy="202.7" r="2.05" fill="#ff6400"/><circle cx="460.0" cy="221.8" r="2.05" fill="#ff6400"/><circle cx="380.9" cy="215.5" r="2.05" fill="#ff6400"/><circle cx="429.0" cy="114.6" r="2.05" fill="#ff9a1a"/><circle cx="430.2" cy="108.9" r="2.05" fill="#ff9a1a"/><circle cx="434.7" cy="111.5" r="2.05" fill="#ff9a1a"/><circle cx="435.3" cy="114.0" r="2.05" fill="#ff9a1a"/><circle cx="436.6" cy="107.7" r="2.05" fill="#ff9a1a"/><circle cx="438.5" cy="115.3" r="2.05" fill="#ff6400"/><circle cx="439.7" cy="119.1" r="2.05" fill="#ff6400"/><circle cx="441.0" cy="121.6" r="2.05" fill="#ff6400"/><circle cx="442.9" cy="120.3" r="2.05" fill="#ff6400"/><circle cx="444.2" cy="118.4" r="2.05" fill="#ff6400"/><circle cx="445.4" cy="123.5" r="2.05" fill="#ff6400"/><circle cx="447.3" cy="125.4" r="2.05" fill="#ff6400"/><circle cx="449.2" cy="126.6" r="2.05" fill="#ff6400"/><circle cx="451.1" cy="127.9" r="2.05" fill="#ff6400"/><circle cx="431.5" cy="122.2" r="2.05" fill="#ff6400"/><circle cx="433.4" cy="123.5" r="2.05" fill="#ff6400"/><circle cx="432.1" cy="125.4" r="2.05" fill="#ff6400"/><circle cx="427.7" cy="128.5" r="2.05" fill="#ff6400"/><circle cx="429.6" cy="130.4" r="2.05" fill="#ff6400"/><circle cx="425.8" cy="133.6" r="2.05" fill="#ff6400"/><circle cx="437.8" cy="129.2" r="2.05" fill="#ff6400"/><circle cx="448.6" cy="126.5" r="2.05" fill="#ff6400"/><circle cx="450.5" cy="129.6" r="2.05" fill="#ff6400"/><circle cx="454.3" cy="130.9" r="2.05" fill="#ff6400"/><circle cx="455.0" cy="134.7" r="2.05" fill="#ff6400"/><circle cx="457.5" cy="135.3" r="2.05" fill="#ff6400"/><circle cx="459.4" cy="136.6" r="2.05" fill="#ff6400"/><circle cx="461.9" cy="138.5" r="2.05" fill="#ff6400"/><circle cx="463.8" cy="141.0" r="2.05" fill="#ff6400"/><circle cx="460.7" cy="142.9" r="2.05" fill="#ff6400"/><circle cx="461.9" cy="145.4" r="2.05" fill="#ff6400"/><circle cx="465.7" cy="145.4" r="2.05" fill="#ff6400"/><circle cx="467.6" cy="148.0" r="2.05" fill="#ff6400"/><circle cx="471.4" cy="143.5" r="2.05" fill="#10e010"/><circle cx="472.7" cy="136.6" r="2.05" fill="#c8b400"/><circle cx="473.9" cy="119.5" r="2.05" fill="#ff6400"/><circle cx="475.2" cy="129.6" r="2.05" fill="#ff6400"/><circle cx="476.5" cy="136.6" r="2.05" fill="#ff6400"/><circle cx="475.2" cy="148.0" r="2.05" fill="#ff6400"/><circle cx="448.0" cy="141.6" r="2.05" fill="#ff6400"/><circle cx="473.8" cy="118.9" r="2.05" fill="#ff6400"/><circle cx="472.5" cy="123.9" r="2.05" fill="#ff9a1a"/><circle cx="475.1" cy="127.7" r="2.05" fill="#ff6400"/><circle cx="476.3" cy="135.3" r="2.05" fill="#ff6400"/><circle cx="480.1" cy="129.0" r="2.05" fill="#ff9a1a"/><circle cx="480.8" cy="132.2" r="2.05" fill="#ff9a1a"/><circle cx="482.7" cy="135.3" r="2.05" fill="#ff6400"/><circle cx="483.3" cy="139.1" r="2.05" fill="#ff6400"/><circle cx="485.2" cy="139.7" r="2.05" fill="#ff6400"/><circle cx="488.4" cy="122.0" r="2.05" fill="#ff6400"/><circle cx="490.3" cy="129.0" r="2.05" fill="#ff6400"/><circle cx="490.9" cy="134.7" r="2.05" fill="#ff6400"/><circle cx="493.4" cy="130.3" r="2.05" fill="#ff9a1a"/><circle cx="494.7" cy="123.9" r="2.05" fill="#ff6400"/><circle cx="497.2" cy="127.7" r="2.05" fill="#ff6400"/><circle cx="497.8" cy="137.8" r="2.05" fill="#ff6400"/><circle cx="499.7" cy="132.8" r="2.05" fill="#ff6400"/><circle cx="500.4" cy="139.7" r="2.05" fill="#808a8c"/><circle cx="502.3" cy="130.9" r="2.05" fill="#ff6400"/><circle cx="504.2" cy="144.2" r="2.05" fill="#ff6400"/><circle cx="506.7" cy="141.0" r="2.05" fill="#ff6400"/><circle cx="508.0" cy="137.8" r="2.05" fill="#ff6400"/><circle cx="509.2" cy="146.1" r="2.05" fill="#ff6400"/><circle cx="511.8" cy="145.4" r="2.05" fill="#ff6400"/><circle cx="472.5" cy="136.6" r="2.05" fill="#c8b400"/><circle cx="471.9" cy="143.5" r="2.05" fill="#10e010"/><circle cx="475.7" cy="148.6" r="2.05" fill="#ff6400"/><circle cx="460.2" cy="153.9" r="2.05" fill="#ff6400"/><circle cx="460.2" cy="177.9" r="2.05" fill="#ff6400"/><circle cx="469.1" cy="152.6" r="2.05" fill="#ff6400"/><circle cx="475.4" cy="149.6" r="2.05" fill="#ff6400"/><circle cx="483.0" cy="155.1" r="2.05" fill="#ff6400"/><circle cx="484.5" cy="156.6" r="2.05" fill="#ff6400"/><circle cx="490.6" cy="151.3" r="2.05" fill="#ff6400"/><circle cx="498.2" cy="154.6" r="2.05" fill="#ff6400"/><circle cx="503.2" cy="155.6" r="2.05" fill="#ff6400"/><circle cx="506.3" cy="155.1" r="2.05" fill="#ff6400"/><circle cx="509.6" cy="153.9" r="2.05" fill="#ff6400"/><circle cx="512.1" cy="151.3" r="2.05" fill="#ff6400"/><circle cx="475.4" cy="173.6" r="2.05" fill="#ff6400"/><circle cx="490.6" cy="175.9" r="2.05" fill="#ff6400"/><circle cx="483.0" cy="179.2" r="2.05" fill="#ff6400"/><circle cx="498.2" cy="178.4" r="2.05" fill="#ff6400"/><circle cx="502.7" cy="180.4" r="2.05" fill="#ff6400"/><circle cx="475.4" cy="197.7" r="2.05" fill="#ff6400"/><circle cx="483.0" cy="198.7" r="2.05" fill="#ff6400"/><circle cx="483.0" cy="203.7" r="2.05" fill="#ff6400"/><circle cx="490.6" cy="199.4" r="2.05" fill="#ff6400"/><circle cx="498.2" cy="200.2" r="2.05" fill="#ff6400"/><circle cx="498.2" cy="203.7" r="2.05" fill="#ff6400"/><circle cx="503.2" cy="199.4" r="2.05" fill="#ff6400"/><circle cx="503.2" cy="205.0" r="2.05" fill="#ff6400"/><circle cx="483.0" cy="213.4" r="2.05" fill="#ff6400"/><circle cx="475.4" cy="219.7" r="2.05" fill="#ff6400"/><circle cx="490.6" cy="219.2" r="2.05" fill="#ff6400"/><circle cx="498.2" cy="220.4" r="2.05" fill="#ff6400"/><circle cx="503.2" cy="223.5" r="2.05" fill="#ff6400"/><circle cx="317.8" cy="296.4" r="2.05" fill="#ff6400"/><circle cx="317.8" cy="252.4" r="2.05" fill="#ff6400"/><circle cx="281.7" cy="256.8" r="2.05" fill="#c8b400"/><circle cx="288.0" cy="252.4" r="2.05" fill="#ff6400"/><circle cx="289.3" cy="258.7" r="2.05" fill="#ff6400"/><circle cx="237.3" cy="253.3" r="2.05" fill="#ff6400"/><circle cx="249.3" cy="251.5" r="2.05" fill="#ff6400"/></g>
<path d="M56 174.8 C110 179 190 187 256 200.5 C300 209 340 215 377 218 C400 219.8 420 220.8 441 221.5" fill="none" stroke="#c8c8c8" stroke-width="0.9" stroke-dasharray="2.2 2.4"/>
<line x1="35.5" y1="214.2" x2="542.7" y2="214.2" stroke="#3a3a3a" stroke-width="1" stroke-dasharray="2.3 2.3"/>
<path d="M101.5 24.4H236.2V92.4H323.4V102.2H354.4V125.7H470.8V180.3H510.6V155.7" fill="none" stroke="#3a3a3a" stroke-width="1" stroke-dasharray="2.3 2.3"/>
<path d="M510.6 155.7H519.5" fill="none" stroke="#909090" stroke-width="1" stroke-dasharray="2.3 2.3"/>
<path d="M373 112.8H431" fill="none" stroke="#c8c8c8" stroke-width="0.9" stroke-dasharray="2.2 2.4"/>
<path d="M236.2 59C236.7 58 238.4 54.7 239.4 52.7C240.4 50.7 241.2 47.2 242.2 47C243.1 46.8 244.3 51.6 245.1 51.4C245.9 51.2 246.2 47.8 247 45.7C247.8 43.7 249 39.7 249.8 39.1C250.6 38.5 251.1 42 252 41.9C252.9 41.8 254.3 38.7 255.2 38.5C256.1 38.3 256.8 39.5 257.4 40.7C258 41.9 258.5 44.3 259 45.7C259.5 47.1 259.8 48.6 260.3 48.9C260.8 49.2 261.5 47.2 262.2 47.6C262.9 48 264.1 49.6 264.7 51.4C265.3 53.2 265.5 56.8 266 58.4C266.5 60 267 60.3 267.5 61C268 61.7 268.3 62.1 268.9 62.7C269.4 63.3 270.5 64.3 270.8 64.6" fill="none" stroke="#12e812" stroke-width="4.2" stroke-linejoin="round" stroke-linecap="round"/>
<path d="M35 112.2C35.8 111 38.4 105 39.7 105.1C41 105.2 41.5 112.7 42.6 112.7C43.7 112.7 45.2 104.6 46.4 105.1C47.6 105.6 48.9 114.4 50 115.6C51.1 116.8 51.8 111.4 53 112.2C54.2 113 56.1 119.7 57.3 120.3C58.5 120.9 59.2 114.7 60.4 115.6C61.6 116.5 63.3 124.2 64.4 125.5C65.5 126.8 65.9 122 67 123.2C68.1 124.4 69.6 132.8 71.1 132.7C72.6 132.6 74.7 122.9 76.1 122.7C77.5 122.5 78.3 130.8 79.4 131.6C80.5 132.4 81.7 127.2 82.7 127.7C83.7 128.2 84.2 135.7 85.5 134.7C86.8 133.7 89.1 122.5 90.5 121.6C91.9 120.7 92.6 129.3 93.8 129.1C95 128.9 96.5 121.5 97.5 120.5C98.5 119.5 98.6 124.2 99.5 123.3C100.4 122.4 101.7 114.8 103 115.3C104.3 115.8 105.7 125.7 107.2 126.6C108.7 127.5 110.8 120.8 112.2 120.5C113.6 120.2 114.4 125.4 115.5 124.9C116.6 124.4 117.8 118.2 118.8 117.7C119.8 117.2 120.3 123 121.6 122.1C122.8 121.1 124.9 112.5 126.3 112C127.7 111.5 129 118.6 130.1 119C131.2 119.4 131.5 114.2 132.6 114.6C133.7 115 134.9 122.2 136.4 121.2C137.9 120.2 140.2 109.8 141.5 108.3C142.8 106.8 142.9 112.9 144 112C145.1 111.1 146.6 103.7 147.8 102.9C149 102.1 149.7 107.7 151 107C152.3 106.3 154.2 99.3 155.4 98.8C156.7 98.3 157.4 104.2 158.5 103.8C159.6 103.4 161 96.4 162.1 96.2C163.2 96 163.9 102.8 165.1 102.8C166.3 102.8 168.2 97.2 169.5 96.5C170.8 95.8 171.5 99.3 172.7 98.4C173.9 97.5 175.3 91.2 176.5 91.2C177.7 91.2 178.5 97.6 179.6 98.4C180.7 99.2 181.5 95.1 182.8 95.9C184.1 96.8 185.9 102.9 187.2 103.5C188.5 104.1 189.2 99.4 190.4 99.7C191.6 100 192.9 105.3 194.2 105.4C195.5 105.5 197 99.9 198.3 100.3C199.6 100.7 200.7 108 202 108C203.3 108 205.2 101.2 206.4 100.4C207.6 99.7 207.9 103.6 208.9 103.5C209.9 103.4 211.5 99.3 212.7 99.7C213.9 100.1 214.5 106.1 215.9 106.1C217.3 106.1 219.8 100.5 221 99.7C222.2 98.9 222.1 102 222.8 101C223.5 100 224.6 96.5 225.4 94C226.2 91.5 227.1 87.7 227.9 85.8C228.7 83.9 229.6 85.2 230.4 82.7C231.2 80.2 231.5 75 232.5 71C233.5 67 235 62 236.2 59C237.3 56 238.4 54.7 239.4 52.7C240.4 50.7 241.2 47.2 242.2 47C243.1 46.8 244.3 51.6 245.1 51.4C245.9 51.2 246.2 47.8 247 45.7C247.8 43.7 249 39.7 249.8 39.1C250.6 38.5 251.1 42 252 41.9C252.9 41.8 254.3 38.7 255.2 38.5C256.1 38.3 256.8 39.5 257.4 40.7C258 41.9 258.5 44.3 259 45.7C259.5 47.1 259.8 48.6 260.3 48.9C260.8 49.2 261.5 47.2 262.2 47.6C262.9 48 264.1 49.6 264.7 51.4C265.3 53.2 265.5 56.8 266 58.4C266.5 60 267 60.3 267.5 61C268 61.7 268.3 62.1 268.9 62.7C269.4 63.3 270.2 63.4 270.8 64.6C271.4 65.8 272.1 68.4 272.7 69.7C273.3 71 274 71.6 274.6 72.2C275.2 72.8 276 73.2 276.5 73.5C277 73.8 277.1 73 277.6 73.9C278.1 74.8 278.9 77 279.5 78.9C280.1 80.8 280.7 84.5 281.4 85.3C282.1 86.1 283.2 84.1 283.9 84C284.6 83.9 285.2 83.5 285.8 84.6C286.4 85.6 286.9 89.1 287.7 90.3C288.4 91.5 289.4 91.1 290.3 91.6C291.2 92.1 292 92 292.8 93.5C293.6 95 294.6 99 295.3 100.4C296 101.8 296.6 101.4 297.2 101.7C297.8 102 297.7 101 298.6 102C299.5 103 301.4 107.8 302.8 107.7C304.2 107.6 305.9 101.3 307.1 101.3C308.3 101.3 308.6 107.8 310 107.7C311.4 107.6 314.3 100.9 315.7 100.6C317.1 100.2 317.6 105.6 318.5 105.6C319.4 105.6 320.3 100.5 321.4 100.6C322.5 100.7 323.6 106.8 324.9 106.3C326.2 105.8 327.9 99.4 329.2 97.8C330.5 96.2 331.5 98.8 332.7 96.4C333.9 94 335.4 85.5 336.3 83.5C337.2 81.5 337.4 85.2 338.4 84.2C339.3 83.2 341 79.2 342 77.8C343 76.4 343.4 75.3 344.2 76C345 76.7 345.7 81.8 346.6 82.1C347.5 82.4 348.4 76.8 349.5 77.9C350.6 79 352.2 87.2 353.3 88.7C354.4 90.2 355.2 86.6 356.1 86.8C357.1 87 358.2 88 359 89.7C359.8 91.5 360.1 96.2 360.9 97.3C361.7 98.4 362.8 95.5 363.7 96.3C364.6 97.1 365.8 100.6 366.6 102C367.4 103.4 367.7 104.6 368.5 104.9C369.3 105.2 370.4 103 371.3 103.9C372.2 104.9 373.4 108.5 374.2 110.6C375 112.7 375.3 115.8 376.1 116.3C376.9 116.8 377.8 112.5 378.9 113.4C380 114.4 381.4 122.3 382.7 122C384 121.7 385.2 112.3 386.5 111.5C387.8 110.7 389.1 118.1 390.3 117.2C391.5 116.3 392.7 106.8 393.8 106.1C394.9 105.4 396.1 112.7 397.2 112.8C398.3 112.9 399.2 105.8 400.4 106.7C401.6 107.7 402.9 117.2 404.2 118.5C405.5 119.8 406.7 113.6 408 114.7C409.3 115.8 410.4 124.6 411.8 125.1C413.2 125.6 415.2 117.7 416.6 117.5C418 117.3 419.3 124 420.4 124.2C421.5 124.4 422.2 118 423.2 118.5C424.1 119 425.1 127.5 426.1 127C427.1 126.5 428.2 118.6 429 115.3C429.8 112 430.3 108.3 430.9 107C431.5 105.7 432.3 107.9 432.8 107.7C433.3 107.5 433.4 106.8 434 105.8C434.6 104.8 435.9 101.7 436.6 102C437.4 102.3 437.9 105.7 438.5 107.7C439.1 109.7 439.6 113.7 440.4 114C441.2 114.3 442.6 109.4 443.5 109.6C444.4 109.8 445.2 113.3 446 115.3C446.8 117.3 447.4 121 448.3 121.5C449.2 122 450.3 117.6 451.2 118.2C452.1 118.8 453 123.6 453.7 125.2C454.4 126.8 455 127.1 455.6 127.7C456.2 128.3 456.9 128.9 457.5 129C458.1 129.1 458.7 127.6 459.4 128.4C460.1 129.2 461 132.5 461.9 134C462.8 135.5 463.8 136.8 464.5 137.2C465.2 137.6 465.8 135.9 466.4 136.6C467 137.3 467.7 139.9 468.3 141.6C468.9 143.3 469.7 147.8 470.2 146.7C470.7 145.6 470.9 139.7 471.4 135.3C471.9 130.9 472.6 121.9 473.3 120.1C474 118.3 474.5 124.7 475.3 124.5C476.1 124.3 477.6 118.8 478.4 118.8C479.2 118.8 479.4 122.4 480.3 124.5C481.2 126.6 482.6 131.2 483.5 131.4C484.4 131.6 485.1 127.5 486 125.7C486.9 123.9 487.8 120.7 488.6 120.7C489.5 120.7 490.5 124.4 491.1 125.7C491.7 127 491.8 129.1 492.4 128.3C493 127.5 494 121.1 494.9 120.7C495.8 120.3 496.9 124.1 497.6 126C498.3 127.9 498.5 131.5 499.2 132C499.9 132.5 501.2 128.8 501.9 128.8C502.6 128.8 502.9 129.9 503.5 132C504.1 134.1 504.8 140.2 505.7 141.1C506.6 142 508 137.5 508.9 137.4C509.8 137.3 510.3 138.9 511 140.6C511.7 142.3 512.5 147.1 513.2 147.6C513.9 148.1 515 144.4 515.4 143.8" fill="none" stroke="#000" stroke-width="1.2" stroke-linejoin="round"/>
<rect x="35.5" y="6.4" width="507.2" height="294.1" fill="none" stroke="#b0b0b0" stroke-width="1.1"/>
<line x1="33.3" x2="35.2" y1="254.5" y2="254.5" stroke="#444" stroke-width="0.9"/>
<text x="32.4" y="257.2" font-size="7.4" fill="#4d4d4d" stroke="#4d4d4d" stroke-width="0.08" text-anchor="end">1270</text>
<line x1="33.3" x2="35.2" y1="174.9" y2="174.9" stroke="#444" stroke-width="0.9"/>
<text x="32.4" y="177.6" font-size="7.4" fill="#4d4d4d" stroke="#4d4d4d" stroke-width="0.08" text-anchor="end">1275</text>
<line x1="33.3" x2="35.2" y1="95.2" y2="95.2" stroke="#444" stroke-width="0.9"/>
<text x="32.4" y="98" font-size="7.4" fill="#4d4d4d" stroke="#4d4d4d" stroke-width="0.08" text-anchor="end">1280</text>
<line x1="33.3" x2="35.2" y1="15.6" y2="15.6" stroke="#444" stroke-width="0.9"/>
<text x="32.4" y="18.3" font-size="7.4" fill="#4d4d4d" stroke="#4d4d4d" stroke-width="0.08" text-anchor="end">1285</text>
<line x1="58.3" x2="58.3" y1="300.8" y2="302.6" stroke="#444" stroke-width="0.9"/>
<text x="58.3" y="309" font-size="7.4" fill="#4d4d4d" stroke="#4d4d4d" stroke-width="0.08" text-anchor="middle">1960</text>
<line x1="203" x2="203" y1="300.8" y2="302.6" stroke="#444" stroke-width="0.9"/>
<text x="203" y="309" font-size="7.4" fill="#4d4d4d" stroke="#4d4d4d" stroke-width="0.08" text-anchor="middle">1980</text>
<line x1="347.8" x2="347.8" y1="300.8" y2="302.6" stroke="#444" stroke-width="0.9"/>
<text x="347.8" y="309" font-size="7.4" fill="#4d4d4d" stroke="#4d4d4d" stroke-width="0.08" text-anchor="middle">2000</text>
<line x1="492.5" x2="492.5" y1="300.8" y2="302.6" stroke="#444" stroke-width="0.9"/>
<text x="492.5" y="309" font-size="7.4" fill="#4d4d4d" stroke="#4d4d4d" stroke-width="0.08" text-anchor="middle">2020</text>
<text transform="translate(12.3 153.3) rotate(-90)" font-size="9.5" fill="#111" text-anchor="middle">Elevation (m)</text>
<text x="54.8" y="27.5" font-size="7.5" fill="#1a1a1a">Salinity (g/L)</text>
<rect x="55" y="33.6" width="8.9" height="46.1" fill="url(#cb)"/>
<text x="67.9" y="36.2" font-size="6.4" fill="#1a1a1a">300</text>
<text x="67.9" y="51.4" font-size="6.4" fill="#1a1a1a">200</text>
<text x="67.9" y="66.7" font-size="6.4" fill="#1a1a1a">100</text>
<text x="67.9" y="81.9" font-size="6.4" fill="#1a1a1a">0</text>
<text x="166.5" y="22.2" fill="#828282" font-size="6.05" text-anchor="middle">Causeway Openings</text>
<text x="166.5" y="30.8" fill="#828282" font-size="6.05" text-anchor="middle">Invert Elevation</text>
<text x="81.5" y="114.4" fill="#828282" font-size="6.05" text-anchor="middle">Lake WSE</text>
<text x="78.9" y="209.4" fill="#828282" font-size="6.05" text-anchor="middle">Permeable Fill</text>
<text x="78.9" y="223.4" fill="#828282" font-size="6.05" text-anchor="middle">Impermeable Fill</text>
<text x="310.0" y="56.4" fill="#828282" font-size="6.05" text-anchor="middle">Limited</text>
<text x="310.0" y="65.3" fill="#828282" font-size="6.05" text-anchor="middle">Exchange</text>
<path d="M293.6 72.9H327.3" stroke="#7a7a7a" stroke-width="0.95"/>
<path d="M295.20000000000005 71.1L293.1 72.9L295.20000000000005 74.7M325.7 71.1L327.8 72.9L325.7 74.7" fill="none" stroke="#7a7a7a" stroke-width="0.95" stroke-linejoin="miter"/>
<text x="413.9" y="56.4" fill="#828282" font-size="6.05" text-anchor="middle">Limited</text>
<text x="413.9" y="65.3" fill="#828282" font-size="6.05" text-anchor="middle">Exchange</text>
<path d="M408.8 72.9H419.5" stroke="#7a7a7a" stroke-width="0.95"/>
<path d="M410.40000000000003 71.1L408.3 72.9L410.40000000000003 74.7M417.9 71.1L420.0 72.9L417.9 74.7" fill="none" stroke="#7a7a7a" stroke-width="0.95" stroke-linejoin="miter"/>
<text x="462.0" y="56.4" fill="#828282" font-size="6.05" text-anchor="middle">Limited</text>
<text x="462.0" y="65.3" fill="#828282" font-size="6.05" text-anchor="middle">Exchange</text>
<path d="M454.4 72.9H470.1" stroke="#7a7a7a" stroke-width="0.95"/>
<path d="M456.0 71.1L453.9 72.9L456.0 74.7M468.5 71.1L470.6 72.9L468.5 74.7" fill="none" stroke="#7a7a7a" stroke-width="0.95" stroke-linejoin="miter"/>
<text transform="translate(48.5 279.6) rotate(-90)" fill="#828282" font-size="6.05" text-anchor="middle">Causeway</text>
<text transform="translate(57.0 279.4) rotate(-90)" fill="#828282" font-size="6.05" text-anchor="middle">Completed</text>
<text transform="translate(262.2 279.6) rotate(-90)" fill="#828282" font-size="6.05" text-anchor="middle">West Desert</text>
<text transform="translate(270.4 280.0) rotate(-90)" fill="#828282" font-size="6.05" text-anchor="middle">Pumping</text>
<text transform="translate(283.4 279.6) rotate(-90)" fill="#828282" font-size="6.05" text-anchor="middle">West Desert</text>
<text transform="translate(291.6 281.4) rotate(-90)" fill="#828282" font-size="6.05" text-anchor="middle">Return</text>
<text x="524.5" y="25.4" font-size="12.4" fill="#111" text-anchor="middle" style="font-family:'Liberation Serif',serif">(a)</text>
</svg></body></html>
